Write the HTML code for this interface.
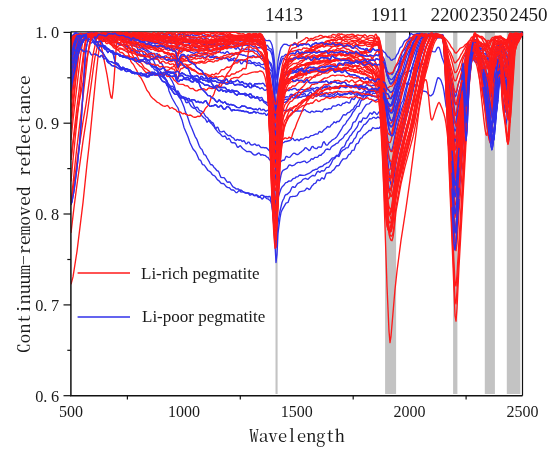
<!DOCTYPE html>
<html><head><meta charset="utf-8"><style>
html,body{margin:0;padding:0;background:#fff;}
svg{display:block;}
.t{font-family:"Liberation Serif","Noto Serif CJK SC",serif;fill:#1a1a1a;}
.m{font-family:"Noto Serif CJK SC","Liberation Serif",serif;font-feature-settings:"hwid";fill:#1a1a1a;}
</style></head><body>
<svg width="550" height="451" viewBox="0 0 550 451">
<rect width="550" height="451" fill="#fff"/>
<rect x="385.1" y="32" width="11.0" height="362.0" fill="#c3c3c3"/><rect x="453.1" y="32" width="4.3" height="362.0" fill="#c3c3c3"/><rect x="484.8" y="32" width="10.1" height="362.0" fill="#c3c3c3"/><rect x="506.8" y="32" width="13.6" height="362.0" fill="#c3c3c3"/><rect x="275.5" y="32" width="2.1" height="362.0" fill="#c3c3c3"/>
<g stroke="#111" stroke-width="1.2" fill="none">
<path d="M70.9 31.8 H522.5 V395.7"/>
<line x1="63.5" y1="32.4" x2="71" y2="32.4"/><line x1="63.5" y1="123.2" x2="71" y2="123.2"/><line x1="63.5" y1="214.0" x2="71" y2="214.0"/><line x1="63.5" y1="304.9" x2="71" y2="304.9"/><line x1="63.5" y1="395.7" x2="71" y2="395.7"/><line x1="67.3" y1="77.8" x2="71" y2="77.8"/><line x1="67.3" y1="168.6" x2="71" y2="168.6"/><line x1="67.3" y1="259.5" x2="71" y2="259.5"/><line x1="67.3" y1="350.3" x2="71" y2="350.3"/><line x1="127.4" y1="395.6" x2="127.4" y2="399.5"/><line x1="240.3" y1="395.6" x2="240.3" y2="399.5"/><line x1="353.2" y1="395.6" x2="353.2" y2="399.5"/><line x1="466.1" y1="395.6" x2="466.1" y2="399.5"/><line x1="71.0" y1="32" x2="71.0" y2="38.8"/><line x1="183.9" y1="32" x2="183.9" y2="38.8"/><line x1="296.8" y1="32" x2="296.8" y2="38.8"/><line x1="409.6" y1="32" x2="409.6" y2="38.8"/><line x1="522.5" y1="32" x2="522.5" y2="38.8"/>
</g>
<svg x="70.9" y="0" width="452" height="395.7" viewBox="70.9 0 452 395.7" overflow="hidden">
<g fill="none" stroke-width="1.35" stroke-linejoin="round">
<path d="M71.0 81.4 73.0 66.4 74.0 60.9 77.0 48.1 78.0 46.4 79.0 44.1 80.0 41.0 82.0 37.0 83.0 36.4 84.0 36.1 86.0 34.2 87.0 34.3 89.0 36.5 91.0 35.6 92.0 36.5 94.0 35.6 95.0 35.9 96.0 35.7 98.0 34.8 99.0 35.2 100.0 36.1 101.0 36.6 102.0 36.8 103.0 36.8 104.0 36.6 105.0 36.0 107.0 35.3 109.0 36.2 111.0 34.8 112.0 35.2 113.0 36.1 114.0 36.4 116.0 35.8 118.0 36.2 119.0 37.0 120.0 38.5 122.0 39.8 123.0 41.3 124.0 41.0 125.0 39.6 126.0 40.5 127.0 42.0 129.0 42.8 132.0 45.6 134.0 45.7 135.0 46.3 136.0 46.0 137.0 47.4 138.0 50.1 139.0 50.0 140.0 49.2 142.0 50.9 144.0 55.2 145.0 54.6 146.0 53.5 147.0 54.4 148.0 55.8 150.0 56.8 151.0 58.6 152.0 59.6 153.0 59.7 154.0 61.4 156.0 66.4 157.0 67.7 158.0 68.3 159.0 69.9 161.0 72.0 163.0 77.5 167.0 80.9 169.0 91.0 172.0 98.0 176.0 105.0 178.0 108.0 179.0 111.1 180.0 115.1 182.0 119.9 184.0 127.4 188.0 136.7 190.0 142.8 193.0 149.0 195.0 151.2 196.0 152.7 197.0 154.7 199.0 159.6 200.0 160.0 201.0 161.0 202.0 163.8 203.0 164.9 204.0 164.9 205.0 166.1 208.0 170.5 210.0 171.7 211.0 172.6 212.0 174.3 213.0 175.2 214.0 175.5 215.0 176.2 217.0 179.2 218.0 180.2 219.0 180.8 221.0 183.2 222.0 183.6 223.0 183.5 224.0 183.8 226.0 186.4 227.0 187.2 228.0 187.6 229.0 187.6 230.0 188.3 231.0 189.6 232.0 190.0 233.0 190.0 234.0 190.4 236.0 192.6 237.0 192.6 239.0 190.5 240.0 191.0 241.0 192.1 243.0 191.6 245.0 193.0 246.0 193.1 247.0 192.9 248.0 193.1 250.0 195.2 251.0 194.8 252.0 193.8 253.0 194.2 254.0 195.7 255.0 195.9 256.0 195.2 257.0 195.1 258.0 195.7 259.0 196.8 260.0 196.5 261.0 195.4 262.0 195.1 263.0 195.4 265.0 197.0 267.0 196.5 268.0 197.1 269.0 196.4 270.0 196.3 271.0 200.6 272.0 206.2 273.0 214.9 275.0 244.6 276.0 262.5 277.0 254.5 278.0 233.1 280.0 217.8 281.0 212.6 282.0 210.2 286.0 203.1 288.0 202.4 290.0 197.1 291.0 196.6 292.0 196.7 293.0 196.3 295.0 196.4 297.0 195.6 298.0 194.2 299.0 192.3 300.0 191.6 304.0 190.9 305.0 190.4 306.0 189.1 307.0 188.1 308.0 188.6 309.0 189.5 310.0 189.2 312.0 185.8 313.0 185.0 314.0 183.7 315.0 183.4 316.0 182.7 317.0 180.4 318.0 179.7 319.0 180.6 320.0 180.3 321.0 178.8 322.0 177.7 324.0 179.1 325.0 177.1 326.0 173.9 327.0 173.0 328.0 173.1 329.0 172.5 330.0 172.9 331.0 172.5 332.0 171.0 334.0 169.6 336.0 166.6 337.0 165.6 338.0 165.9 339.0 165.3 341.0 161.7 343.0 159.0 344.0 158.8 345.0 158.9 346.0 158.6 347.0 157.8 348.0 155.7 349.0 154.3 350.0 154.1 351.0 152.7 352.0 150.4 354.0 150.2 356.0 144.5 357.0 143.6 358.0 143.3 359.0 141.7 360.0 139.0 361.0 138.1 362.0 137.8 363.0 135.9 364.0 134.8 365.0 134.5 366.0 133.4 368.0 131.8 369.0 130.5 371.0 130.5 372.0 128.7 373.0 127.5 375.0 128.5 376.0 128.6 377.0 128.0 379.0 128.3 380.0 126.8 381.0 126.4 382.0 129.9 384.0 140.2 386.0 164.0 388.0 182.0 389.0 187.4 390.0 190.4 391.0 188.9 392.0 186.2 393.0 182.4 395.0 165.7 397.0 156.3 401.0 140.9 402.0 135.8 404.0 127.7 406.0 117.3 408.0 111.9 411.0 97.3 413.0 91.4 417.0 69.3 418.0 62.9 419.0 59.3 420.0 57.7 421.0 55.6 422.0 52.8 424.0 45.2 425.0 42.3 428.0 36.1 430.0 33.9 431.0 33.4 432.0 34.5 434.0 35.1 435.0 35.7 436.0 35.4 438.0 36.2 439.0 35.6 441.0 37.5 442.0 37.7 443.0 38.8 444.0 47.2 445.0 62.6 451.0 172.1 454.0 222.6 455.0 232.9 456.0 227.5 458.0 199.1 468.0 76.2 469.0 67.8 470.0 61.7 472.0 50.6 473.0 46.5 474.0 45.3 476.0 48.7 477.0 50.8 480.0 61.5 484.0 78.8 485.0 83.9 486.0 90.6 489.0 119.6 491.0 137.0 492.0 144.0 493.0 143.7 494.0 135.4 498.0 79.9 499.0 66.8 500.0 56.7 501.0 77.1 502.0 92.3 504.0 107.8 505.0 118.0 506.0 124.8 507.0 117.8 511.0 53.2 512.0 47.5 514.0 44.1 515.0 43.2 516.0 42.6 518.0 38.8 519.0 38.0 520.0 38.0 521.0 36.6 522.0 34.1" stroke="#3030ea"/>
<path d="M71.0 90.6 73.0 78.6 75.0 70.2 78.0 55.2 81.0 45.8 84.0 39.6 85.0 37.9 86.0 36.9 88.0 37.5 89.0 37.3 90.0 37.4 91.0 36.9 92.0 35.4 93.0 34.8 94.0 35.3 95.0 35.5 99.0 35.3 100.0 35.5 102.0 37.1 105.0 36.8 108.0 37.4 109.0 37.0 111.0 37.7 112.0 37.3 114.0 36.1 115.0 36.0 117.0 37.6 118.0 37.2 119.0 36.2 120.0 35.8 121.0 36.9 122.0 37.7 123.0 37.1 127.0 39.5 128.0 39.6 130.0 40.7 131.0 41.4 133.0 44.5 134.0 45.6 136.0 44.4 138.0 44.0 139.0 45.4 140.0 47.3 143.0 49.2 145.0 50.2 148.0 52.2 149.0 54.4 150.0 55.6 151.0 54.4 152.0 53.9 153.0 55.7 154.0 58.4 155.0 59.0 156.0 58.1 157.0 58.6 158.0 59.6 160.0 63.4 161.0 63.3 162.0 63.8 164.0 68.1 166.0 70.3 168.0 74.5 172.0 80.8 174.0 85.2 176.0 91.5 179.0 97.1 180.0 98.2 181.0 99.8 183.0 104.5 184.0 106.9 185.0 110.4 186.0 113.1 187.0 115.0 190.0 124.2 192.0 128.7 195.0 136.3 197.0 139.7 199.0 145.3 200.0 147.4 201.0 148.8 202.0 149.5 204.0 154.6 205.0 154.8 206.0 155.9 207.0 158.0 209.0 161.3 210.0 163.6 211.0 164.8 212.0 164.6 213.0 165.7 214.0 167.5 215.0 168.3 217.0 170.7 218.0 171.0 219.0 172.4 220.0 175.4 221.0 177.4 222.0 177.6 224.0 177.6 225.0 178.8 227.0 181.9 228.0 182.4 229.0 181.8 230.0 182.1 232.0 185.5 233.0 186.8 235.0 187.9 236.0 188.9 237.0 189.0 238.0 188.8 240.0 190.3 241.0 190.0 242.0 190.6 243.0 191.9 245.0 192.3 246.0 193.0 248.0 192.8 249.0 193.0 251.0 194.1 252.0 194.1 254.0 195.4 256.0 194.8 258.0 197.0 259.0 197.4 260.0 197.1 261.0 197.8 262.0 199.1 263.0 198.4 264.0 196.5 265.0 196.3 266.0 198.0 267.0 198.8 268.0 198.8 269.0 199.8 270.0 200.5 271.0 201.6 272.0 205.4 273.0 213.0 275.0 233.1 276.0 247.6 277.0 241.3 278.0 223.1 279.0 216.3 280.0 211.0 282.0 202.5 283.0 200.0 284.0 198.3 285.0 195.4 286.0 194.4 287.0 194.6 290.0 191.7 292.0 187.3 293.0 186.6 294.0 187.4 295.0 187.3 297.0 184.3 298.0 183.3 301.0 181.9 303.0 179.4 305.0 178.5 306.0 178.5 307.0 179.2 308.0 179.3 310.0 177.2 312.0 175.8 313.0 175.3 314.0 175.9 315.0 175.8 317.0 172.1 318.0 171.2 320.0 172.4 321.0 171.2 322.0 170.6 323.0 171.0 324.0 170.9 325.0 169.7 326.0 168.0 327.0 167.3 328.0 167.3 329.0 167.0 331.0 163.9 333.0 159.4 334.0 158.9 335.0 158.1 336.0 156.1 337.0 155.3 338.0 155.5 339.0 154.3 341.0 149.1 342.0 147.8 343.0 147.2 344.0 146.9 345.0 145.4 346.0 142.5 347.0 140.7 348.0 139.9 350.0 136.0 351.0 135.3 353.0 132.1 354.0 131.2 357.0 127.2 358.0 124.9 359.0 121.9 360.0 121.3 361.0 122.2 362.0 120.4 363.0 118.0 364.0 118.1 365.0 118.5 366.0 118.4 367.0 117.7 370.0 112.9 371.0 113.1 372.0 114.2 374.0 111.8 375.0 112.4 376.0 113.7 377.0 114.5 378.0 113.4 379.0 111.9 380.0 112.1 381.0 113.3 383.0 117.9 384.0 121.2 385.0 126.3 387.0 151.7 389.0 172.8 390.0 180.5 391.0 184.4 392.0 183.4 393.0 181.3 394.0 178.0 396.0 163.3 399.0 147.8 403.0 130.7 405.0 123.3 409.0 106.5 411.0 100.2 414.0 84.8 417.0 72.0 418.0 69.5 419.0 66.0 421.0 55.6 423.0 50.3 426.0 39.8 427.0 37.7 429.0 35.3 430.0 34.6 431.0 34.6 432.0 35.3 434.0 35.6 435.0 35.4 436.0 35.0 437.0 35.1 440.0 36.3 441.0 37.2 443.0 37.8 444.0 48.6 445.0 67.2 448.0 133.4 453.0 226.3 454.0 243.9 455.0 249.8 456.0 241.9 461.0 170.5 464.0 131.5 467.0 86.3 468.0 75.8 469.0 69.5 470.0 65.6 471.0 62.5 472.0 60.3 474.0 57.7 475.0 57.5 476.0 58.6 477.0 60.5 478.0 63.6 481.0 76.1 484.0 92.7 486.0 107.2 489.0 134.1 491.0 146.0 492.0 149.7 493.0 144.8 498.0 91.1 499.0 81.4 500.0 75.2 501.0 82.8 502.0 95.3 504.0 103.8 505.0 109.0 506.0 112.4 507.0 106.6 510.0 61.5 511.0 49.7 512.0 45.1 513.0 41.8 514.0 41.4 515.0 41.5 516.0 39.9 517.0 39.2 518.0 38.9 520.0 37.3 521.0 35.8 522.0 33.4" stroke="#3030ea"/>
<path d="M71.0 60.2 72.0 56.4 74.0 46.7 76.0 39.2 77.0 36.5 78.0 35.9 80.0 37.3 81.0 37.0 83.0 35.5 85.0 35.9 87.0 34.6 88.0 35.4 89.0 35.9 90.0 35.1 91.0 34.9 92.0 35.5 93.0 35.5 94.0 35.0 96.0 37.1 97.0 36.6 98.0 35.7 99.0 35.5 100.0 36.6 101.0 37.1 102.0 36.4 105.0 39.5 106.0 39.6 107.0 38.0 108.0 37.9 110.0 41.1 111.0 41.2 112.0 40.0 113.0 39.6 115.0 40.0 116.0 41.0 117.0 42.5 120.0 45.0 121.0 45.1 123.0 44.6 124.0 44.8 125.0 46.5 126.0 46.5 127.0 46.0 128.0 47.8 129.0 48.0 130.0 47.5 131.0 49.2 132.0 50.3 133.0 49.8 134.0 48.9 135.0 49.5 136.0 51.7 138.0 53.6 139.0 55.3 140.0 56.0 141.0 55.7 142.0 55.8 144.0 56.8 146.0 60.7 150.0 63.6 152.0 66.9 153.0 67.5 154.0 69.0 155.0 70.0 156.0 69.8 159.0 73.7 160.0 75.4 161.0 76.5 162.0 76.5 163.0 76.3 164.0 77.0 165.0 78.3 167.0 82.0 168.0 83.4 171.0 86.7 172.0 86.2 173.0 86.4 175.0 90.9 176.0 92.2 178.0 92.9 179.0 94.8 180.0 95.9 181.0 96.1 183.0 98.4 184.0 98.5 185.0 99.9 186.0 102.4 187.0 102.8 188.0 101.9 189.0 102.5 191.0 106.1 192.0 107.1 194.0 108.4 195.0 108.4 196.0 109.2 197.0 111.0 198.0 111.8 199.0 112.1 200.0 112.9 202.0 116.0 204.0 118.0 205.0 118.5 206.0 120.1 207.0 122.3 209.0 120.1 210.0 122.3 211.0 123.2 212.0 122.4 213.0 122.9 214.0 124.8 215.0 127.5 216.0 128.6 217.0 127.2 218.0 127.5 219.0 130.2 220.0 131.6 221.0 131.8 222.0 131.8 223.0 131.3 224.0 131.2 226.0 133.8 228.0 135.5 229.0 135.7 230.0 135.3 232.0 137.3 233.0 137.7 234.0 138.6 235.0 140.2 236.0 140.4 237.0 139.4 238.0 139.6 239.0 140.3 240.0 139.8 241.0 140.0 242.0 141.5 244.0 140.7 246.0 143.8 247.0 143.6 248.0 142.1 249.0 142.1 250.0 143.7 251.0 144.8 252.0 145.0 253.0 144.9 254.0 144.2 255.0 144.0 256.0 145.1 257.0 145.6 258.0 145.0 259.0 145.2 260.0 146.6 261.0 147.6 263.0 147.4 264.0 147.7 266.0 147.7 267.0 148.3 270.0 151.5 271.0 152.9 272.0 155.2 273.0 163.2 275.0 193.6 276.0 212.4 277.0 208.9 278.0 198.0 281.0 188.8 282.0 187.0 284.0 185.1 285.0 183.5 286.0 182.6 287.0 182.4 289.0 180.9 290.0 181.2 291.0 181.0 293.0 178.7 295.0 178.2 296.0 177.0 298.0 176.6 299.0 175.4 300.0 175.0 303.0 175.3 305.0 175.2 310.0 172.8 311.0 172.1 313.0 170.2 314.0 170.2 316.0 169.2 317.0 169.4 319.0 167.3 321.0 166.5 322.0 166.5 323.0 165.9 324.0 164.6 326.0 163.6 327.0 162.8 328.0 162.6 329.0 162.0 332.0 158.1 334.0 157.7 335.0 157.2 337.0 155.5 338.0 156.1 339.0 156.5 341.0 152.0 343.0 150.1 345.0 149.2 346.0 147.9 347.0 147.9 348.0 147.6 350.0 143.6 351.0 142.9 352.0 143.0 353.0 141.4 354.0 139.0 355.0 138.3 356.0 136.9 357.0 134.0 358.0 131.8 359.0 131.5 360.0 130.9 364.0 124.5 365.0 124.4 366.0 123.5 368.0 121.0 369.0 119.5 370.0 118.5 371.0 119.0 372.0 118.5 373.0 117.4 374.0 117.4 376.0 118.5 378.0 116.9 379.0 117.7 380.0 118.1 381.0 117.7 382.0 118.6 384.0 123.8 385.0 125.5 386.0 131.0 388.0 150.0 389.0 157.2 391.0 167.9 392.0 170.7 393.0 168.5 394.0 165.5 395.0 161.2 397.0 147.6 401.0 130.7 403.0 120.6 405.0 114.3 408.0 101.7 409.0 98.2 411.0 89.3 413.0 81.7 415.0 72.4 417.0 65.1 419.0 55.5 425.0 38.8 426.0 36.8 427.0 35.7 428.0 35.3 429.0 35.8 430.0 35.8 431.0 35.2 433.0 35.5 434.0 34.8 435.0 34.4 436.0 34.4 437.0 34.5 439.0 36.0 440.0 36.3 441.0 35.7 442.0 35.7 443.0 37.1 444.0 44.8 445.0 58.9 448.0 113.3 450.0 140.7 454.0 204.9 455.0 213.9 456.0 210.2 457.0 199.3 459.0 167.4 462.0 90.5 463.0 82.7 464.0 98.8 465.0 125.5 466.0 140.6 467.0 130.9 469.0 86.1 470.0 74.2 472.0 57.4 473.0 51.6 474.0 47.7 475.0 45.8 476.0 45.5 477.0 47.3 478.0 50.3 479.0 54.6 484.0 82.7 485.0 89.4 490.0 128.8 491.0 135.8 492.0 139.7 493.0 137.0 494.0 132.4 496.0 114.4 498.0 99.9 499.0 87.4 500.0 79.7 501.0 82.2 502.0 85.5 504.0 93.1 507.0 102.2 508.0 104.5 509.0 99.8 511.0 76.5 513.0 48.5 514.0 44.1 515.0 42.5 517.0 40.7 518.0 39.4 520.0 37.8 522.0 32.7" stroke="#3030ea"/>
<path d="M71.0 64.3 75.0 46.0 76.0 42.9 78.0 38.3 79.0 36.6 80.0 35.7 82.0 36.2 83.0 35.0 84.0 34.8 85.0 35.8 87.0 36.7 88.0 36.3 89.0 35.1 90.0 35.9 91.0 37.3 94.0 35.2 95.0 34.2 98.0 36.9 99.0 38.6 100.0 39.1 101.0 38.5 102.0 38.4 103.0 38.9 104.0 40.3 105.0 40.7 107.0 38.2 108.0 38.4 110.0 41.1 111.0 41.5 112.0 40.9 113.0 40.7 114.0 41.0 115.0 41.8 117.0 43.7 118.0 43.9 119.0 43.5 121.0 44.7 122.0 44.3 123.0 44.3 124.0 43.8 125.0 44.2 126.0 45.8 128.0 46.7 132.0 50.6 133.0 51.2 134.0 50.9 136.0 52.3 137.0 52.1 138.0 51.6 139.0 51.7 141.0 55.7 142.0 55.8 143.0 55.4 146.0 58.0 147.0 59.5 148.0 60.4 149.0 60.7 151.0 63.9 153.0 66.4 155.0 66.3 156.0 67.2 158.0 71.2 160.0 74.6 161.0 75.9 162.0 76.5 164.0 76.8 165.0 77.5 167.0 80.9 169.0 86.1 170.0 87.7 171.0 87.7 173.0 89.3 174.0 89.6 176.0 91.3 178.0 91.0 180.0 94.6 181.0 95.8 182.0 96.6 183.0 97.1 184.0 97.1 186.0 97.6 188.0 101.0 190.0 100.9 192.0 101.7 193.0 103.4 194.0 105.9 195.0 107.5 196.0 107.6 197.0 107.1 198.0 108.1 199.0 110.0 200.0 110.6 201.0 110.9 203.0 112.2 204.0 113.5 205.0 115.5 206.0 116.9 207.0 117.3 208.0 118.3 209.0 120.1 210.0 120.4 211.0 121.6 212.0 124.3 214.0 126.5 215.0 128.4 218.0 132.2 220.0 133.6 222.0 136.0 223.0 136.6 225.0 136.0 226.0 137.4 227.0 139.3 228.0 139.1 229.0 138.4 230.0 139.7 231.0 141.9 232.0 142.8 233.0 142.6 235.0 143.0 236.0 144.2 237.0 146.6 238.0 147.4 240.0 145.7 241.0 146.3 242.0 147.8 243.0 148.8 247.0 151.7 249.0 151.3 251.0 152.0 253.0 154.2 254.0 154.8 255.0 155.0 256.0 154.9 258.0 153.4 259.0 152.9 261.0 155.2 262.0 154.7 263.0 154.8 264.0 155.3 265.0 155.3 267.0 157.1 268.0 157.4 269.0 159.0 270.0 160.1 271.0 160.8 272.0 163.3 273.0 172.7 276.0 224.4 277.0 215.3 278.0 193.5 279.0 185.6 281.0 175.0 282.0 171.8 283.0 170.4 287.0 168.4 289.0 165.2 290.0 164.9 292.0 165.9 294.0 165.1 295.0 164.5 296.0 163.4 298.0 162.4 299.0 162.4 300.0 162.7 304.0 161.1 305.0 161.2 306.0 162.4 307.0 162.8 310.0 160.8 311.0 159.1 312.0 158.7 313.0 159.4 315.0 157.3 317.0 157.3 318.0 156.8 319.0 155.4 320.0 155.2 321.0 155.2 322.0 154.0 324.0 152.5 325.0 150.6 326.0 149.4 328.0 149.0 329.0 149.6 330.0 149.5 331.0 147.5 332.0 146.4 335.0 144.7 336.0 143.6 338.0 142.8 339.0 141.3 340.0 140.2 341.0 139.7 342.0 138.6 343.0 138.0 345.0 134.6 346.0 134.2 347.0 133.3 350.0 129.4 351.0 128.5 352.0 126.0 353.0 122.8 354.0 121.9 355.0 121.8 356.0 120.4 359.0 114.1 360.0 113.2 361.0 113.0 362.0 111.5 363.0 109.3 366.0 104.9 367.0 104.2 369.0 103.9 371.0 101.8 373.0 100.1 374.0 100.3 375.0 100.8 378.0 99.2 379.0 99.3 381.0 102.7 382.0 103.4 383.0 104.5 384.0 107.1 385.0 114.3 387.0 133.8 388.0 140.7 389.0 145.7 390.0 149.4 391.0 151.1 392.0 149.7 393.0 145.7 395.0 135.1 397.0 127.3 399.0 118.3 402.0 107.6 404.0 101.8 405.0 97.9 408.0 83.0 410.0 77.0 413.0 63.8 414.0 61.6 415.0 58.6 417.0 49.8 421.0 39.4 422.0 38.2 424.0 36.9 425.0 35.4 426.0 34.9 427.0 35.3 429.0 34.2 430.0 34.4 431.0 35.0 434.0 35.5 435.0 34.9 436.0 34.7 438.0 36.7 439.0 36.7 441.0 35.3 442.0 36.0 443.0 37.8 444.0 45.1 445.0 58.0 448.0 106.8 450.0 132.3 454.0 189.5 455.0 196.9 456.0 192.9 459.0 157.3 464.0 110.0 467.0 72.8 468.0 63.7 469.0 61.1 470.0 61.1 471.0 59.7 472.0 59.2 473.0 59.6 474.0 60.6 475.0 61.9 476.0 62.6 477.0 62.3 478.0 62.5 479.0 64.9 482.0 75.7 485.0 84.4 487.0 95.1 490.0 116.6 492.0 128.4 493.0 132.2 494.0 129.9 495.0 123.5 497.0 100.9 499.0 84.8 500.0 74.4 501.0 73.3 502.0 82.3 503.0 87.9 506.0 101.2 507.0 103.3 508.0 95.4 511.0 55.8 512.0 46.9 515.0 40.2 516.0 39.5 517.0 39.3 519.0 36.5 520.0 36.7 521.0 35.6 522.0 32.7" stroke="#3030ea"/>
<path d="M71.0 54.9 74.0 43.0 75.0 40.4 77.0 36.0 78.0 35.4 79.0 35.8 80.0 35.1 81.0 35.3 82.0 35.9 84.0 35.9 86.0 34.7 87.0 34.4 89.0 34.8 90.0 35.3 91.0 36.2 93.0 36.7 94.0 37.2 95.0 38.9 96.0 41.5 98.0 43.0 99.0 45.0 100.0 46.1 101.0 45.4 102.0 45.4 104.0 48.2 105.0 49.2 106.0 49.6 108.0 52.5 109.0 51.2 110.0 50.5 111.0 51.7 113.0 51.4 114.0 53.3 115.0 54.5 117.0 54.2 120.0 54.5 121.0 55.6 122.0 56.1 123.0 55.5 125.0 57.1 126.0 56.8 127.0 56.8 129.0 58.9 130.0 59.3 131.0 58.6 132.0 58.8 133.0 59.8 134.0 59.1 135.0 57.8 136.0 57.9 138.0 60.7 139.0 60.9 140.0 60.1 141.0 59.8 142.0 60.3 144.0 59.2 145.0 59.0 146.0 59.2 148.0 60.2 150.0 59.9 152.0 58.6 154.0 58.9 156.0 56.6 157.0 56.0 158.0 56.2 159.0 57.3 160.0 57.6 163.0 56.9 164.0 57.7 165.0 59.0 167.0 60.4 169.0 59.4 171.0 60.5 173.0 59.9 174.0 60.2 175.0 60.0 176.0 60.2 178.0 67.4 180.0 61.7 181.0 61.8 183.0 65.0 185.0 66.6 186.0 67.7 187.0 68.4 188.0 68.5 189.0 70.3 190.0 73.4 191.0 75.3 192.0 75.9 194.0 78.4 195.0 78.1 196.0 78.7 197.0 80.8 199.0 83.0 200.0 85.9 201.0 88.1 206.0 93.1 208.0 95.6 209.0 95.6 210.0 95.8 211.0 97.0 212.0 97.8 213.0 98.1 214.0 98.8 216.0 101.2 217.0 102.1 218.0 101.3 219.0 99.9 220.0 100.6 221.0 101.8 222.0 102.1 223.0 103.0 225.0 101.9 226.0 103.3 227.0 104.2 228.0 104.1 229.0 104.7 230.0 104.7 231.0 104.4 232.0 105.0 234.0 105.2 237.0 107.4 239.0 107.6 240.0 107.5 242.0 105.9 243.0 106.2 245.0 106.2 247.0 107.8 248.0 108.2 250.0 107.8 252.0 108.6 253.0 109.2 254.0 109.3 256.0 109.1 257.0 109.7 258.0 109.9 259.0 108.4 260.0 108.5 261.0 110.2 262.0 110.1 263.0 109.3 264.0 109.5 265.0 110.7 266.0 111.3 267.0 110.6 268.0 110.2 269.0 110.8 270.0 112.8 271.0 115.5 272.0 119.3 273.0 128.4 274.0 142.5 276.0 177.2 277.0 175.8 278.0 169.2 280.0 162.8 281.0 161.3 283.0 160.2 284.0 160.4 285.0 158.8 286.0 156.5 287.0 156.5 288.0 157.1 289.0 157.3 290.0 157.1 293.0 153.6 294.0 153.2 295.0 153.3 296.0 154.2 297.0 154.6 298.0 154.5 299.0 153.8 300.0 152.7 301.0 152.2 302.0 151.1 303.0 150.5 304.0 149.6 305.0 147.8 306.0 147.7 308.0 149.4 309.0 150.5 310.0 150.2 312.0 146.7 313.0 146.5 314.0 147.8 316.0 148.7 317.0 148.5 318.0 147.2 319.0 146.9 321.0 147.4 322.0 145.9 323.0 142.8 324.0 141.6 326.0 144.8 327.0 145.2 328.0 144.5 329.0 142.9 331.0 141.3 332.0 140.1 335.0 138.5 336.0 137.6 337.0 136.3 342.0 128.3 343.0 126.3 344.0 125.1 345.0 124.5 346.0 123.0 347.0 120.9 348.0 119.9 351.0 115.9 353.0 111.9 354.0 110.9 355.0 109.5 357.0 106.3 359.0 106.4 361.0 100.8 362.0 99.9 363.0 99.8 364.0 99.4 366.0 96.8 368.0 95.4 369.0 95.2 371.0 95.7 373.0 93.1 375.0 93.5 376.0 92.7 377.0 92.4 378.0 92.5 380.0 92.1 381.0 92.7 382.0 94.3 385.0 101.8 386.0 107.8 388.0 123.9 389.0 129.1 391.0 135.3 392.0 135.9 393.0 134.9 394.0 132.7 397.0 119.5 399.0 112.6 401.0 103.9 402.0 102.0 403.0 100.5 405.0 91.4 406.0 88.0 409.0 79.3 411.0 71.4 412.0 68.9 414.0 61.1 415.0 58.3 416.0 54.8 417.0 52.2 418.0 50.6 419.0 48.2 421.0 42.5 424.0 37.1 425.0 35.8 426.0 35.0 429.0 34.0 431.0 36.0 432.0 36.4 434.0 35.3 436.0 36.0 437.0 36.1 438.0 36.0 439.0 36.4 440.0 36.2 441.0 35.5 443.0 38.3 444.0 44.0 445.0 55.8 450.0 129.0 453.0 162.4 454.0 176.8 455.0 185.5 456.0 183.0 457.0 174.2 459.0 147.9 462.0 80.1 463.0 73.0 464.0 86.7 465.0 109.5 466.0 122.6 467.0 115.6 469.0 77.9 470.0 66.7 472.0 48.0 473.0 41.8 474.0 39.0 475.0 39.4 477.0 45.5 481.0 61.9 482.0 67.3 484.0 79.2 489.0 121.6 490.0 128.4 491.0 132.5 492.0 126.5 496.0 74.4 499.0 52.8 500.0 50.6 501.0 53.2 504.0 71.7 507.0 92.5 508.0 96.8 509.0 90.2 512.0 51.0 513.0 44.1 515.0 40.2 518.0 38.0 519.0 38.2 520.0 37.8 522.0 32.9" stroke="#3030ea"/>
<path d="M71.0 69.0 72.0 63.9 76.0 51.0 78.0 43.2 79.0 40.1 80.0 38.4 81.0 37.4 82.0 37.1 84.0 35.5 85.0 35.6 86.0 36.8 87.0 38.4 88.0 38.5 89.0 37.4 90.0 37.8 93.0 41.9 94.0 42.2 95.0 42.3 96.0 44.0 97.0 46.2 99.0 49.0 103.0 53.0 106.0 58.3 107.0 61.1 108.0 62.4 110.0 63.6 112.0 65.7 114.0 66.0 117.0 67.3 119.0 68.7 120.0 68.9 121.0 69.9 122.0 69.8 123.0 68.4 124.0 69.1 125.0 70.6 126.0 71.3 127.0 71.5 128.0 70.7 129.0 70.4 131.0 72.3 132.0 73.0 133.0 73.2 135.0 72.9 137.0 73.5 139.0 73.7 140.0 73.5 141.0 73.0 143.0 74.5 144.0 74.1 146.0 74.3 149.0 72.4 150.0 72.9 151.0 74.2 152.0 74.6 153.0 74.6 155.0 74.9 157.0 74.6 158.0 74.7 159.0 75.8 162.0 80.7 163.0 81.5 165.0 82.0 166.0 83.1 167.0 85.4 168.0 86.7 169.0 86.6 170.0 87.4 171.0 89.1 174.0 93.4 175.0 94.1 176.0 94.3 177.0 94.2 178.0 94.5 180.0 97.4 181.0 98.2 183.0 97.0 184.0 97.6 185.0 99.0 186.0 99.6 187.0 99.4 188.0 98.5 189.0 98.7 190.0 100.3 191.0 100.3 192.0 99.6 194.0 99.9 195.0 100.4 196.0 101.8 197.0 102.0 198.0 101.3 199.0 102.1 200.0 102.6 201.0 102.0 202.0 102.6 203.0 102.9 205.0 101.0 206.0 100.8 208.0 104.3 210.0 106.3 211.0 106.3 212.0 105.7 213.0 105.9 214.0 105.5 215.0 104.7 216.0 105.1 218.0 107.1 219.0 107.1 220.0 106.0 221.0 105.4 222.0 106.6 223.0 108.4 224.0 109.2 225.0 109.1 227.0 106.7 228.0 106.5 230.0 108.3 231.0 110.0 232.0 110.9 233.0 109.7 234.0 109.7 235.0 110.3 236.0 110.4 238.0 110.2 239.0 110.6 240.0 110.3 242.0 111.2 243.0 110.8 244.0 111.5 245.0 111.6 246.0 111.4 248.0 112.0 249.0 112.9 250.0 113.1 251.0 112.6 252.0 112.9 253.0 112.2 254.0 111.3 256.0 112.9 257.0 112.4 258.0 112.3 259.0 113.2 260.0 113.5 261.0 113.3 262.0 113.9 263.0 113.9 264.0 113.1 265.0 113.5 266.0 115.2 267.0 115.2 268.0 113.5 269.0 113.7 270.0 116.6 271.0 118.7 272.0 121.7 273.0 132.1 275.0 165.0 276.0 184.7 277.0 178.4 278.0 162.1 279.0 156.1 281.0 147.2 282.0 143.7 283.0 142.7 284.0 142.3 285.0 141.4 286.0 141.5 290.0 140.5 291.0 139.8 292.0 138.3 293.0 138.3 294.0 140.0 295.0 140.6 297.0 139.2 298.0 139.8 299.0 140.8 301.0 138.8 302.0 139.2 303.0 139.1 304.0 138.5 306.0 137.1 308.0 137.7 309.0 137.3 311.0 135.6 313.0 135.3 316.0 133.9 317.0 134.1 318.0 133.8 319.0 131.9 320.0 131.4 321.0 132.3 322.0 132.1 324.0 129.7 326.0 128.3 327.0 126.8 328.0 126.5 329.0 127.2 330.0 126.8 331.0 125.2 333.0 123.5 334.0 121.8 336.0 122.8 337.0 121.5 339.0 121.5 341.0 118.9 343.0 115.2 344.0 114.7 345.0 115.0 346.0 114.9 347.0 113.5 348.0 112.6 349.0 112.5 350.0 111.9 351.0 110.6 352.0 109.8 353.0 109.3 355.0 105.9 356.0 105.2 357.0 103.8 360.0 98.7 361.0 98.3 362.0 98.5 363.0 97.8 365.0 93.9 366.0 92.7 367.0 92.2 368.0 92.0 370.0 90.6 371.0 90.5 373.0 88.8 374.0 89.2 375.0 90.2 376.0 90.1 377.0 89.3 379.0 89.9 380.0 89.7 381.0 90.1 383.0 92.6 384.0 94.5 385.0 100.2 386.0 108.1 388.0 119.1 389.0 123.0 390.0 125.7 391.0 126.9 392.0 126.1 393.0 124.4 398.0 104.3 400.0 98.8 401.0 94.7 402.0 92.0 403.0 90.3 405.0 81.1 406.0 78.4 407.0 76.3 409.0 68.8 412.0 59.8 419.0 41.0 420.0 38.9 424.0 36.9 426.0 36.0 427.0 34.8 428.0 35.2 429.0 36.2 432.0 34.1 433.0 34.5 434.0 35.9 436.0 37.4 437.0 37.7 440.0 36.4 441.0 37.0 442.0 38.1 443.0 38.5 444.0 41.7 445.0 49.4 446.0 59.8 453.0 143.2 455.0 170.1 456.0 177.5 457.0 175.1 460.0 144.8 466.0 91.0 468.0 71.2 469.0 63.4 470.0 58.5 471.0 55.2 472.0 53.1 475.0 48.9 476.0 50.0 478.0 53.7 479.0 57.3 481.0 66.8 483.0 74.6 485.0 84.0 486.0 89.8 491.0 129.1 493.0 141.7 494.0 138.8 495.0 129.5 497.0 106.5 500.0 66.8 501.0 56.4 503.0 77.1 504.0 82.3 505.0 86.2 506.0 91.8 507.0 95.5 508.0 87.9 511.0 51.5 512.0 44.9 513.0 43.8 514.0 41.5 515.0 40.9 516.0 41.4 517.0 40.1 518.0 38.3 519.0 37.2 520.0 36.3 521.0 36.0 522.0 34.9" stroke="#3030ea"/>
<path d="M71.0 84.2 74.0 72.2 76.0 60.5 77.0 56.1 79.0 50.4 80.0 46.8 81.0 44.4 83.0 41.8 85.0 38.5 86.0 38.3 87.0 39.3 90.0 39.5 91.0 38.6 92.0 38.8 95.0 42.0 97.0 41.6 98.0 42.0 99.0 41.9 100.0 41.1 101.0 41.2 103.0 45.2 104.0 45.9 105.0 46.0 106.0 47.2 107.0 48.8 109.0 49.5 111.0 52.1 113.0 53.2 114.0 56.8 115.0 61.7 116.0 64.3 118.0 65.0 119.0 66.2 121.0 68.1 122.0 67.8 123.0 67.1 125.0 69.5 126.0 69.2 127.0 69.2 129.0 69.6 130.0 70.0 131.0 71.1 132.0 71.6 133.0 71.8 134.0 73.3 135.0 73.8 136.0 72.7 137.0 72.7 139.0 73.7 141.0 75.5 142.0 75.7 143.0 75.5 144.0 75.6 145.0 75.9 146.0 76.7 147.0 77.0 152.0 72.0 153.0 72.8 154.0 74.2 155.0 74.6 156.0 74.3 157.0 73.4 158.0 73.3 159.0 74.1 160.0 73.6 161.0 72.5 162.0 73.1 163.0 74.7 164.0 75.5 166.0 73.5 168.0 74.9 169.0 74.6 171.0 76.4 173.0 76.2 174.0 76.2 175.0 75.1 176.0 74.6 178.0 81.6 179.0 81.5 180.0 80.0 182.0 80.3 183.0 79.2 184.0 78.7 186.0 79.6 188.0 79.6 189.0 79.8 191.0 81.5 193.0 82.0 195.0 79.9 197.0 82.1 198.0 82.1 199.0 81.3 200.0 81.6 201.0 82.5 203.0 83.4 205.0 85.2 207.0 85.0 208.0 85.1 210.0 86.4 212.0 86.8 213.0 87.7 214.0 88.2 215.0 87.4 216.0 85.7 217.0 85.3 219.0 87.5 220.0 87.7 222.0 87.4 225.0 87.5 226.0 88.5 227.0 90.1 229.0 89.9 230.0 90.9 231.0 90.7 232.0 90.1 233.0 90.3 234.0 91.0 235.0 91.2 236.0 91.0 237.0 91.2 238.0 91.6 240.0 94.2 241.0 94.1 242.0 93.6 243.0 94.3 244.0 94.3 245.0 93.3 247.0 94.6 249.0 94.4 250.0 94.0 251.0 94.1 252.0 96.0 253.0 97.1 254.0 96.9 255.0 97.8 256.0 97.6 257.0 96.8 258.0 97.0 260.0 98.1 261.0 97.5 262.0 97.7 263.0 100.0 264.0 101.2 265.0 101.6 266.0 102.4 267.0 102.2 268.0 103.1 269.0 104.5 270.0 104.4 271.0 106.0 272.0 109.3 273.0 116.8 274.0 130.4 276.0 163.7 277.0 155.5 278.0 134.5 279.0 126.3 280.0 119.8 281.0 115.1 282.0 112.2 283.0 110.8 284.0 110.2 285.0 110.4 286.0 111.0 288.0 109.7 291.0 109.3 293.0 111.6 294.0 111.9 296.0 111.0 298.0 110.8 300.0 111.1 301.0 110.9 302.0 111.1 303.0 110.7 304.0 109.6 305.0 109.6 306.0 110.7 307.0 111.5 308.0 111.7 309.0 112.4 310.0 112.7 311.0 111.7 312.0 111.1 314.0 112.2 315.0 111.9 316.0 111.0 318.0 111.3 319.0 111.1 320.0 111.3 321.0 111.8 322.0 111.9 324.0 109.4 325.0 108.9 327.0 109.7 329.0 108.6 330.0 108.9 331.0 108.8 332.0 107.1 333.0 105.9 335.0 106.2 336.0 105.9 338.0 104.6 339.0 104.5 340.0 105.4 341.0 105.6 343.0 103.3 344.0 103.4 345.0 103.0 346.0 102.1 347.0 102.0 349.0 103.1 350.0 102.7 351.0 100.0 352.0 98.1 353.0 99.2 354.0 99.6 355.0 98.1 358.0 94.7 359.0 93.8 360.0 94.4 361.0 95.7 362.0 96.2 364.0 95.1 365.0 94.8 366.0 94.0 367.0 92.3 368.0 91.6 369.0 92.3 370.0 92.3 371.0 91.4 372.0 91.5 373.0 91.8 374.0 91.0 375.0 91.4 376.0 92.1 377.0 91.4 378.0 90.3 379.0 90.0 381.0 93.1 383.0 94.1 384.0 94.9 385.0 96.6 387.0 106.9 389.0 115.1 390.0 118.5 391.0 120.4 392.0 120.8 393.0 118.8 394.0 115.1 396.0 105.9 397.0 103.7 399.0 95.3 401.0 88.4 402.0 85.9 404.0 83.7 405.0 82.7 406.0 83.0 407.0 84.3 408.0 84.6 410.0 83.1 414.0 86.2 416.0 84.6 417.0 84.9 423.0 91.0 426.0 91.6 427.0 92.3 428.0 93.9 430.0 95.8 431.0 95.8 433.0 93.9 434.0 91.3 437.0 79.8 438.0 77.6 439.0 78.0 440.0 78.9 441.0 80.4 443.0 86.3 444.0 91.3 446.0 105.5 447.0 109.7 449.0 95.9 450.0 100.8 453.0 142.9 454.0 154.4 455.0 164.6 456.0 167.7 457.0 162.8 459.0 143.1 468.0 67.1 469.0 59.8 470.0 56.2 471.0 54.9 472.0 54.7 473.0 54.9 474.0 54.0 475.0 52.5 476.0 52.5 477.0 54.3 479.0 56.8 480.0 59.3 483.0 69.3 485.0 74.8 487.0 82.5 489.0 97.8 493.0 122.2 494.0 120.3 495.0 109.7 499.0 58.1 500.0 50.6 501.0 57.0 502.0 65.4 505.0 82.8 506.0 86.9 507.0 79.6 509.0 55.2 510.0 45.2 511.0 41.5 512.0 40.4 513.0 40.4 514.0 39.9 517.0 37.9 518.0 37.9 519.0 37.1 520.0 35.2 522.0 34.9" stroke="#3030ea"/>
<path d="M71.0 74.7 73.0 66.4 77.0 51.7 78.0 48.7 79.0 46.4 81.0 42.8 82.0 40.5 83.0 39.6 84.0 39.5 85.0 38.1 86.0 37.7 87.0 38.2 88.0 37.9 90.0 36.7 91.0 36.4 92.0 36.9 93.0 37.8 94.0 37.1 95.0 36.9 96.0 38.1 97.0 37.1 98.0 35.1 99.0 34.3 101.0 34.9 104.0 35.4 105.0 36.1 106.0 36.0 107.0 35.2 108.0 34.0 109.0 33.3 110.0 34.0 112.0 33.7 113.0 34.3 115.0 33.2 117.0 34.9 118.0 35.1 119.0 35.6 120.0 35.7 122.0 35.3 123.0 35.4 124.0 35.8 126.0 37.1 128.0 37.0 129.0 37.6 131.0 39.3 132.0 38.8 133.0 37.7 134.0 38.2 136.0 39.5 137.0 39.8 138.0 39.7 140.0 42.0 142.0 41.6 144.0 42.2 145.0 42.8 146.0 44.1 147.0 44.5 148.0 43.7 149.0 43.9 150.0 44.7 151.0 44.7 153.0 46.1 154.0 45.6 155.0 45.4 157.0 46.9 158.0 46.9 160.0 45.6 162.0 46.4 163.0 46.2 164.0 46.6 166.0 48.9 167.0 48.9 168.0 47.9 169.0 48.3 170.0 49.7 172.0 50.0 173.0 51.0 174.0 51.1 175.0 50.8 176.0 52.6 178.0 61.4 179.0 60.1 180.0 56.9 181.0 55.0 183.0 54.5 184.0 54.6 186.0 57.2 187.0 57.4 188.0 59.1 189.0 61.4 193.0 63.7 194.0 64.0 195.0 64.8 196.0 66.5 197.0 67.8 202.0 70.9 204.0 74.6 205.0 75.1 206.0 76.2 207.0 78.7 208.0 80.5 210.0 80.2 212.0 83.8 214.0 86.5 216.0 87.9 218.0 90.3 219.0 90.8 220.0 90.5 221.0 89.3 222.0 89.8 223.0 91.3 224.0 90.7 225.0 90.6 226.0 92.0 227.0 91.8 228.0 91.0 229.0 91.4 231.0 92.5 233.0 91.3 235.0 93.9 237.0 95.2 239.0 93.2 240.0 93.6 242.0 93.6 243.0 94.0 244.0 94.0 245.0 95.0 246.0 95.7 247.0 94.9 248.0 95.0 250.0 97.2 251.0 97.8 252.0 97.7 253.0 96.5 254.0 96.5 255.0 97.8 257.0 97.6 258.0 98.0 260.0 100.8 262.0 99.6 263.0 100.7 264.0 102.5 266.0 103.6 267.0 104.7 268.0 105.5 270.0 107.5 271.0 107.9 272.0 110.7 273.0 120.0 275.0 150.8 276.0 169.2 277.0 158.5 278.0 133.3 279.0 123.6 280.0 115.2 281.0 108.8 282.0 104.4 283.0 102.4 285.0 102.4 287.0 101.1 288.0 99.7 289.0 99.2 290.0 99.4 292.0 95.6 293.0 95.3 294.0 95.3 295.0 96.1 296.0 96.6 298.0 93.0 299.0 92.4 300.0 92.4 302.0 92.8 303.0 92.5 304.0 91.7 306.0 91.5 307.0 90.9 309.0 91.0 312.0 89.6 313.0 89.7 314.0 91.3 315.0 92.0 317.0 89.3 318.0 89.0 319.0 88.9 321.0 87.2 325.0 87.6 326.0 87.3 328.0 85.9 329.0 85.9 330.0 86.5 331.0 87.3 332.0 87.7 334.0 87.1 335.0 86.5 336.0 86.3 338.0 86.9 339.0 87.5 340.0 87.1 341.0 86.4 344.0 87.1 345.0 86.4 346.0 86.3 347.0 87.1 349.0 85.8 350.0 86.9 351.0 87.5 352.0 86.6 353.0 86.4 354.0 87.1 355.0 87.3 356.0 87.1 357.0 87.1 358.0 87.9 359.0 89.6 360.0 89.5 361.0 87.8 362.0 86.9 364.0 88.3 365.0 88.2 366.0 88.5 368.0 89.8 369.0 91.1 370.0 91.5 371.0 90.4 372.0 90.0 374.0 90.6 375.0 91.4 376.0 91.8 379.0 89.6 380.0 89.4 381.0 91.2 382.0 92.6 383.0 92.6 384.0 93.3 385.0 96.9 387.0 105.9 388.0 109.1 390.0 111.9 391.0 112.9 392.0 112.9 393.0 111.6 395.0 102.9 397.0 96.7 398.0 92.0 399.0 88.6 400.0 86.9 401.0 84.2 404.0 72.7 407.0 62.6 408.0 59.8 410.0 51.9 412.0 47.3 413.0 43.9 414.0 41.5 415.0 40.7 419.0 35.4 420.0 35.4 421.0 35.6 423.0 34.8 424.0 34.6 425.0 34.6 426.0 35.1 428.0 35.0 429.0 35.7 430.0 36.8 431.0 36.6 432.0 35.5 434.0 35.3 436.0 33.3 437.0 33.7 439.0 37.1 440.0 37.0 441.0 36.2 442.0 36.9 443.0 39.0 444.0 43.7 445.0 50.8 448.0 86.0 452.0 129.0 454.0 150.3 455.0 158.2 456.0 157.6 457.0 151.6 459.0 131.0 462.0 71.5 463.0 64.0 464.0 75.0 465.0 94.8 466.0 106.1 467.0 99.9 469.0 67.8 470.0 61.1 471.0 58.8 472.0 55.3 473.0 52.7 474.0 51.8 475.0 50.9 476.0 50.8 478.0 54.0 479.0 56.9 480.0 61.4 482.0 67.4 485.0 81.9 486.0 88.0 490.0 117.8 491.0 123.6 492.0 124.4 493.0 118.7 497.0 78.7 499.0 65.6 500.0 61.3 501.0 60.9 502.0 63.9 506.0 79.0 507.0 81.4 508.0 84.6 509.0 82.2 511.0 61.9 512.0 48.3 513.0 41.7 515.0 39.3 516.0 38.5 517.0 38.3 519.0 36.0 520.0 35.5 522.0 32.4" stroke="#3030ea"/>
<path d="M71.0 53.3 72.0 54.3 73.0 53.6 74.0 51.0 75.0 49.7 76.0 50.7 77.0 51.0 78.0 50.6 79.0 50.5 80.0 49.4 81.0 49.1 83.0 51.1 84.0 51.7 85.0 51.3 86.0 51.2 87.0 51.5 88.0 51.0 89.0 51.1 90.0 52.4 91.0 54.4 92.0 55.1 94.0 54.2 95.0 54.1 96.0 54.5 98.0 55.6 99.0 56.7 100.0 56.9 101.0 55.6 102.0 55.4 104.0 59.0 106.0 58.1 108.0 60.5 109.0 61.4 111.0 61.6 114.0 63.1 115.0 63.2 116.0 63.0 117.0 63.2 118.0 63.9 120.0 67.2 121.0 67.9 122.0 68.2 124.0 68.1 125.0 68.7 126.0 68.7 127.0 69.2 128.0 70.8 129.0 71.1 130.0 70.5 131.0 71.1 132.0 72.6 133.0 72.8 134.0 72.4 135.0 72.5 136.0 73.0 137.0 73.8 138.0 74.2 140.0 73.3 141.0 73.3 142.0 73.7 143.0 74.4 144.0 74.8 145.0 74.4 146.0 74.9 147.0 76.2 148.0 76.9 149.0 76.6 150.0 75.4 151.0 75.0 152.0 75.2 153.0 73.4 154.0 72.1 155.0 72.8 156.0 74.1 157.0 74.2 158.0 73.4 159.0 73.5 160.0 73.4 162.0 74.1 164.0 72.3 166.0 73.1 168.0 71.2 169.0 71.8 170.0 72.8 171.0 73.3 173.0 72.2 175.0 72.6 177.0 71.3 178.0 71.4 180.0 74.3 182.0 72.8 185.0 74.6 186.0 75.4 187.0 75.7 188.0 75.5 190.0 76.7 192.0 75.9 193.0 76.3 194.0 76.3 196.0 75.9 197.0 75.5 198.0 76.2 199.0 78.1 200.0 78.1 201.0 76.3 202.0 76.4 203.0 77.7 204.0 78.5 205.0 78.7 206.0 77.9 207.0 77.7 208.0 78.7 209.0 78.6 210.0 77.7 211.0 77.7 212.0 78.4 213.0 78.6 215.0 78.4 216.0 78.0 217.0 78.6 218.0 79.9 219.0 80.3 220.0 80.4 221.0 81.0 223.0 80.5 224.0 81.4 225.0 80.7 226.0 78.9 227.0 79.3 228.0 81.5 229.0 82.3 230.0 81.1 231.0 80.8 232.0 81.7 235.0 81.6 237.0 80.2 238.0 80.3 240.0 82.8 242.0 81.7 243.0 82.3 244.0 83.3 245.0 83.7 246.0 83.5 248.0 84.9 249.0 83.8 250.0 83.2 251.0 83.9 252.0 85.6 253.0 86.6 255.0 83.7 257.0 83.8 259.0 83.5 261.0 83.9 263.0 83.2 264.0 84.1 265.0 86.0 266.0 86.0 267.0 85.1 268.0 84.8 269.0 86.1 270.0 89.0 272.0 92.1 273.0 100.6 275.0 130.6 276.0 148.5 277.0 140.8 278.0 122.5 280.0 109.5 281.0 104.4 282.0 101.5 283.0 100.5 285.0 99.3 286.0 99.1 287.0 99.5 288.0 98.9 289.0 98.7 290.0 98.8 291.0 96.8 292.0 96.0 293.0 97.8 294.0 98.2 295.0 97.2 296.0 97.4 297.0 98.0 298.0 97.9 299.0 97.4 300.0 97.2 301.0 97.3 303.0 96.2 304.0 96.3 305.0 95.9 307.0 96.2 308.0 95.1 309.0 95.3 310.0 96.3 312.0 93.7 313.0 94.3 314.0 94.5 316.0 96.6 318.0 95.1 319.0 95.3 320.0 96.2 321.0 96.3 322.0 95.7 324.0 96.2 325.0 96.0 327.0 96.3 329.0 96.0 330.0 96.4 332.0 95.6 333.0 96.6 334.0 96.6 335.0 95.5 336.0 95.3 337.0 94.3 338.0 93.7 340.0 95.8 342.0 94.2 344.0 94.2 345.0 94.7 346.0 94.5 349.0 93.2 351.0 92.6 353.0 91.1 355.0 93.1 358.0 92.7 360.0 93.0 362.0 92.7 363.0 92.2 364.0 90.9 365.0 90.4 366.0 91.6 367.0 92.3 368.0 91.6 369.0 91.4 370.0 91.2 371.0 91.6 372.0 91.3 373.0 90.0 374.0 90.4 375.0 91.4 380.0 92.0 381.0 92.8 382.0 94.4 383.0 95.2 384.0 95.4 385.0 96.8 387.0 102.1 388.0 103.2 391.0 105.3 392.0 105.3 393.0 103.1 394.0 99.6 397.0 91.4 398.0 89.4 401.0 78.7 402.0 75.8 403.0 73.7 405.0 67.7 406.0 65.7 408.0 58.9 409.0 56.3 411.0 51.3 412.0 49.4 414.0 44.9 416.0 41.9 419.0 35.2 420.0 35.2 421.0 36.8 422.0 37.1 424.0 35.2 425.0 35.7 426.0 37.3 427.0 38.0 429.0 36.1 431.0 34.8 432.0 34.8 434.0 35.3 435.0 36.3 436.0 36.7 437.0 36.0 438.0 35.5 440.0 37.2 441.0 36.4 442.0 36.4 443.0 38.0 444.0 42.1 445.0 48.2 446.0 56.6 448.0 81.5 455.0 156.4 456.0 160.3 457.0 155.2 460.0 127.9 462.0 114.0 469.0 59.3 470.0 54.0 473.0 41.5 474.0 39.6 475.0 39.7 476.0 40.0 477.0 40.8 478.0 42.3 479.0 44.5 482.0 56.6 484.0 63.4 485.0 68.0 490.0 109.5 491.0 114.7 492.0 112.7 493.0 104.8 495.0 85.4 496.0 77.7 497.0 73.1 498.0 70.1 499.0 67.9 500.0 67.0 502.0 69.8 503.0 70.9 506.0 77.3 507.0 77.2 511.0 41.8 512.0 40.3 513.0 39.5 514.0 38.4 516.0 39.1 517.0 38.4 518.0 38.1 519.0 38.7 520.0 37.7 521.0 35.0 522.0 33.8" stroke="#3030ea"/>
<path d="M71.0 45.7 72.0 43.9 74.0 38.5 75.0 37.4 76.0 37.7 77.0 37.2 78.0 36.3 80.0 38.0 81.0 38.0 83.0 37.3 84.0 37.6 88.0 40.3 90.0 42.6 91.0 43.2 93.0 41.8 95.0 44.3 96.0 44.6 98.0 45.7 99.0 45.9 101.0 46.6 102.0 46.6 103.0 46.0 104.0 46.5 105.0 47.9 107.0 48.1 110.0 50.3 111.0 50.7 112.0 50.8 113.0 51.1 114.0 52.5 115.0 53.5 116.0 53.1 117.0 53.2 118.0 54.1 120.0 56.4 121.0 56.1 122.0 56.4 123.0 57.3 124.0 56.7 125.0 56.9 126.0 57.8 128.0 57.8 129.0 58.1 130.0 58.7 132.0 58.6 135.0 61.3 136.0 61.6 138.0 61.2 139.0 62.1 140.0 62.4 141.0 61.2 142.0 60.6 145.0 62.0 147.0 63.7 148.0 63.4 149.0 63.4 152.0 66.7 154.0 66.4 156.0 67.9 158.0 68.5 159.0 69.2 160.0 69.4 161.0 69.2 163.0 67.7 164.0 68.1 165.0 70.5 166.0 72.0 167.0 71.4 169.0 72.7 170.0 72.1 171.0 72.0 173.0 73.3 174.0 73.5 175.0 75.5 176.0 79.2 177.0 80.7 179.0 75.7 181.0 75.8 182.0 75.1 184.0 77.7 185.0 77.8 186.0 78.1 187.0 77.5 188.0 77.5 189.0 79.1 190.0 78.9 191.0 77.3 192.0 77.6 193.0 79.6 194.0 80.5 196.0 79.1 197.0 79.2 199.0 80.3 200.0 79.6 201.0 78.4 202.0 79.0 203.0 80.3 204.0 80.2 205.0 80.3 206.0 80.8 207.0 80.8 208.0 81.8 209.0 82.1 210.0 80.3 211.0 79.4 212.0 80.6 213.0 81.3 215.0 81.0 216.0 81.3 217.0 82.1 219.0 82.7 220.0 82.3 221.0 82.1 222.0 83.0 223.0 83.0 224.0 82.4 225.0 83.0 226.0 84.1 227.0 84.1 229.0 83.4 230.0 83.2 231.0 83.4 232.0 82.7 233.0 82.9 234.0 84.5 235.0 85.2 237.0 84.5 239.0 84.5 240.0 84.9 241.0 84.9 242.0 84.5 243.0 85.2 244.0 86.3 245.0 87.0 246.0 87.2 248.0 85.3 250.0 87.5 251.0 87.7 253.0 85.5 255.0 85.9 257.0 87.0 258.0 87.0 259.0 87.8 260.0 88.9 262.0 87.7 263.0 88.6 264.0 89.9 265.0 90.3 266.0 90.0 267.0 89.2 268.0 89.1 269.0 90.6 271.0 95.7 272.0 97.6 273.0 104.8 275.0 134.7 276.0 152.9 277.0 144.3 278.0 122.5 279.0 113.6 280.0 105.6 281.0 100.4 282.0 97.1 283.0 95.9 284.0 97.0 285.0 97.5 287.0 96.7 288.0 97.1 289.0 96.9 290.0 95.3 291.0 94.2 292.0 94.3 293.0 94.8 295.0 94.7 296.0 95.1 298.0 97.3 299.0 96.3 300.0 94.7 301.0 94.5 302.0 94.7 303.0 94.6 304.0 93.5 305.0 93.7 306.0 95.8 307.0 96.0 308.0 94.5 309.0 93.7 310.0 92.3 311.0 92.0 312.0 93.8 313.0 94.5 314.0 93.8 315.0 93.6 316.0 94.2 317.0 94.2 318.0 93.8 319.0 94.3 320.0 94.4 321.0 93.0 322.0 92.4 324.0 95.1 325.0 94.4 326.0 93.0 327.0 92.7 328.0 94.1 329.0 94.8 330.0 94.7 332.0 93.3 333.0 94.3 334.0 94.6 336.0 92.2 337.0 92.2 338.0 93.5 339.0 94.1 340.0 94.0 342.0 95.3 343.0 95.0 344.0 93.9 345.0 93.3 346.0 93.6 347.0 94.2 349.0 92.5 350.0 93.8 351.0 94.4 352.0 93.7 353.0 93.4 354.0 93.9 355.0 95.1 356.0 94.9 357.0 93.6 358.0 93.5 359.0 94.8 360.0 95.4 362.0 95.8 365.0 95.6 367.0 94.7 368.0 94.5 369.0 93.7 370.0 93.5 371.0 95.5 372.0 96.4 373.0 95.8 375.0 96.8 376.0 96.6 377.0 95.7 378.0 96.1 379.0 97.0 380.0 96.0 381.0 94.4 382.0 94.8 384.0 97.0 385.0 99.2 387.0 100.0 389.0 105.2 390.0 106.4 391.0 105.7 394.0 96.4 396.0 90.9 398.0 84.4 401.0 77.5 402.0 76.3 403.0 75.8 405.0 72.8 406.0 72.0 408.0 70.8 409.0 70.8 410.0 71.5 411.0 70.2 412.0 67.5 413.0 67.0 414.0 68.8 415.0 69.4 416.0 68.0 417.0 67.1 418.0 67.5 419.0 67.1 420.0 64.9 421.0 63.9 422.0 64.3 423.0 64.1 424.0 64.4 425.0 63.7 427.0 56.9 428.0 55.2 429.0 54.5 431.0 51.2 432.0 51.2 433.0 51.6 435.0 51.8 436.0 50.3 437.0 48.3 438.0 47.1 439.0 47.3 440.0 49.8 442.0 57.5 444.0 62.7 445.0 66.1 448.0 81.1 450.0 97.3 455.0 147.4 456.0 149.0 457.0 144.6 458.0 137.3 459.0 128.0 460.0 112.8 462.0 71.6 463.0 64.0 464.0 74.4 465.0 91.1 466.0 100.8 467.0 95.6 469.0 65.9 470.0 56.9 473.0 42.8 474.0 40.8 475.0 40.8 476.0 40.5 477.0 41.0 478.0 43.5 481.0 52.6 483.0 60.4 484.0 65.6 485.0 72.8 488.0 100.0 489.0 107.6 490.0 112.5 491.0 113.1 492.0 107.3 495.0 77.8 496.0 73.6 498.0 67.1 499.0 65.5 500.0 65.0 501.0 65.3 503.0 68.8 504.0 71.1 506.0 77.6 507.0 77.9 508.0 69.0 510.0 46.2 511.0 40.5 512.0 39.8 514.0 37.6 516.0 38.4 518.0 37.0 519.0 37.0 520.0 36.0 521.0 34.5 522.0 33.9" stroke="#3030ea"/>
<path d="M71.0 40.3 72.0 38.6 73.0 37.4 76.0 35.3 77.0 35.0 78.0 35.5 79.0 35.7 81.0 35.5 82.0 34.7 83.0 35.1 84.0 37.0 85.0 38.0 86.0 37.3 87.0 36.0 88.0 35.5 89.0 35.4 90.0 35.7 91.0 37.1 92.0 37.3 93.0 36.1 94.0 36.9 95.0 38.6 96.0 38.1 97.0 36.6 98.0 36.0 99.0 36.3 100.0 37.0 102.0 37.6 103.0 36.9 104.0 35.6 105.0 35.6 106.0 35.8 107.0 36.9 108.0 38.9 109.0 38.1 110.0 36.0 111.0 36.4 112.0 38.7 113.0 39.6 116.0 36.0 117.0 35.6 118.0 35.6 120.0 36.7 121.0 36.9 122.0 37.9 123.0 37.8 124.0 37.0 125.0 37.2 126.0 36.9 127.0 35.3 128.0 34.9 129.0 36.1 131.0 40.8 133.0 39.3 134.0 40.9 135.0 41.7 136.0 41.7 138.0 44.1 140.0 44.8 141.0 45.4 143.0 48.4 144.0 48.4 145.0 47.8 146.0 48.9 147.0 50.4 148.0 50.5 150.0 52.3 151.0 52.3 152.0 53.3 153.0 53.7 154.0 53.3 155.0 53.9 156.0 54.1 157.0 53.5 159.0 56.1 160.0 55.9 162.0 57.1 164.0 56.8 165.0 55.9 166.0 55.8 168.0 58.1 169.0 58.2 171.0 56.2 172.0 56.1 173.0 56.9 174.0 57.2 175.0 55.9 176.0 55.7 178.0 60.4 179.0 60.7 181.0 57.3 182.0 56.6 184.0 55.6 186.0 57.2 188.0 54.9 189.0 55.4 190.0 56.4 191.0 57.1 193.0 55.3 194.0 55.5 195.0 55.4 197.0 56.4 198.0 55.6 199.0 56.0 200.0 57.0 202.0 55.6 204.0 57.4 205.0 57.7 206.0 57.1 207.0 56.0 208.0 55.7 209.0 56.4 210.0 57.6 211.0 57.7 212.0 57.0 213.0 57.4 214.0 57.6 215.0 57.0 216.0 57.7 217.0 58.8 219.0 58.4 221.0 59.7 222.0 59.2 223.0 58.2 225.0 58.3 226.0 57.6 227.0 58.1 230.0 60.5 231.0 60.7 232.0 60.3 234.0 58.0 235.0 58.2 236.0 60.2 237.0 61.4 238.0 60.4 239.0 60.1 240.0 60.6 242.0 59.6 243.0 60.1 245.0 60.6 246.0 61.4 248.0 61.0 250.0 60.4 252.0 62.9 254.0 62.3 255.0 62.5 257.0 63.5 259.0 62.6 260.0 63.6 261.0 64.3 263.0 64.6 265.0 63.0 266.0 64.2 267.0 66.0 269.0 67.9 270.0 69.4 272.0 71.3 273.0 78.7 276.0 119.2 277.0 114.3 278.0 99.8 280.0 88.0 281.0 84.1 284.0 80.2 285.0 80.3 286.0 79.4 287.0 78.1 289.0 79.0 291.0 78.8 292.0 79.0 293.0 80.6 294.0 81.4 295.0 81.3 296.0 80.7 297.0 79.6 299.0 80.8 300.0 80.3 302.0 80.4 304.0 82.5 305.0 81.8 306.0 80.2 307.0 79.4 308.0 80.5 309.0 82.4 310.0 82.9 314.0 82.4 317.0 82.5 318.0 82.3 321.0 82.2 323.0 81.5 324.0 81.9 325.0 81.7 326.0 80.9 327.0 81.2 329.0 83.2 330.0 82.8 331.0 81.7 332.0 82.1 333.0 82.2 335.0 81.8 336.0 82.0 337.0 83.1 338.0 83.3 339.0 82.9 340.0 83.5 341.0 83.7 342.0 82.9 343.0 82.4 345.0 82.4 346.0 83.5 347.0 85.3 348.0 85.5 349.0 85.4 350.0 85.8 351.0 85.8 352.0 85.6 354.0 86.9 355.0 86.1 356.0 85.7 358.0 87.5 359.0 87.7 360.0 86.8 361.0 85.3 362.0 85.9 363.0 86.9 364.0 86.6 366.0 87.5 367.0 87.7 368.0 89.4 369.0 89.8 370.0 89.4 371.0 89.3 372.0 88.5 374.0 89.3 375.0 88.3 376.0 88.9 377.0 90.2 379.0 87.3 380.0 88.2 381.0 89.9 382.0 90.0 383.0 88.9 384.0 88.8 385.0 90.7 386.0 93.3 388.0 94.0 390.0 98.6 391.0 98.7 392.0 96.8 394.0 95.1 396.0 88.2 398.0 83.4 399.0 80.8 400.0 77.3 402.0 72.4 406.0 58.0 407.0 55.3 409.0 50.7 411.0 47.1 413.0 41.9 415.0 39.6 417.0 35.1 418.0 34.2 419.0 34.5 420.0 34.3 421.0 35.1 422.0 36.9 423.0 36.4 424.0 34.7 425.0 34.5 426.0 35.4 427.0 35.9 429.0 34.6 430.0 34.7 433.0 35.9 434.0 35.7 435.0 35.7 436.0 36.2 438.0 34.6 440.0 36.4 442.0 34.7 443.0 34.9 444.0 39.8 445.0 48.2 448.0 79.5 451.0 106.8 453.0 123.2 454.0 134.4 455.0 141.7 456.0 139.5 457.0 133.3 459.0 118.5 461.0 107.5 463.0 91.0 465.0 79.4 467.0 62.6 468.0 56.5 469.0 53.0 470.0 52.6 471.0 52.9 475.0 56.4 477.0 57.5 478.0 58.7 479.0 60.5 483.0 68.6 485.0 74.5 486.0 78.1 488.0 91.8 490.0 103.3 491.0 105.7 492.0 99.0 495.0 61.6 496.0 56.8 497.0 53.1 498.0 50.5 500.0 48.7 501.0 48.4 503.0 61.7 504.0 66.7 505.0 70.2 506.0 74.8 507.0 77.6 508.0 71.4 510.0 49.0 511.0 40.5 512.0 39.4 513.0 39.1 514.0 39.9 515.0 40.0 516.0 38.7 518.0 37.5 519.0 36.0 521.0 34.6 522.0 33.4" stroke="#3030ea"/>
<path d="M71.0 38.6 73.0 34.9 75.0 33.7 76.0 33.3 77.0 34.7 78.0 35.2 79.0 34.3 81.0 34.9 82.0 34.7 83.0 35.0 84.0 34.8 85.0 34.1 86.0 33.5 87.0 33.8 88.0 33.5 89.0 32.8 91.0 36.0 92.0 35.4 93.0 34.4 95.0 34.4 97.0 35.0 99.0 35.0 100.0 35.6 101.0 35.6 103.0 34.6 104.0 35.3 105.0 36.3 106.0 35.8 107.0 34.0 108.0 33.1 109.0 34.2 110.0 36.4 111.0 37.2 112.0 36.6 113.0 36.7 115.0 39.6 116.0 38.9 117.0 37.5 120.0 36.5 122.0 38.2 123.0 37.2 124.0 36.8 126.0 39.2 128.0 39.7 129.0 39.2 130.0 38.4 132.0 38.8 134.0 40.8 136.0 39.9 139.0 40.2 140.0 40.5 141.0 41.3 143.0 42.5 144.0 42.8 145.0 41.2 146.0 40.6 149.0 42.4 150.0 42.5 151.0 43.3 152.0 43.5 153.0 42.1 154.0 41.9 155.0 43.2 156.0 43.7 158.0 43.5 159.0 42.8 160.0 42.3 162.0 43.1 163.0 42.9 164.0 42.3 165.0 42.2 167.0 43.7 169.0 42.5 171.0 43.6 172.0 43.7 173.0 43.1 174.0 42.9 176.0 45.1 177.0 45.2 178.0 44.4 179.0 44.1 180.0 44.5 181.0 43.7 182.0 44.3 183.0 45.4 184.0 45.8 185.0 46.9 186.0 46.5 187.0 44.8 188.0 44.2 189.0 44.7 191.0 48.0 192.0 47.6 193.0 46.6 194.0 46.6 195.0 47.7 196.0 48.1 197.0 46.5 198.0 45.9 200.0 48.4 201.0 48.8 203.0 48.7 204.0 49.5 205.0 49.8 206.0 48.7 207.0 48.1 208.0 48.2 209.0 48.6 211.0 50.7 213.0 52.3 214.0 52.5 215.0 52.2 216.0 52.4 217.0 52.3 219.0 51.3 220.0 51.7 221.0 52.9 222.0 52.8 223.0 52.3 224.0 53.3 225.0 53.5 226.0 52.3 227.0 51.5 228.0 51.9 229.0 53.3 230.0 54.2 231.0 53.6 232.0 54.3 233.0 55.4 234.0 55.1 235.0 53.5 236.0 52.8 237.0 53.8 238.0 54.1 239.0 54.1 240.0 54.5 241.0 54.3 243.0 55.3 244.0 55.0 246.0 56.2 247.0 56.0 249.0 57.1 250.0 56.5 252.0 56.2 253.0 55.6 254.0 55.9 255.0 56.9 259.0 56.9 260.0 57.3 261.0 58.4 262.0 58.7 263.0 58.6 265.0 60.0 267.0 59.0 269.0 61.7 270.0 62.4 271.0 63.5 272.0 66.0 273.0 73.7 276.0 113.4 277.0 107.3 278.0 92.8 279.0 87.0 280.0 83.0 282.0 77.3 283.0 75.6 285.0 74.5 287.0 75.1 289.0 72.7 291.0 73.5 292.0 72.8 293.0 72.9 295.0 72.1 296.0 72.4 297.0 72.0 300.0 69.7 301.0 70.0 303.0 71.2 304.0 72.3 305.0 71.8 306.0 70.4 307.0 70.7 308.0 72.4 309.0 72.7 310.0 70.9 311.0 70.2 312.0 70.6 314.0 69.8 315.0 69.9 316.0 69.5 317.0 69.3 318.0 70.7 319.0 71.1 320.0 70.9 321.0 71.9 322.0 72.0 323.0 71.8 324.0 72.1 326.0 71.0 327.0 70.8 329.0 69.8 330.0 69.0 332.0 68.3 333.0 68.8 334.0 71.2 335.0 72.3 336.0 71.6 339.0 70.8 340.0 70.9 341.0 71.9 342.0 72.6 343.0 72.2 344.0 70.8 345.0 70.1 347.0 72.7 350.0 74.6 351.0 74.9 353.0 74.8 355.0 75.0 357.0 76.3 358.0 76.2 359.0 76.9 360.0 77.8 361.0 78.1 362.0 77.7 363.0 77.9 364.0 79.4 365.0 79.5 366.0 77.9 367.0 77.6 368.0 78.2 370.0 80.5 372.0 79.6 373.0 80.2 375.0 81.8 376.0 81.4 377.0 79.5 378.0 78.9 380.0 79.5 382.0 79.3 383.0 81.3 384.0 82.7 385.0 83.0 387.0 88.6 389.0 90.5 390.0 92.0 391.0 92.3 393.0 91.0 394.0 88.9 395.0 86.1 397.0 83.1 399.0 75.4 401.0 69.1 402.0 64.2 403.0 60.8 404.0 58.5 406.0 52.2 408.0 47.9 410.0 41.3 412.0 38.8 413.0 37.2 414.0 36.1 417.0 33.9 419.0 35.3 420.0 35.0 422.0 33.4 424.0 35.9 425.0 36.4 426.0 36.4 428.0 33.9 429.0 34.8 430.0 36.6 431.0 36.9 432.0 35.0 433.0 34.5 435.0 38.4 436.0 38.7 438.0 35.8 439.0 36.6 440.0 37.0 441.0 36.3 443.0 38.8 444.0 42.0 445.0 49.3 447.0 70.0 450.0 95.7 454.0 128.1 455.0 131.3 456.0 128.9 458.0 114.2 459.0 109.3 461.0 96.3 464.0 79.2 466.0 63.4 467.0 57.2 468.0 52.0 469.0 49.9 471.0 52.5 472.0 54.5 473.0 55.8 474.0 55.9 475.0 56.6 477.0 58.8 478.0 59.6 479.0 61.3 480.0 63.6 486.0 72.1 487.0 75.7 490.0 92.1 491.0 96.1 492.0 96.8 493.0 90.3 496.0 62.6 498.0 52.2 499.0 48.8 500.0 46.3 501.0 45.9 503.0 50.8 504.0 52.5 507.0 61.1 509.0 69.1 510.0 62.4 512.0 43.3 513.0 39.5 514.0 38.0 515.0 37.8 516.0 38.1 517.0 38.7 518.0 38.1 520.0 35.9 521.0 34.2 522.0 33.4" stroke="#3030ea"/>
<path d="M71.0 48.7 72.0 46.4 73.0 44.8 74.0 43.7 76.0 39.2 77.0 37.6 80.0 33.9 81.0 33.4 82.0 34.6 83.0 34.9 84.0 34.4 85.0 34.9 86.0 34.7 88.0 33.1 89.0 33.5 91.0 38.1 92.0 38.2 93.0 36.6 94.0 36.0 95.0 35.7 96.0 35.7 97.0 36.4 98.0 36.2 99.0 35.3 100.0 35.0 101.0 35.8 102.0 37.2 105.0 37.6 106.0 37.0 108.0 36.8 109.0 36.8 110.0 37.2 111.0 36.9 112.0 37.0 113.0 37.4 115.0 37.2 117.0 36.0 119.0 38.1 121.0 37.4 123.0 39.4 126.0 38.8 128.0 36.6 129.0 37.0 130.0 38.1 131.0 38.3 133.0 38.4 134.0 37.7 135.0 37.9 136.0 39.1 137.0 38.9 138.0 38.3 139.0 38.8 140.0 38.6 141.0 37.4 142.0 36.8 143.0 36.9 145.0 38.3 146.0 37.8 147.0 37.8 148.0 38.5 149.0 38.6 151.0 40.7 153.0 39.2 155.0 38.7 156.0 39.6 157.0 39.9 158.0 39.9 159.0 40.4 160.0 39.3 161.0 39.4 162.0 41.0 163.0 40.5 164.0 39.3 165.0 39.5 166.0 40.9 167.0 41.5 169.0 39.8 170.0 39.7 171.0 40.8 172.0 40.6 173.0 40.7 174.0 42.1 175.0 42.1 176.0 43.6 177.0 47.0 178.0 48.7 180.0 43.1 181.0 41.7 182.0 42.0 183.0 42.7 184.0 42.2 186.0 42.8 187.0 41.9 188.0 42.1 189.0 43.2 190.0 43.6 191.0 42.7 192.0 42.1 194.0 42.2 195.0 43.2 196.0 43.9 198.0 43.3 199.0 42.5 200.0 42.4 202.0 45.3 203.0 44.9 204.0 44.1 205.0 44.6 206.0 46.2 207.0 46.8 208.0 45.1 209.0 44.3 210.0 44.8 212.0 43.8 213.0 43.6 215.0 44.9 216.0 44.5 218.0 45.6 219.0 45.5 221.0 46.9 222.0 46.5 224.0 44.7 225.0 44.6 226.0 45.2 228.0 47.5 229.0 47.8 230.0 47.8 231.0 48.1 232.0 47.6 233.0 46.7 234.0 47.1 235.0 48.6 236.0 49.2 237.0 48.0 238.0 47.3 240.0 50.0 241.0 49.6 242.0 48.7 243.0 48.8 245.0 49.7 246.0 49.6 248.0 48.9 249.0 49.3 250.0 50.4 251.0 50.2 252.0 49.9 254.0 50.0 255.0 51.1 257.0 51.1 258.0 52.9 260.0 55.4 261.0 56.1 262.0 56.4 264.0 59.3 265.0 60.3 266.0 60.6 267.0 59.9 268.0 60.1 269.0 61.6 271.0 66.2 272.0 68.9 273.0 75.3 276.0 108.9 277.0 102.7 278.0 88.6 279.0 83.2 280.0 80.0 281.0 78.2 282.0 74.8 283.0 72.3 284.0 72.4 285.0 73.0 288.0 71.7 289.0 70.8 291.0 71.3 293.0 70.6 295.0 71.3 296.0 70.7 297.0 69.6 298.0 68.9 299.0 69.1 300.0 69.6 302.0 68.1 303.0 69.3 304.0 71.1 305.0 71.2 307.0 68.7 308.0 68.0 310.0 67.2 312.0 67.7 313.0 67.3 314.0 67.2 315.0 68.0 316.0 68.3 317.0 68.1 319.0 68.2 322.0 66.8 323.0 66.7 325.0 67.4 327.0 66.2 328.0 66.5 330.0 65.9 334.0 66.5 336.0 67.2 337.0 66.4 338.0 64.2 339.0 63.1 340.0 63.5 341.0 63.5 342.0 64.6 343.0 65.3 345.0 62.3 347.0 62.8 348.0 62.5 350.0 63.7 351.0 63.9 352.0 63.2 354.0 63.1 356.0 60.6 357.0 60.8 360.0 62.4 362.0 61.3 363.0 61.3 364.0 60.5 365.0 59.2 366.0 60.2 367.0 61.7 368.0 61.6 370.0 59.9 372.0 60.3 373.0 59.8 374.0 60.5 375.0 60.4 376.0 58.8 377.0 58.7 378.0 59.5 380.0 59.5 381.0 60.9 382.0 61.4 383.0 61.3 384.0 62.6 385.0 65.0 387.0 75.0 389.0 80.9 390.0 83.2 391.0 84.0 393.0 82.1 394.0 80.3 396.0 74.3 397.0 71.9 398.0 70.5 401.0 62.2 402.0 60.8 403.0 59.9 404.0 57.1 405.0 53.3 407.0 49.4 408.0 46.4 409.0 44.3 410.0 43.1 412.0 39.2 413.0 37.9 415.0 36.5 416.0 35.1 418.0 34.6 419.0 33.7 420.0 33.1 422.0 35.5 423.0 35.0 424.0 33.8 425.0 33.8 426.0 34.7 427.0 35.0 428.0 34.5 430.0 34.7 431.0 34.5 433.0 34.5 435.0 35.9 437.0 35.8 439.0 36.3 440.0 36.2 441.0 35.7 442.0 35.6 443.0 35.8 444.0 38.2 445.0 43.7 449.0 72.7 453.0 98.7 455.0 113.2 456.0 115.4 457.0 110.9 458.0 104.4 459.0 99.4 461.0 91.8 464.0 77.1 467.0 58.5 468.0 53.4 469.0 49.9 470.0 48.3 471.0 49.3 473.0 56.0 474.0 58.2 479.0 63.6 481.0 65.2 482.0 66.8 484.0 67.4 486.0 72.2 487.0 73.7 488.0 76.4 489.0 80.4 492.0 94.6 493.0 96.5 494.0 92.6 495.0 85.3 497.0 67.1 498.0 61.3 499.0 57.1 500.0 54.2 501.0 54.8 502.0 59.0 504.0 64.4 505.0 67.1 506.0 68.3 507.0 63.4 510.0 39.6 511.0 38.1 512.0 38.7 513.0 38.8 515.0 36.0 517.0 34.8 518.0 34.6 519.0 35.9 520.0 36.2 522.0 33.9" stroke="#3030ea"/>
<path d="M71.0 35.6 72.0 36.1 73.0 36.1 75.0 32.6 76.0 32.6 77.0 33.2 78.0 33.4 79.0 34.0 81.0 35.6 83.0 34.4 85.0 34.5 86.0 34.0 87.0 33.9 88.0 34.5 89.0 33.9 90.0 33.0 91.0 32.8 92.0 33.0 94.0 34.4 95.0 34.8 97.0 34.1 98.0 34.0 99.0 34.9 100.0 35.6 103.0 34.1 104.0 34.4 105.0 35.2 107.0 34.3 109.0 34.1 110.0 33.8 111.0 33.8 112.0 34.3 113.0 34.4 114.0 33.5 115.0 33.5 116.0 34.7 117.0 35.6 118.0 35.3 120.0 35.3 121.0 34.6 123.0 34.9 124.0 34.3 125.0 34.2 126.0 33.7 127.0 33.9 128.0 35.5 129.0 36.0 130.0 36.2 131.0 36.2 132.0 35.3 133.0 35.3 134.0 36.1 135.0 36.3 137.0 35.3 138.0 35.5 139.0 36.3 140.0 36.7 141.0 36.3 143.0 36.9 145.0 37.1 147.0 36.0 148.0 36.0 149.0 36.5 150.0 37.8 151.0 37.3 152.0 35.5 153.0 35.5 154.0 36.0 155.0 35.9 156.0 36.1 157.0 36.8 158.0 36.8 159.0 35.4 160.0 34.7 161.0 35.6 163.0 36.3 164.0 37.2 166.0 36.7 167.0 36.9 169.0 36.8 170.0 37.1 171.0 37.0 172.0 36.2 173.0 36.4 174.0 37.6 176.0 37.7 178.0 39.3 179.0 39.8 180.0 39.7 182.0 37.3 183.0 37.3 184.0 37.5 185.0 36.2 186.0 35.5 187.0 35.9 188.0 35.7 189.0 36.7 190.0 38.6 193.0 39.9 195.0 37.1 197.0 39.0 199.0 39.5 200.0 38.8 201.0 37.6 203.0 39.3 205.0 38.7 207.0 38.5 208.0 38.7 209.0 39.7 210.0 40.3 212.0 40.4 213.0 40.2 215.0 39.0 216.0 39.2 217.0 40.3 218.0 40.1 219.0 38.4 220.0 38.3 221.0 39.0 222.0 38.6 223.0 38.4 226.0 40.7 227.0 41.0 228.0 40.9 230.0 41.6 232.0 41.3 233.0 40.6 236.0 40.8 237.0 40.4 238.0 39.7 240.0 41.5 241.0 40.9 242.0 40.8 244.0 41.0 246.0 41.7 247.0 41.8 248.0 41.6 250.0 41.9 251.0 41.2 253.0 42.4 254.0 41.3 255.0 40.6 256.0 41.4 258.0 43.6 259.0 44.3 261.0 43.3 263.0 44.4 264.0 44.7 265.0 45.6 266.0 45.7 267.0 45.2 268.0 46.3 269.0 48.0 270.0 48.6 271.0 48.9 272.0 50.5 273.0 56.2 276.0 88.8 277.0 83.0 278.0 70.7 281.0 58.0 282.0 56.4 284.0 56.1 285.0 55.0 286.0 54.2 287.0 55.0 288.0 55.2 289.0 54.3 290.0 53.9 293.0 53.2 295.0 53.8 297.0 50.6 298.0 51.1 299.0 52.8 300.0 53.8 302.0 52.1 303.0 52.7 304.0 53.0 305.0 52.4 306.0 52.4 307.0 52.7 308.0 52.3 309.0 52.3 311.0 52.9 312.0 52.9 314.0 52.0 315.0 52.3 316.0 52.9 317.0 52.8 318.0 52.3 320.0 51.9 323.0 51.7 324.0 51.9 325.0 51.1 326.0 50.9 328.0 53.4 329.0 53.2 330.0 52.2 332.0 51.7 333.0 51.9 334.0 52.8 336.0 52.4 338.0 52.6 341.0 51.5 342.0 51.6 343.0 52.5 345.0 51.7 347.0 53.7 348.0 53.8 349.0 52.6 350.0 52.1 351.0 53.0 353.0 53.0 354.0 53.5 355.0 52.6 356.0 51.3 358.0 53.3 359.0 53.2 360.0 54.7 361.0 55.4 362.0 54.7 363.0 55.5 364.0 55.8 365.0 55.6 366.0 56.1 368.0 56.1 369.0 55.8 370.0 55.1 371.0 55.2 372.0 55.9 375.0 55.6 376.0 54.8 377.0 55.1 378.0 55.7 380.0 53.8 381.0 54.1 384.0 58.6 385.0 61.9 386.0 66.9 387.0 70.7 388.0 72.6 389.0 73.2 390.0 73.3 391.0 73.7 392.0 74.5 393.0 73.2 394.0 70.5 396.0 66.6 397.0 64.9 398.0 64.1 399.0 62.6 400.0 60.4 402.0 53.0 403.0 51.2 404.0 50.3 407.0 45.6 408.0 42.6 409.0 41.1 410.0 41.0 412.0 38.5 413.0 38.4 414.0 36.9 416.0 35.0 417.0 33.6 418.0 33.5 419.0 34.3 423.0 35.2 425.0 34.4 427.0 36.1 428.0 36.0 430.0 34.6 431.0 35.2 432.0 36.3 434.0 35.1 435.0 35.7 437.0 35.2 439.0 35.4 441.0 36.9 443.0 36.4 444.0 39.5 446.0 50.4 448.0 63.3 450.0 73.0 454.0 98.4 455.0 103.7 456.0 104.8 457.0 101.5 459.0 90.9 461.0 84.2 463.0 73.5 465.0 65.4 467.0 55.4 468.0 51.8 470.0 47.5 471.0 44.8 472.0 44.5 473.0 46.1 477.0 46.2 479.0 48.3 480.0 48.4 481.0 47.9 482.0 49.6 483.0 52.8 484.0 54.0 485.0 53.4 486.0 54.6 488.0 60.7 490.0 69.9 492.0 77.1 493.0 76.3 496.0 53.1 497.0 50.0 499.0 45.1 500.0 44.1 502.0 45.6 503.0 46.0 504.0 47.3 506.0 51.3 508.0 59.5 509.0 58.0 511.0 41.1 512.0 36.6 513.0 36.5 514.0 35.9 515.0 34.7 516.0 34.4 519.0 36.0 521.0 34.3 522.0 34.1" stroke="#3030ea"/>
<path d="M71.0 51.3 73.0 45.3 75.0 40.2 76.0 38.2 78.0 38.0 80.0 35.5 81.0 35.2 83.0 34.1 84.0 34.0 85.0 34.1 86.0 34.6 87.0 34.8 88.0 34.3 89.0 34.6 90.0 35.5 92.0 35.1 95.0 35.9 96.0 35.6 99.0 36.3 100.0 35.7 101.0 35.5 102.0 36.0 103.0 35.8 104.0 35.9 105.0 36.7 107.0 36.6 108.0 37.6 109.0 37.1 110.0 35.6 111.0 35.9 112.0 37.1 113.0 37.7 114.0 37.1 115.0 35.9 116.0 35.5 118.0 37.3 119.0 37.0 120.0 37.0 121.0 38.6 122.0 39.5 123.0 39.2 126.0 37.7 127.0 37.5 129.0 37.8 131.0 38.6 132.0 38.5 133.0 38.8 134.0 39.5 135.0 38.7 136.0 37.4 137.0 37.9 138.0 39.2 139.0 39.7 141.0 37.3 143.0 38.5 144.0 38.8 145.0 38.5 146.0 39.0 147.0 40.2 149.0 40.1 150.0 41.1 151.0 41.6 154.0 39.0 156.0 40.3 157.0 40.2 158.0 40.5 160.0 40.5 161.0 41.0 162.0 41.0 164.0 39.4 165.0 39.4 167.0 41.8 168.0 41.5 170.0 39.9 171.0 39.7 173.0 40.5 174.0 41.5 175.0 41.9 177.0 39.6 178.0 40.7 179.0 42.4 180.0 42.9 181.0 42.8 182.0 43.0 183.0 42.8 184.0 41.7 185.0 41.6 186.0 41.9 187.0 41.9 188.0 42.5 189.0 42.5 190.0 41.4 191.0 41.2 193.0 43.0 195.0 43.3 196.0 44.6 197.0 44.5 198.0 43.2 200.0 43.4 201.0 42.4 202.0 42.1 203.0 43.3 204.0 43.8 205.0 43.6 206.0 43.8 207.0 43.8 208.0 43.1 209.0 43.5 210.0 44.7 212.0 44.9 213.0 44.6 214.0 43.6 215.0 43.1 217.0 42.5 219.0 45.0 220.0 44.4 222.0 44.8 223.0 43.0 224.0 42.5 225.0 43.7 226.0 45.6 227.0 45.9 228.0 45.2 229.0 45.5 230.0 44.8 231.0 43.5 232.0 43.1 234.0 45.2 236.0 45.2 238.0 44.2 239.0 45.2 240.0 45.7 241.0 46.0 242.0 46.0 243.0 45.1 245.0 45.4 246.0 44.8 247.0 45.1 248.0 45.8 250.0 44.7 251.0 45.0 252.0 45.8 254.0 46.9 256.0 46.5 257.0 47.4 258.0 47.8 259.0 47.5 263.0 47.8 264.0 48.3 265.0 49.1 266.0 49.4 267.0 49.2 268.0 49.5 270.0 50.6 271.0 52.2 272.0 55.1 273.0 60.5 275.0 80.7 276.0 93.7 277.0 89.2 278.0 76.7 279.0 70.0 280.0 65.1 281.0 62.9 282.0 59.7 283.0 58.0 285.0 59.4 287.0 60.0 288.0 59.8 289.0 59.0 290.0 58.9 291.0 59.7 292.0 59.6 294.0 58.3 295.0 57.4 296.0 57.5 297.0 58.3 298.0 58.7 299.0 58.7 300.0 58.2 302.0 58.4 303.0 57.4 304.0 57.3 306.0 59.6 307.0 58.6 308.0 57.0 309.0 57.7 310.0 59.3 311.0 60.2 312.0 60.2 313.0 58.9 314.0 57.0 315.0 57.5 316.0 58.9 317.0 58.7 319.0 59.6 321.0 57.7 322.0 57.5 323.0 57.6 324.0 58.1 325.0 57.6 326.0 57.8 327.0 58.2 328.0 57.9 329.0 59.2 330.0 59.7 332.0 55.9 333.0 56.1 334.0 57.3 335.0 58.0 337.0 58.3 338.0 58.7 339.0 58.9 341.0 60.5 342.0 60.1 343.0 60.3 345.0 60.0 346.0 60.7 347.0 60.6 348.0 60.2 349.0 60.5 350.0 61.8 351.0 62.5 352.0 62.2 354.0 62.9 356.0 62.0 358.0 63.3 360.0 61.9 361.0 62.2 363.0 64.9 364.0 65.5 365.0 65.4 366.0 64.5 369.0 62.9 370.0 63.0 371.0 63.4 372.0 64.8 373.0 65.4 374.0 64.3 375.0 63.9 377.0 65.1 379.0 64.4 380.0 64.8 382.0 63.5 384.0 67.3 385.0 67.7 386.0 69.5 389.0 77.6 391.0 79.7 392.0 79.5 395.0 75.8 397.0 71.8 398.0 69.4 400.0 62.5 402.0 57.4 404.0 54.4 406.0 49.6 407.0 48.4 409.0 44.1 410.0 42.8 411.0 41.1 412.0 40.6 413.0 39.6 414.0 37.0 415.0 35.1 416.0 35.1 417.0 35.7 418.0 35.4 419.0 35.8 420.0 35.7 421.0 34.7 423.0 34.5 424.0 33.8 426.0 35.7 427.0 35.4 428.0 35.8 429.0 35.7 431.0 34.2 432.0 34.3 433.0 36.0 434.0 36.3 435.0 36.0 437.0 38.0 438.0 38.1 439.0 37.7 440.0 37.9 441.0 37.3 442.0 36.3 443.0 37.1 444.0 41.5 445.0 49.1 447.0 66.9 449.0 80.5 452.0 106.0 454.0 119.8 455.0 123.3 456.0 121.3 458.0 108.0 462.0 87.6 465.0 68.3 467.0 53.9 468.0 49.4 469.0 47.9 471.0 48.5 472.0 49.5 473.0 49.9 474.0 49.6 475.0 50.4 477.0 54.8 478.0 55.7 479.0 55.5 480.0 56.2 481.0 57.4 482.0 59.9 483.0 63.3 485.0 66.0 489.0 82.9 490.0 85.6 491.0 85.9 492.0 80.3 494.0 60.6 495.0 53.4 497.0 48.3 499.0 41.6 500.0 41.6 502.0 49.5 504.0 56.2 506.0 66.3 507.0 67.6 508.0 60.1 510.0 41.7 511.0 39.9 512.0 39.2 513.0 37.8 514.0 37.1 515.0 36.8 516.0 37.1 517.0 36.7 518.0 35.4 519.0 34.7 520.0 34.5 522.0 33.3" stroke="#3030ea"/>
<path d="M71.0 41.4 74.0 36.1 75.0 35.3 76.0 35.9 77.0 35.6 78.0 34.8 79.0 35.1 80.0 34.9 81.0 33.8 82.0 33.6 84.0 34.2 86.0 34.0 87.0 33.8 88.0 32.9 89.0 32.5 90.0 34.0 91.0 35.2 92.0 34.5 93.0 33.0 94.0 32.4 96.0 34.1 97.0 34.1 98.0 33.8 100.0 34.2 101.0 33.8 102.0 33.6 104.0 34.3 105.0 34.0 106.0 32.9 107.0 32.4 108.0 33.0 110.0 35.0 111.0 34.7 113.0 32.6 114.0 33.5 115.0 34.9 116.0 34.7 118.0 33.5 119.0 33.2 120.0 34.0 121.0 34.3 122.0 33.6 123.0 33.5 126.0 35.1 127.0 34.6 128.0 33.2 129.0 32.5 130.0 32.9 131.0 34.4 132.0 35.2 133.0 34.2 134.0 33.8 136.0 35.1 137.0 35.2 138.0 33.9 139.0 33.1 141.0 34.4 143.0 36.0 144.0 36.1 145.0 36.4 146.0 35.9 147.0 34.8 148.0 35.5 149.0 36.8 150.0 37.1 151.0 36.7 153.0 35.3 155.0 35.9 156.0 35.0 157.0 34.4 159.0 35.2 160.0 35.0 161.0 33.7 162.0 32.9 163.0 34.4 164.0 34.6 165.0 33.8 166.0 34.5 167.0 34.8 168.0 34.5 169.0 34.7 170.0 35.3 173.0 34.5 174.0 33.7 175.0 34.1 176.0 34.9 177.0 35.0 178.0 35.0 180.0 34.2 181.0 34.6 182.0 34.5 183.0 33.6 184.0 33.1 185.0 33.7 186.0 34.8 188.0 34.4 189.0 36.0 190.0 36.0 191.0 34.3 192.0 34.6 193.0 35.5 195.0 34.8 196.0 35.3 197.0 35.4 198.0 35.1 199.0 35.1 200.0 34.3 201.0 33.8 203.0 35.5 204.0 35.4 205.0 35.7 206.0 36.5 207.0 36.1 208.0 36.3 209.0 37.0 210.0 36.1 211.0 35.9 212.0 36.6 213.0 35.8 214.0 35.2 216.0 36.3 217.0 36.5 218.0 36.1 219.0 36.0 220.0 36.1 221.0 36.5 222.0 36.6 223.0 35.9 224.0 35.9 225.0 36.4 227.0 36.3 228.0 36.8 229.0 37.5 230.0 36.8 231.0 35.5 232.0 35.5 233.0 36.0 234.0 36.9 235.0 37.1 236.0 36.2 237.0 36.0 243.0 36.8 245.0 37.8 247.0 35.7 249.0 35.9 250.0 35.8 251.0 35.4 252.0 35.8 254.0 37.6 255.0 38.0 257.0 36.8 259.0 36.7 260.0 37.2 261.0 38.3 262.0 38.8 263.0 38.1 264.0 38.1 265.0 39.7 266.0 40.5 268.0 40.7 269.0 40.3 270.0 40.9 271.0 42.5 272.0 44.9 273.0 49.6 274.0 57.1 276.0 79.4 277.0 74.0 278.0 61.0 280.0 51.1 281.0 48.0 283.0 45.1 284.0 44.2 287.0 44.5 288.0 45.3 289.0 45.7 293.0 44.8 295.0 44.0 296.0 44.2 297.0 45.7 298.0 46.6 300.0 44.5 302.0 45.1 303.0 44.8 304.0 44.1 305.0 44.0 306.0 44.6 307.0 44.5 308.0 44.0 309.0 44.5 310.0 45.9 311.0 46.4 312.0 45.0 313.0 44.1 314.0 44.0 315.0 43.1 316.0 42.6 317.0 43.4 318.0 43.6 320.0 43.2 322.0 42.4 323.0 42.7 324.0 44.0 325.0 44.5 326.0 43.6 327.0 43.7 328.0 44.3 329.0 44.1 330.0 44.6 331.0 44.7 332.0 43.4 333.0 42.8 334.0 43.5 335.0 44.8 336.0 45.0 337.0 44.6 338.0 44.6 339.0 44.0 340.0 44.0 341.0 44.7 342.0 44.9 343.0 46.2 344.0 46.8 347.0 44.8 348.0 45.2 349.0 46.0 350.0 45.7 351.0 46.5 352.0 47.9 353.0 48.4 354.0 47.7 355.0 46.5 356.0 45.8 357.0 45.7 359.0 47.7 361.0 48.7 363.0 48.9 365.0 49.8 366.0 48.8 367.0 48.5 368.0 50.4 369.0 51.4 370.0 51.8 371.0 51.8 372.0 49.9 373.0 48.6 375.0 50.4 376.0 50.5 378.0 49.8 382.0 50.1 384.0 52.1 385.0 52.7 386.0 54.1 387.0 56.0 388.0 57.0 389.0 57.1 391.0 60.2 392.0 60.3 393.0 59.3 395.0 58.6 397.0 54.5 398.0 53.5 400.0 48.1 401.0 47.1 402.0 46.6 404.0 42.0 405.0 40.8 407.0 39.7 408.0 39.0 409.0 37.7 410.0 35.1 411.0 33.4 413.0 34.7 416.0 34.2 418.0 36.4 419.0 36.5 420.0 36.9 421.0 36.5 422.0 34.9 423.0 34.5 424.0 35.6 425.0 35.6 426.0 35.2 428.0 36.3 429.0 36.5 430.0 36.3 431.0 36.4 432.0 35.4 433.0 33.9 434.0 35.2 435.0 37.2 436.0 36.3 437.0 34.7 438.0 35.1 439.0 35.8 440.0 35.9 442.0 38.7 443.0 37.8 444.0 38.5 445.0 42.9 447.0 56.4 450.0 73.4 451.0 78.6 453.0 86.1 454.0 92.3 455.0 96.9 456.0 95.6 458.0 85.4 459.0 82.1 460.0 79.8 463.0 68.8 466.0 54.1 468.0 47.8 469.0 45.3 470.0 44.6 471.0 44.7 472.0 44.4 473.0 42.7 474.0 41.8 477.0 43.6 479.0 45.9 480.0 45.6 481.0 44.6 482.0 45.8 483.0 48.6 484.0 50.3 485.0 50.4 486.0 51.5 490.0 63.3 491.0 67.4 492.0 68.7 493.0 63.5 495.0 49.2 496.0 46.4 497.0 45.0 498.0 45.1 499.0 45.5 500.0 44.9 501.0 43.6 502.0 44.2 504.0 48.4 506.0 54.8 508.0 58.1 509.0 55.7 511.0 41.8 512.0 38.5 513.0 38.4 514.0 37.8 516.0 34.3 517.0 34.5 518.0 35.4 519.0 35.5 520.0 33.8 521.0 32.7 522.0 33.0" stroke="#3030ea"/>
<path d="M71.0 204.4 72.0 201.7 74.0 191.0 77.0 168.0 79.0 149.3 80.0 138.5 81.0 124.4 85.0 60.1 86.0 49.3 87.0 43.9 88.0 39.8 89.0 37.2 91.0 35.6 92.0 34.3 93.0 34.5 94.0 34.9 95.0 34.4 96.0 33.4 97.0 33.2 98.0 34.4 99.0 35.1 100.0 34.4 101.0 33.1 102.0 32.6 104.0 35.7 106.0 35.2 108.0 34.1 109.0 34.3 110.0 34.9 112.0 34.2 114.0 34.6 116.0 37.2 118.0 36.3 119.0 36.6 121.0 35.8 123.0 36.7 124.0 37.6 125.0 39.0 126.0 39.3 127.0 38.6 128.0 38.7 129.0 39.3 130.0 39.1 131.0 38.4 132.0 38.1 134.0 38.1 135.0 38.2 136.0 38.7 138.0 38.6 140.0 39.9 142.0 39.2 143.0 39.5 144.0 40.1 145.0 40.1 146.0 39.8 149.0 42.0 150.0 42.2 151.0 41.9 153.0 42.3 154.0 43.4 155.0 44.0 156.0 42.7 157.0 42.3 159.0 44.1 160.0 44.2 161.0 44.7 162.0 45.8 164.0 45.6 166.0 47.2 167.0 47.3 169.0 46.1 170.0 46.1 171.0 47.5 172.0 49.3 173.0 49.0 174.0 48.3 175.0 48.8 176.0 48.9 177.0 49.6 179.0 50.3 180.0 51.2 181.0 51.5 183.0 50.0 184.0 50.5 185.0 50.4 186.0 50.0 187.0 50.8 188.0 51.3 189.0 51.1 190.0 51.7 191.0 52.5 192.0 52.7 194.0 53.6 196.0 52.2 197.0 51.9 199.0 53.3 200.0 53.8 201.0 53.1 202.0 53.0 203.0 54.0 205.0 53.1 206.0 53.5 207.0 53.6 209.0 56.2 210.0 56.5 211.0 57.2 213.0 55.5 214.0 56.3 215.0 56.8 216.0 56.3 217.0 56.8 218.0 57.4 219.0 57.8 220.0 59.0 221.0 59.4 222.0 58.0 223.0 57.5 224.0 58.5 225.0 58.7 226.0 58.2 227.0 58.3 229.0 61.1 231.0 58.7 232.0 59.0 233.0 59.6 234.0 60.7 235.0 61.2 237.0 60.1 239.0 59.9 241.0 63.8 242.0 63.6 243.0 62.0 244.0 61.1 245.0 61.1 246.0 61.7 247.0 62.9 248.0 63.3 249.0 62.9 251.0 63.6 252.0 63.3 253.0 63.3 254.0 63.8 256.0 65.9 257.0 65.3 258.0 65.0 260.0 65.5 261.0 66.9 263.0 67.3 264.0 68.9 265.0 69.0 266.0 68.7 267.0 69.9 268.0 71.6 270.0 71.9 271.0 74.6 272.0 78.1 273.0 87.1 276.0 138.7 277.0 130.9 278.0 111.5 281.0 93.0 282.0 89.7 284.0 89.7 286.0 90.0 287.0 89.6 288.0 90.5 289.0 90.7 290.0 89.3 292.0 89.8 293.0 88.8 294.0 88.5 295.0 88.4 296.0 89.0 297.0 90.3 299.0 89.5 300.0 89.9 301.0 89.3 302.0 89.3 303.0 89.7 305.0 90.1 306.0 89.7 307.0 89.6 310.0 88.9 312.0 88.1 313.0 88.1 314.0 88.6 315.0 88.6 316.0 87.7 317.0 87.4 318.0 87.6 320.0 89.1 321.0 89.5 322.0 88.9 323.0 87.9 326.0 85.7 327.0 87.0 328.0 89.0 330.0 87.4 331.0 87.6 333.0 87.4 334.0 87.7 336.0 87.0 337.0 87.2 339.0 88.7 340.0 87.8 341.0 86.1 342.0 85.7 343.0 85.9 344.0 86.4 345.0 87.5 346.0 87.8 348.0 85.0 349.0 85.0 350.0 85.8 351.0 86.9 352.0 87.1 353.0 86.6 354.0 86.6 356.0 85.0 358.0 87.0 360.0 85.2 362.0 86.9 363.0 86.4 365.0 86.4 367.0 84.5 368.0 85.3 369.0 85.7 370.0 85.2 371.0 85.6 372.0 85.8 373.0 85.1 374.0 85.6 375.0 85.6 376.0 84.4 377.0 84.3 381.0 84.8 382.0 85.7 384.0 89.6 385.0 92.9 386.0 98.0 388.0 105.4 389.0 107.9 391.0 111.0 392.0 110.2 394.0 104.1 396.0 98.8 398.0 89.6 400.0 84.9 403.0 72.8 404.0 71.0 405.0 68.5 406.0 64.2 407.0 61.0 408.0 58.7 410.0 50.8 411.0 47.6 412.0 46.9 413.0 45.0 414.0 41.4 415.0 39.2 416.0 37.7 418.0 36.8 420.0 33.6 422.0 35.3 423.0 34.9 424.0 35.6 425.0 35.6 426.0 34.4 428.0 35.1 429.0 34.4 430.0 34.8 431.0 35.7 432.0 35.4 433.0 34.2 434.0 33.7 436.0 36.3 437.0 36.2 439.0 37.4 440.0 36.4 441.0 36.1 443.0 37.2 444.0 42.5 445.0 51.6 446.0 63.4 448.0 92.0 451.0 126.8 454.0 166.6 455.0 177.3 456.0 177.8 457.0 170.7 459.0 147.9 463.0 117.2 464.0 108.0 467.0 75.3 469.0 60.9 470.0 55.2 471.0 51.8 472.0 49.9 473.0 49.2 474.0 49.4 476.0 48.7 477.0 49.8 478.0 52.3 483.0 69.7 484.0 75.1 485.0 82.2 490.0 124.9 491.0 131.3 492.0 129.7 493.0 121.1 496.0 86.1 498.0 71.9 499.0 67.7 500.0 66.4 501.0 68.8 502.0 79.1 504.0 86.5 506.0 95.4 507.0 92.7 510.0 52.5 511.0 44.9 513.0 39.8 514.0 39.2 515.0 39.8 516.0 39.4 518.0 37.5 519.0 37.1 520.0 37.3 521.0 36.6 522.0 35.0" stroke="#3030ea"/>
<path d="M71.0 80.5 74.0 44.7 75.0 37.2 76.0 35.9 77.0 35.1 79.0 34.4 80.0 33.6 81.0 33.5 82.0 34.3 84.0 33.8 85.0 34.4 86.0 34.5 88.0 34.1 89.0 34.2 90.0 35.0 91.0 35.1 93.0 34.3 95.0 33.1 97.0 32.8 99.0 33.3 100.0 33.2 102.0 33.6 104.0 32.7 105.0 32.7 106.0 32.8 107.0 33.3 110.0 33.8 111.0 33.3 112.0 33.1 113.0 32.5 121.0 32.4 122.0 32.7 123.0 33.6 124.0 33.3 125.0 32.4 127.0 32.4 130.0 34.0 131.0 34.1 132.0 33.0 133.0 32.4 137.0 32.8 139.0 32.5 140.0 33.1 141.0 33.3 142.0 32.9 144.0 33.1 145.0 32.8 146.0 32.8 148.0 33.2 149.0 33.1 151.0 33.9 152.0 33.7 153.0 32.9 154.0 32.6 156.0 33.7 157.0 33.5 158.0 32.9 159.0 33.0 160.0 33.5 162.0 32.8 163.0 33.4 165.0 33.6 166.0 33.3 167.0 32.6 168.0 32.4 170.0 33.3 172.0 32.8 174.0 32.9 175.0 33.3 176.0 35.5 177.0 36.5 178.0 34.0 179.0 33.3 180.0 33.4 181.0 33.0 182.0 33.0 184.0 33.4 185.0 33.1 186.0 32.4 187.0 32.4 188.0 32.9 189.0 32.5 191.0 32.4 193.0 33.4 196.0 34.1 198.0 33.0 201.0 33.4 202.0 32.9 205.0 32.7 206.0 32.4 209.0 32.4 211.0 33.1 213.0 33.2 216.0 32.4 218.0 32.7 219.0 32.6 221.0 33.9 223.0 33.1 224.0 33.6 225.0 34.7 226.0 35.5 227.0 35.2 229.0 33.7 230.0 33.9 231.0 34.6 232.0 34.6 233.0 34.9 234.0 35.5 235.0 35.1 237.0 36.3 238.0 35.6 239.0 35.2 240.0 35.3 241.0 35.6 243.0 36.7 245.0 37.2 246.0 37.8 248.0 37.1 249.0 37.4 251.0 36.6 252.0 37.2 253.0 37.4 254.0 37.1 256.0 37.1 257.0 36.4 258.0 36.3 260.0 36.9 263.0 41.0 264.0 43.5 265.0 47.2 267.0 57.9 268.0 66.5 270.0 87.9 273.0 111.0 275.0 121.1 276.0 121.6 278.0 111.2 280.0 97.7 283.0 85.9 284.0 83.8 286.0 82.5 288.0 79.5 290.0 78.9 291.0 78.3 292.0 78.5 293.0 78.5 295.0 76.3 298.0 74.1 299.0 73.6 300.0 72.8 301.0 71.5 303.0 69.9 304.0 68.7 305.0 68.0 306.0 67.9 308.0 66.6 310.0 63.9 311.0 63.2 312.0 62.8 313.0 61.6 314.0 60.0 318.0 57.2 321.0 53.6 322.0 53.4 323.0 53.5 325.0 51.7 326.0 51.3 327.0 51.3 328.0 50.8 329.0 49.5 331.0 48.1 332.0 46.8 334.0 46.3 335.0 45.9 336.0 46.6 337.0 47.0 339.0 45.3 341.0 45.0 342.0 45.0 344.0 45.6 346.0 45.3 347.0 45.7 348.0 45.7 350.0 44.8 351.0 44.0 352.0 44.5 353.0 45.6 354.0 45.6 355.0 44.7 356.0 44.3 358.0 45.7 359.0 45.5 361.0 45.7 362.0 45.5 363.0 45.6 364.0 45.4 365.0 44.6 366.0 45.0 367.0 46.1 368.0 46.3 369.0 46.1 370.0 46.3 371.0 45.9 372.0 45.1 374.0 45.5 376.0 45.5 378.0 44.4 379.0 45.7 381.0 50.7 382.0 54.3 385.0 68.6 386.0 71.5 387.0 72.8 388.0 73.4 389.0 74.0 390.0 73.9 391.0 73.0 392.0 72.8 393.0 72.2 394.0 70.1 395.0 67.3 396.0 65.2 397.0 63.7 398.0 61.5 399.0 58.5 401.0 53.7 402.0 51.7 404.0 48.4 406.0 43.5 407.0 41.8 409.0 39.8 410.0 38.4 411.0 37.6 412.0 37.3 414.0 35.2 415.0 34.9 416.0 34.9 418.0 35.7 419.0 35.8 420.0 35.4 422.0 35.2 423.0 34.5 425.0 34.7 426.0 34.3 427.0 34.5 429.0 36.1 431.0 35.9 432.0 36.0 433.0 35.2 434.0 35.2 435.0 35.6 436.0 35.3 437.0 36.0 438.0 37.1 440.0 37.6 441.0 37.1 442.0 36.2 443.0 36.6 445.0 39.5 446.0 41.9 448.0 48.3 449.0 50.4 450.0 51.7 451.0 53.6 453.0 58.4 454.0 61.6 455.0 63.0 456.0 62.2 459.0 58.7 461.0 54.5 462.0 53.1 463.0 51.1 465.0 47.9 466.0 45.7 468.0 42.5 470.0 39.8 471.0 38.0 472.0 37.0 473.0 37.3 474.0 37.2 475.0 36.3 476.0 36.6 477.0 37.7 481.0 44.6 482.0 47.0 483.0 50.8 487.0 68.8 488.0 67.6 490.0 53.7 491.0 48.4 492.0 46.4 495.0 42.4 496.0 42.0 497.0 42.1 498.0 41.8 500.0 41.7 502.0 40.9 503.0 41.4 506.0 44.7 507.0 46.5 508.0 47.8 510.0 48.7 511.0 46.4 512.0 42.8 513.0 37.5 514.0 34.5 515.0 33.9 516.0 35.0 517.0 35.7 519.0 34.2 520.0 34.0 521.0 33.5 522.0 32.6" stroke="#ff1a1a"/>
<path d="M71.0 42.4 72.0 37.9 73.0 36.6 74.0 35.9 75.0 36.1 77.0 34.8 78.0 34.8 81.0 35.9 82.0 36.1 83.0 36.6 85.0 36.8 86.0 37.2 88.0 35.8 90.0 37.5 92.0 36.8 93.0 37.2 94.0 38.1 95.0 38.7 97.0 38.0 98.0 37.8 99.0 38.1 101.0 41.0 102.0 41.7 104.0 41.4 106.0 41.2 109.0 42.3 110.0 43.2 111.0 43.5 112.0 42.6 113.0 42.5 114.0 43.6 116.0 46.6 117.0 46.9 118.0 46.4 119.0 45.5 120.0 45.2 121.0 45.0 122.0 45.1 124.0 47.0 126.0 48.2 127.0 48.5 128.0 48.1 129.0 48.2 130.0 49.0 131.0 49.3 132.0 48.8 133.0 48.6 136.0 50.4 137.0 50.7 140.0 51.4 141.0 51.0 142.0 51.1 143.0 51.6 144.0 51.7 145.0 52.2 147.0 54.5 148.0 54.5 149.0 53.7 151.0 53.5 154.0 53.7 156.0 56.9 157.0 56.5 158.0 54.7 159.0 54.3 161.0 56.7 163.0 56.9 164.0 57.7 165.0 57.9 166.0 57.3 168.0 57.3 169.0 57.5 170.0 58.6 171.0 59.1 175.0 58.2 176.0 58.9 177.0 60.7 178.0 63.5 179.0 64.6 181.0 58.1 182.0 56.9 184.0 56.4 185.0 56.7 187.0 56.3 188.0 57.3 189.0 57.1 190.0 55.7 191.0 54.9 192.0 54.7 193.0 55.2 194.0 55.3 195.0 54.3 196.0 54.2 197.0 54.6 199.0 52.8 201.0 54.1 202.0 53.8 204.0 52.6 205.0 52.4 206.0 52.9 207.0 52.5 208.0 51.5 209.0 50.8 210.0 51.0 211.0 51.9 212.0 51.6 213.0 50.6 214.0 50.5 217.0 49.1 218.0 48.1 220.0 48.0 221.0 47.4 222.0 47.0 223.0 47.1 225.0 46.5 226.0 45.7 227.0 43.7 228.0 42.2 229.0 42.4 230.0 42.9 232.0 41.0 234.0 40.3 236.0 40.3 238.0 39.3 240.0 37.7 242.0 37.6 244.0 35.7 245.0 36.0 247.0 35.2 248.0 36.2 249.0 36.6 251.0 36.2 252.0 35.6 254.0 35.2 258.0 35.4 259.0 35.7 260.0 36.4 261.0 36.9 262.0 37.8 264.0 41.6 265.0 44.4 266.0 49.7 267.0 56.7 268.0 72.6 270.0 114.1 272.0 150.4 274.0 174.2 275.0 182.7 276.0 183.0 278.0 162.4 280.0 134.3 281.0 124.4 282.0 116.7 283.0 111.1 284.0 107.2 285.0 104.6 286.0 103.3 287.0 102.6 288.0 101.4 291.0 96.4 293.0 95.6 294.0 94.6 296.0 93.0 298.0 92.1 301.0 88.2 303.0 86.6 304.0 85.5 306.0 82.8 307.0 81.9 308.0 81.6 309.0 80.9 313.0 77.3 315.0 77.2 317.0 74.4 318.0 73.4 319.0 72.7 322.0 71.4 324.0 71.1 325.0 70.3 326.0 69.9 327.0 69.8 329.0 68.3 332.0 66.7 334.0 65.4 337.0 65.7 338.0 66.2 339.0 65.5 340.0 64.2 341.0 64.1 342.0 64.3 343.0 64.2 346.0 65.6 347.0 65.8 348.0 65.2 349.0 65.2 351.0 66.1 352.0 66.9 353.0 67.4 355.0 65.4 356.0 66.1 357.0 67.5 358.0 68.3 360.0 68.3 361.0 68.7 363.0 69.8 364.0 69.9 365.0 70.6 366.0 71.6 367.0 72.0 368.0 72.0 369.0 72.4 370.0 73.1 371.0 73.1 372.0 73.8 373.0 76.5 374.0 78.5 375.0 79.3 376.0 80.7 378.0 84.4 380.0 85.8 381.0 88.0 382.0 91.6 383.0 96.0 384.0 106.3 387.0 144.3 388.0 152.1 389.0 157.7 390.0 160.5 391.0 161.3 392.0 161.8 393.0 159.6 394.0 155.6 396.0 144.1 400.0 125.3 402.0 118.3 404.0 109.8 405.0 106.4 407.0 97.3 413.0 74.6 415.0 64.5 417.0 58.0 419.0 50.3 422.0 41.4 423.0 39.2 424.0 38.1 426.0 35.1 427.0 35.1 428.0 35.4 429.0 36.1 430.0 35.8 431.0 34.4 432.0 34.6 433.0 35.1 435.0 34.6 436.0 35.2 437.0 36.1 438.0 36.3 439.0 36.0 440.0 36.1 441.0 36.6 443.0 36.7 444.0 39.2 447.0 52.4 452.0 77.1 454.0 87.9 455.0 91.9 456.0 92.5 457.0 89.2 458.0 84.5 460.0 77.9 462.0 70.1 465.0 60.3 468.0 48.0 469.0 45.8 470.0 46.3 471.0 48.2 472.0 50.7 473.0 54.2 474.0 56.5 475.0 55.9 476.0 55.7 477.0 55.9 478.0 55.1 479.0 54.6 480.0 55.0 481.0 54.5 483.0 51.4 484.0 50.9 486.0 47.9 487.0 47.1 488.0 45.3 489.0 44.0 491.0 40.3 492.0 39.9 493.0 40.0 495.0 38.1 496.0 37.8 497.0 37.8 498.0 38.4 500.0 37.7 501.0 38.5 503.0 38.6 506.0 39.6 507.0 39.5 509.0 40.6 510.0 38.6 511.0 35.6 512.0 34.3 513.0 34.8 514.0 34.3 515.0 33.0 516.0 32.9 518.0 33.4 521.0 34.5 522.0 34.4" stroke="#ff1a1a"/>
<path d="M71.0 160.0 72.0 149.8 77.0 106.3 79.0 91.0 81.0 72.6 84.0 49.0 85.0 42.5 86.0 38.1 87.0 37.1 88.0 36.8 89.0 35.6 90.0 35.0 92.0 35.5 93.0 35.4 95.0 33.1 96.0 33.7 97.0 35.0 98.0 35.7 99.0 35.8 100.0 35.5 102.0 33.1 103.0 33.4 104.0 34.0 106.0 34.8 108.0 34.5 110.0 36.0 111.0 35.1 112.0 34.6 113.0 34.9 114.0 34.5 115.0 34.8 116.0 35.5 117.0 35.1 118.0 35.2 119.0 35.6 120.0 35.4 124.0 36.0 127.0 36.2 128.0 35.9 129.0 35.0 131.0 34.6 132.0 34.1 133.0 34.5 134.0 35.4 135.0 35.7 137.0 34.7 138.0 34.8 139.0 35.3 140.0 36.2 141.0 36.5 142.0 36.2 143.0 36.4 144.0 36.2 145.0 35.5 147.0 35.7 149.0 36.7 150.0 36.1 151.0 35.1 152.0 35.6 153.0 36.4 154.0 36.1 155.0 36.2 156.0 37.2 157.0 37.6 159.0 36.0 161.0 37.4 163.0 36.7 167.0 38.6 169.0 38.7 171.0 38.2 173.0 39.1 175.0 38.9 176.0 39.7 177.0 39.8 178.0 39.1 179.0 38.9 180.0 39.4 181.0 39.7 182.0 39.6 183.0 39.3 184.0 38.6 185.0 38.4 186.0 39.1 187.0 40.4 188.0 41.0 190.0 41.4 192.0 40.7 193.0 41.2 194.0 41.0 195.0 40.2 196.0 40.4 199.0 41.7 201.0 41.5 204.0 41.7 206.0 40.5 207.0 41.1 208.0 42.0 209.0 41.4 210.0 40.0 211.0 40.2 212.0 41.3 213.0 41.3 215.0 42.3 217.0 40.0 218.0 40.8 219.0 40.8 220.0 40.3 221.0 40.7 224.0 40.8 226.0 40.7 227.0 40.1 228.0 39.1 229.0 39.0 230.0 39.7 232.0 40.0 233.0 40.6 236.0 38.8 237.0 38.5 239.0 39.7 241.0 39.6 242.0 39.0 243.0 39.0 246.0 41.4 247.0 41.2 248.0 40.7 249.0 40.7 250.0 39.8 251.0 39.3 252.0 40.1 253.0 40.4 254.0 40.1 256.0 40.1 257.0 40.0 258.0 39.5 259.0 39.4 260.0 40.4 261.0 41.9 263.0 43.3 264.0 45.0 265.0 48.1 266.0 52.7 267.0 60.3 268.0 79.4 270.0 128.9 272.0 171.4 274.0 199.0 275.0 208.2 276.0 207.7 278.0 183.1 280.0 150.5 281.0 137.9 282.0 126.9 283.0 119.5 284.0 115.0 285.0 111.9 288.0 104.8 290.0 101.9 291.0 101.2 292.0 101.2 294.0 98.7 295.0 98.4 296.0 97.5 297.0 95.8 298.0 95.1 299.0 95.1 300.0 94.5 302.0 91.8 303.0 91.4 305.0 89.8 307.0 88.7 308.0 88.1 309.0 88.1 310.0 87.4 311.0 85.6 312.0 84.3 314.0 84.4 315.0 83.9 317.0 83.6 318.0 82.9 319.0 81.8 321.0 80.6 324.0 78.4 325.0 78.0 326.0 78.1 327.0 77.9 329.0 77.0 331.0 75.6 333.0 75.2 335.0 75.9 337.0 75.1 340.0 75.2 341.0 75.5 342.0 75.5 343.0 75.2 344.0 75.5 345.0 76.3 346.0 76.7 347.0 76.6 349.0 75.5 350.0 76.7 351.0 77.0 352.0 76.5 353.0 77.6 354.0 78.0 355.0 77.7 357.0 78.0 358.0 77.5 359.0 77.7 361.0 80.1 363.0 81.7 365.0 82.5 367.0 83.6 369.0 85.5 371.0 86.5 373.0 88.1 374.0 89.3 376.0 92.5 378.0 96.9 379.0 99.7 380.0 105.7 381.0 115.3 385.0 171.7 386.0 180.3 387.0 186.3 388.0 188.6 389.0 190.3 390.0 190.2 391.0 187.2 392.0 182.0 394.0 167.2 399.0 143.2 405.0 117.9 407.0 110.6 410.0 98.0 412.0 86.7 415.0 72.3 420.0 53.0 423.0 42.2 425.0 39.4 426.0 37.1 427.0 35.7 429.0 35.8 430.0 34.8 431.0 33.0 432.0 32.6 434.0 35.5 435.0 35.5 436.0 35.2 437.0 35.6 438.0 35.5 439.0 35.1 440.0 35.2 442.0 36.7 443.0 37.7 444.0 42.5 445.0 50.5 448.0 80.9 454.0 134.6 455.0 138.4 456.0 135.0 459.0 113.0 461.0 101.7 468.0 55.2 469.0 51.7 471.0 47.2 474.0 44.0 475.0 44.5 476.0 45.4 477.0 45.5 478.0 45.2 479.0 45.3 480.0 46.0 481.0 45.6 482.0 44.3 483.0 44.3 484.0 45.2 486.0 45.2 487.0 45.9 488.0 46.1 489.0 46.0 490.0 45.2 492.0 39.4 493.0 39.4 495.0 37.3 496.0 37.3 498.0 36.3 500.0 37.2 503.0 38.1 504.0 38.7 506.0 40.4 507.0 41.0 508.0 39.7 510.0 33.1 511.0 33.3 513.0 34.5 514.0 34.6 515.0 33.8 516.0 34.2 517.0 35.1 519.0 33.6 522.0 34.3" stroke="#ff1a1a"/>
<path d="M71.0 100.2 74.0 69.4 77.0 41.5 78.0 37.9 79.0 37.6 80.0 36.9 82.0 37.2 83.0 36.3 86.0 34.8 88.0 35.6 89.0 35.5 91.0 36.4 92.0 36.3 93.0 35.6 94.0 35.2 95.0 35.7 97.0 37.8 98.0 37.7 100.0 36.3 101.0 36.6 102.0 37.6 105.0 39.5 107.0 39.9 108.0 39.9 110.0 40.4 111.0 40.9 112.0 41.7 114.0 42.4 115.0 43.0 117.0 41.9 118.0 42.0 119.0 42.7 120.0 43.0 121.0 43.6 122.0 44.5 123.0 44.7 124.0 44.9 126.0 44.2 127.0 45.1 128.0 45.7 129.0 45.0 130.0 44.8 132.0 46.1 133.0 46.0 134.0 45.4 136.0 47.1 137.0 46.9 138.0 47.1 139.0 47.9 140.0 48.2 141.0 47.5 142.0 46.5 143.0 46.8 144.0 47.8 147.0 49.1 149.0 48.3 151.0 49.6 153.0 48.9 155.0 50.6 156.0 50.6 157.0 50.8 158.0 51.5 159.0 51.5 162.0 50.5 163.0 51.0 164.0 51.9 166.0 52.7 167.0 52.6 168.0 52.2 169.0 52.9 170.0 54.0 171.0 53.9 172.0 53.4 174.0 54.2 175.0 55.8 176.0 59.1 177.0 58.4 179.0 53.0 181.0 53.1 183.0 50.9 185.0 50.2 186.0 50.4 187.0 51.2 188.0 51.0 190.0 50.1 191.0 49.3 192.0 48.9 193.0 48.9 198.0 50.0 200.0 48.8 201.0 48.5 203.0 48.9 205.0 47.7 208.0 47.5 210.0 47.6 211.0 47.3 212.0 46.5 213.0 46.2 215.0 46.0 216.0 46.4 217.0 46.5 219.0 44.0 220.0 43.6 222.0 44.1 226.0 41.2 227.0 41.0 228.0 40.5 229.0 39.3 230.0 38.6 232.0 39.2 234.0 37.9 236.0 38.4 238.0 36.4 239.0 36.2 240.0 36.7 241.0 36.5 242.0 35.9 244.0 36.1 246.0 35.4 248.0 35.0 250.0 35.1 251.0 34.6 252.0 34.9 253.0 35.5 254.0 35.2 256.0 35.2 257.0 34.6 258.0 34.3 259.0 34.5 261.0 34.6 264.0 39.6 265.0 43.0 266.0 48.1 267.0 54.6 270.0 81.9 272.0 96.4 274.0 109.0 275.0 113.1 276.0 113.2 278.0 105.6 280.0 95.5 283.0 85.0 284.0 84.4 285.0 84.6 286.0 84.3 287.0 83.5 288.0 83.3 289.0 83.4 290.0 82.8 291.0 81.6 292.0 81.5 293.0 81.9 294.0 81.7 296.0 80.0 297.0 79.6 299.0 78.1 301.0 77.9 302.0 77.5 303.0 76.4 304.0 74.8 305.0 74.4 306.0 75.2 307.0 74.1 308.0 72.0 309.0 71.6 310.0 71.6 312.0 70.0 314.0 69.0 315.0 68.1 316.0 68.0 317.0 68.3 320.0 65.9 321.0 65.3 323.0 64.9 326.0 62.8 327.0 63.0 328.0 62.9 329.0 62.6 330.0 62.1 331.0 61.2 332.0 60.7 334.0 59.7 335.0 60.0 337.0 59.6 338.0 59.8 339.0 60.4 340.0 60.2 341.0 59.6 342.0 59.5 343.0 58.7 344.0 58.5 345.0 59.3 346.0 59.5 347.0 59.1 348.0 58.5 349.0 58.3 352.0 60.0 353.0 61.0 355.0 61.1 357.0 61.6 358.0 62.5 359.0 63.1 360.0 63.0 361.0 63.5 362.0 64.5 363.0 64.9 364.0 64.9 365.0 65.2 366.0 65.9 369.0 69.8 371.0 69.9 372.0 70.6 373.0 70.9 374.0 71.5 376.0 74.2 377.0 76.0 379.0 80.7 380.0 84.5 381.0 89.7 382.0 96.5 383.0 113.8 386.0 175.9 387.0 191.5 388.0 201.1 389.0 206.6 390.0 208.6 391.0 209.2 392.0 207.0 393.0 203.0 395.0 187.0 397.0 174.8 400.0 159.7 402.0 151.6 404.0 141.4 406.0 134.1 410.0 116.5 413.0 104.3 417.0 83.9 421.0 66.5 422.0 63.0 424.0 53.9 425.0 50.5 429.0 39.2 430.0 37.5 431.0 36.3 432.0 35.9 433.0 36.3 435.0 34.6 436.0 35.4 437.0 35.7 438.0 34.8 439.0 35.0 440.0 36.1 442.0 36.4 443.0 37.7 444.0 45.3 445.0 58.7 448.0 113.3 454.0 214.6 455.0 227.5 456.0 227.2 457.0 217.0 459.0 188.8 465.0 116.9 468.0 75.3 469.0 67.9 470.0 64.7 471.0 61.9 473.0 59.1 474.0 58.1 475.0 58.2 477.0 59.4 478.0 59.2 479.0 60.6 480.0 63.1 482.0 67.3 484.0 72.7 487.0 86.0 489.0 92.9 490.0 95.6 491.0 92.9 494.0 68.9 495.0 64.5 497.0 60.0 499.0 56.6 500.0 56.5 501.0 58.2 502.0 60.3 505.0 68.0 508.0 82.2 509.0 85.7 510.0 77.9 512.0 52.0 513.0 41.2 514.0 38.9 515.0 38.5 516.0 38.5 518.0 37.3 519.0 37.3 520.0 36.8 522.0 33.5" stroke="#ff1a1a"/>
<path d="M71.0 85.9 75.0 39.9 76.0 36.2 77.0 35.2 79.0 35.8 81.0 34.6 82.0 34.7 83.0 34.5 84.0 33.9 86.0 34.3 87.0 33.7 88.0 33.6 89.0 33.8 91.0 33.5 92.0 34.3 93.0 34.7 94.0 34.0 95.0 33.6 96.0 33.8 97.0 33.5 98.0 33.7 99.0 34.3 100.0 33.7 101.0 33.5 102.0 34.2 103.0 34.5 105.0 34.1 106.0 34.2 107.0 33.7 108.0 33.8 109.0 34.6 111.0 34.2 112.0 34.3 113.0 34.1 115.0 35.1 117.0 34.5 118.0 34.9 119.0 34.4 120.0 32.9 121.0 32.5 122.0 33.1 124.0 35.2 126.0 34.1 128.0 34.5 130.0 32.9 132.0 34.2 133.0 34.1 134.0 33.4 135.0 33.5 137.0 34.4 138.0 34.3 140.0 32.9 142.0 33.9 144.0 34.5 145.0 34.4 146.0 33.9 148.0 34.1 150.0 33.4 151.0 33.5 153.0 35.4 154.0 35.8 156.0 35.7 158.0 34.7 159.0 34.8 162.0 36.3 163.0 36.0 164.0 35.2 165.0 35.0 166.0 35.1 169.0 36.6 170.0 36.8 171.0 36.1 172.0 35.8 175.0 36.0 178.0 36.9 179.0 36.8 180.0 36.3 181.0 36.3 183.0 38.1 184.0 38.2 186.0 37.3 187.0 36.5 188.0 36.3 189.0 36.8 190.0 36.4 191.0 36.5 192.0 37.6 193.0 37.6 194.0 37.3 195.0 37.8 196.0 37.9 197.0 37.4 199.0 37.7 200.0 37.2 202.0 36.8 203.0 36.2 204.0 36.7 205.0 37.5 207.0 36.8 208.0 36.7 210.0 35.7 212.0 36.7 214.0 37.3 215.0 36.8 216.0 36.8 217.0 37.6 218.0 38.0 219.0 37.8 221.0 36.5 223.0 36.9 225.0 35.9 226.0 36.4 227.0 36.3 228.0 35.7 229.0 36.1 230.0 36.1 231.0 35.8 232.0 36.2 233.0 36.2 234.0 35.9 236.0 36.4 238.0 36.3 240.0 38.2 243.0 37.6 246.0 38.0 247.0 38.7 248.0 38.9 249.0 38.6 252.0 38.7 253.0 38.4 255.0 37.3 256.0 37.2 258.0 38.6 261.0 39.6 262.0 39.6 263.0 40.6 264.0 43.0 265.0 46.8 266.0 52.4 267.0 59.5 268.0 76.1 270.0 120.1 272.0 158.2 273.0 171.3 275.0 190.5 276.0 190.7 277.0 175.7 278.0 156.6 280.0 111.8 282.0 83.2 283.0 72.6 284.0 66.0 289.0 53.0 292.0 48.7 293.0 48.1 296.0 47.3 298.0 44.8 299.0 44.9 300.0 44.8 301.0 43.8 302.0 43.7 305.0 43.7 306.0 43.3 308.0 40.5 309.0 40.6 310.0 40.5 311.0 39.8 312.0 39.8 313.0 40.5 314.0 40.6 315.0 39.7 316.0 39.1 317.0 39.5 318.0 39.5 320.0 38.5 324.0 37.3 325.0 36.7 326.0 36.7 328.0 37.6 329.0 37.6 330.0 37.9 331.0 37.8 332.0 36.8 333.0 36.9 334.0 37.8 335.0 37.8 336.0 36.7 337.0 36.2 339.0 35.5 340.0 36.2 341.0 38.1 342.0 38.5 343.0 37.4 345.0 36.3 346.0 36.0 349.0 37.4 351.0 36.7 352.0 36.1 353.0 35.8 354.0 36.4 356.0 36.0 357.0 37.1 358.0 37.9 360.0 38.4 361.0 38.2 362.0 37.1 363.0 36.4 365.0 37.9 366.0 38.1 367.0 38.0 369.0 38.4 371.0 37.7 372.0 37.7 374.0 39.2 375.0 39.1 376.0 38.3 377.0 38.4 378.0 39.0 379.0 40.6 380.0 45.5 382.0 60.4 383.0 77.5 385.0 137.1 387.0 188.5 388.0 203.4 389.0 212.7 391.0 219.0 392.0 218.9 393.0 215.6 394.0 208.7 395.0 199.2 396.0 191.8 400.0 170.2 404.0 152.1 409.0 133.8 413.0 116.0 416.0 100.8 418.0 93.3 422.0 73.1 428.0 49.1 431.0 41.7 432.0 38.8 433.0 36.7 434.0 35.9 436.0 34.9 438.0 34.6 440.0 36.6 442.0 37.8 443.0 38.8 444.0 44.1 445.0 55.1 448.0 103.4 451.0 145.9 454.0 192.0 455.0 204.7 456.0 204.8 457.0 195.8 468.0 75.0 469.0 65.9 472.0 48.4 473.0 43.5 474.0 41.4 476.0 41.1 478.0 42.7 479.0 42.1 480.0 42.5 481.0 43.6 483.0 45.2 485.0 49.1 487.0 54.1 488.0 55.9 489.0 56.6 490.0 54.5 492.0 47.5 493.0 46.2 495.0 44.1 497.0 44.1 498.0 43.7 500.0 44.0 502.0 43.0 503.0 43.1 505.0 42.5 506.0 42.6 507.0 40.8 509.0 34.6 510.0 33.8 511.0 34.1 512.0 35.1 513.0 34.7 514.0 34.0 516.0 33.7 517.0 34.0 518.0 34.6 519.0 34.6 521.0 35.4 522.0 34.3" stroke="#ff1a1a"/>
<path d="M71.0 140.2 73.0 120.1 80.0 60.1 81.0 52.3 83.0 39.7 84.0 37.1 85.0 37.0 86.0 36.7 88.0 36.8 89.0 36.6 91.0 35.8 93.0 34.2 95.0 34.8 97.0 33.6 100.0 34.4 101.0 34.3 102.0 33.6 103.0 33.5 104.0 33.8 105.0 33.9 107.0 33.2 109.0 34.6 111.0 33.1 112.0 33.2 113.0 34.1 114.0 34.1 115.0 33.3 117.0 33.9 118.0 33.9 121.0 34.6 122.0 34.5 123.0 34.2 124.0 33.3 125.0 32.8 126.0 33.3 128.0 33.5 129.0 34.3 130.0 34.6 132.0 34.3 133.0 33.9 135.0 34.1 136.0 33.7 138.0 33.9 140.0 33.8 141.0 33.1 142.0 32.9 143.0 33.3 145.0 32.7 147.0 33.7 148.0 33.5 149.0 33.8 150.0 34.5 151.0 34.9 153.0 34.5 154.0 34.9 155.0 35.6 156.0 35.1 157.0 33.5 158.0 33.0 161.0 35.5 162.0 35.0 163.0 35.3 164.0 36.1 165.0 36.0 169.0 33.1 170.0 33.4 172.0 34.8 173.0 35.1 174.0 34.8 175.0 34.9 176.0 36.1 178.0 39.3 180.0 35.3 181.0 34.8 182.0 35.9 183.0 35.6 184.0 35.0 185.0 34.8 187.0 34.0 189.0 34.2 190.0 33.8 191.0 33.8 192.0 33.5 193.0 32.9 195.0 34.1 196.0 33.9 197.0 34.1 198.0 34.7 199.0 34.7 200.0 34.5 201.0 34.6 203.0 32.8 204.0 33.2 205.0 34.2 206.0 34.7 207.0 34.3 208.0 34.3 209.0 35.3 210.0 35.0 211.0 33.9 213.0 33.6 214.0 33.8 215.0 34.5 217.0 33.7 218.0 34.1 220.0 34.3 221.0 34.6 222.0 34.6 223.0 34.4 225.0 34.5 226.0 33.9 227.0 33.7 228.0 34.6 229.0 34.5 230.0 33.4 231.0 34.3 232.0 36.0 233.0 36.5 235.0 35.9 236.0 36.2 237.0 35.9 238.0 35.4 239.0 36.0 240.0 36.3 243.0 35.5 244.0 36.0 245.0 36.8 247.0 38.1 248.0 38.1 249.0 37.4 250.0 37.1 251.0 37.8 252.0 38.9 254.0 40.4 260.0 43.9 262.0 47.0 263.0 47.7 264.0 48.0 265.0 50.6 266.0 56.4 267.0 64.3 272.0 146.0 273.0 158.7 274.0 168.4 275.0 174.2 276.0 173.3 278.0 149.5 280.0 117.2 281.0 106.1 283.0 90.4 284.0 84.0 285.0 80.9 286.0 79.0 287.0 77.4 289.0 75.2 291.0 72.2 293.0 70.9 294.0 69.7 295.0 68.9 297.0 64.9 298.0 64.4 299.0 64.3 302.0 62.2 303.0 61.2 305.0 58.5 307.0 55.3 308.0 54.9 309.0 54.9 310.0 54.2 312.0 51.5 314.0 49.7 315.0 49.1 317.0 48.7 320.0 46.0 321.0 45.9 322.0 46.2 323.0 45.6 325.0 43.2 328.0 41.1 329.0 41.5 330.0 41.2 331.0 39.8 332.0 39.3 333.0 39.6 336.0 39.0 338.0 37.5 339.0 37.7 340.0 38.1 341.0 38.0 343.0 37.0 345.0 38.2 348.0 37.5 349.0 37.6 352.0 38.3 354.0 37.7 356.0 38.3 358.0 39.3 359.0 39.5 360.0 39.5 362.0 40.7 364.0 40.5 367.0 39.2 368.0 39.7 369.0 40.4 371.0 40.7 373.0 40.6 374.0 40.8 376.0 40.9 377.0 41.8 378.0 42.0 379.0 43.4 380.0 48.2 381.0 54.7 382.0 66.5 384.0 97.0 386.0 122.7 387.0 129.8 388.0 133.4 390.0 134.9 391.0 134.3 392.0 132.2 394.0 122.5 397.0 110.9 399.0 104.1 404.0 82.9 406.0 77.0 411.0 57.9 415.0 46.1 417.0 40.9 419.0 37.5 420.0 35.3 421.0 34.3 423.0 35.4 425.0 34.8 427.0 35.9 429.0 36.0 431.0 35.6 433.0 36.6 434.0 35.9 435.0 35.5 436.0 35.6 437.0 35.3 438.0 35.6 439.0 36.5 440.0 36.5 441.0 35.3 442.0 35.0 443.0 35.9 444.0 40.5 445.0 48.8 453.0 132.9 455.0 156.3 456.0 161.8 457.0 157.6 460.0 131.1 469.0 60.6 472.0 44.1 473.0 40.6 476.0 40.1 478.0 41.0 479.0 42.0 481.0 42.1 482.0 43.3 483.0 43.8 484.0 43.9 485.0 44.9 486.0 46.2 488.0 51.1 489.0 52.6 490.0 53.3 491.0 51.2 493.0 44.6 495.0 43.0 496.0 41.8 497.0 41.3 499.0 41.8 500.0 41.8 501.0 42.2 502.0 43.2 503.0 44.7 505.0 49.2 507.0 55.5 508.0 56.1 509.0 50.9 511.0 37.7 512.0 36.3 513.0 36.3 515.0 35.9 516.0 36.4 517.0 35.9 518.0 35.0 519.0 34.8 521.0 36.1 522.0 35.0" stroke="#ff1a1a"/>
<path d="M71.0 53.8 72.0 41.5 73.0 36.5 74.0 36.1 76.0 36.1 77.0 35.6 78.0 35.5 80.0 36.4 81.0 36.6 83.0 35.1 84.0 34.9 87.0 35.5 89.0 36.3 92.0 35.9 94.0 36.4 95.0 36.1 96.0 36.3 98.0 37.3 99.0 37.1 100.0 37.3 101.0 38.3 102.0 38.1 103.0 37.2 104.0 37.9 105.0 39.3 106.0 40.1 108.0 39.8 110.0 40.3 112.0 40.0 113.0 40.4 114.0 41.5 115.0 41.8 116.0 41.2 117.0 41.4 118.0 42.3 119.0 42.9 120.0 42.7 122.0 41.7 123.0 41.6 125.0 42.7 126.0 42.1 127.0 42.4 128.0 43.2 130.0 43.3 132.0 44.2 133.0 43.8 134.0 43.9 136.0 45.0 137.0 45.8 138.0 45.9 139.0 45.0 140.0 45.1 141.0 45.6 142.0 45.1 143.0 45.0 144.0 45.9 146.0 46.9 147.0 46.8 148.0 45.7 149.0 46.2 150.0 47.3 152.0 46.9 153.0 47.3 155.0 47.3 156.0 48.1 157.0 48.1 158.0 47.4 161.0 48.4 162.0 49.7 163.0 49.8 164.0 48.9 165.0 48.9 168.0 50.2 169.0 50.3 170.0 50.1 171.0 49.6 172.0 49.4 173.0 49.5 174.0 50.1 175.0 51.2 176.0 53.7 177.0 57.3 178.0 55.5 179.0 51.5 180.0 49.9 181.0 49.8 182.0 50.1 183.0 49.9 184.0 48.9 186.0 48.3 187.0 47.7 189.0 47.6 190.0 47.3 192.0 47.7 193.0 46.8 194.0 46.2 196.0 45.9 198.0 47.3 199.0 47.3 200.0 47.1 201.0 46.6 202.0 45.5 203.0 45.4 204.0 46.5 205.0 46.7 206.0 45.8 207.0 45.2 209.0 45.5 210.0 45.2 213.0 45.1 214.0 45.5 215.0 45.4 217.0 44.5 218.0 44.4 219.0 44.9 220.0 44.8 221.0 44.1 222.0 43.9 223.0 44.4 224.0 44.4 226.0 44.8 228.0 44.8 229.0 44.6 230.0 43.7 231.0 43.4 232.0 44.0 234.0 43.9 235.0 44.2 237.0 43.6 239.0 43.8 241.0 43.5 242.0 43.8 243.0 44.8 244.0 44.8 245.0 44.2 247.0 44.5 249.0 43.4 250.0 43.7 252.0 45.0 254.0 44.3 255.0 45.2 258.0 49.7 260.0 52.2 261.0 53.8 263.0 55.4 264.0 57.1 265.0 60.3 266.0 65.0 267.0 71.2 268.0 84.1 270.0 115.3 272.0 141.6 275.0 165.9 276.0 166.7 277.0 159.5 280.0 132.4 283.0 118.2 284.0 115.5 286.0 111.9 288.0 110.9 290.0 108.1 291.0 107.9 292.0 108.3 294.0 106.5 296.0 106.5 297.0 106.1 299.0 103.3 300.0 103.1 301.0 103.1 303.0 101.4 307.0 99.9 308.0 99.1 310.0 97.9 311.0 97.6 312.0 98.1 313.0 98.3 315.0 95.9 317.0 95.9 318.0 95.3 320.0 94.5 322.0 94.5 325.0 92.9 326.0 93.1 327.0 93.8 328.0 93.8 329.0 92.8 330.0 92.3 331.0 92.5 332.0 93.0 333.0 93.0 334.0 92.0 335.0 91.8 336.0 92.2 338.0 91.0 339.0 91.5 340.0 91.7 341.0 91.7 342.0 92.2 344.0 91.8 346.0 91.9 349.0 91.5 350.0 91.2 351.0 91.2 352.0 91.7 353.0 92.7 354.0 93.0 355.0 92.2 356.0 91.9 357.0 92.0 358.0 92.1 359.0 92.9 360.0 93.2 361.0 93.7 362.0 94.5 363.0 93.7 364.0 93.5 365.0 94.5 366.0 94.4 367.0 94.0 370.0 94.3 373.0 95.6 374.0 95.9 375.0 95.9 376.0 96.7 377.0 97.9 378.0 97.7 379.0 102.6 380.0 113.8 381.0 129.2 385.0 209.0 386.0 219.4 387.0 226.2 388.0 229.0 389.0 230.5 390.0 228.5 391.0 224.5 392.0 217.4 393.0 207.9 396.0 187.7 401.0 165.0 406.0 144.1 410.0 130.5 411.0 126.5 419.0 86.9 422.0 73.4 427.0 53.0 428.0 49.8 431.0 42.1 434.0 36.1 435.0 35.8 436.0 36.1 437.0 35.5 438.0 35.2 440.0 36.9 442.0 37.3 443.0 37.8 444.0 39.3 445.0 42.7 450.0 63.5 452.0 70.7 454.0 79.4 455.0 81.0 456.0 80.4 457.0 78.1 458.0 74.8 460.0 70.3 461.0 67.4 463.0 59.2 465.0 54.9 467.0 47.1 468.0 44.6 469.0 43.8 471.0 44.5 473.0 44.6 476.0 46.8 481.0 54.6 484.0 62.4 485.0 66.5 487.0 78.0 488.0 82.7 489.0 83.3 490.0 77.9 492.0 60.8 493.0 57.4 494.0 55.6 496.0 51.0 498.0 48.5 499.0 48.1 501.0 49.1 502.0 50.2 503.0 52.4 506.0 61.2 509.0 75.5 510.0 72.2 513.0 41.8 514.0 40.0 515.0 38.9 516.0 38.1 518.0 36.9 519.0 36.7 520.0 36.3 522.0 33.9" stroke="#ff1a1a"/>
<path d="M71.0 61.0 73.0 37.0 74.0 36.3 75.0 36.9 76.0 36.9 78.0 36.0 79.0 36.5 80.0 36.5 81.0 35.4 82.0 35.4 84.0 37.9 85.0 37.7 86.0 36.5 87.0 36.5 88.0 36.8 89.0 36.1 90.0 36.1 91.0 36.8 94.0 36.9 95.0 36.7 97.0 37.0 98.0 36.6 100.0 38.0 101.0 38.1 102.0 38.1 103.0 37.8 104.0 37.9 105.0 38.3 106.0 37.5 107.0 37.0 109.0 39.1 112.0 38.5 113.0 39.0 114.0 39.7 115.0 39.8 116.0 38.7 117.0 38.1 119.0 40.0 121.0 39.6 123.0 42.4 125.0 42.2 127.0 43.1 128.0 42.3 129.0 41.1 130.0 41.5 131.0 42.8 132.0 43.7 134.0 43.4 135.0 43.7 136.0 43.7 137.0 43.0 138.0 43.2 140.0 45.5 143.0 46.3 145.0 45.7 146.0 46.4 147.0 47.4 149.0 47.2 150.0 47.8 151.0 47.7 152.0 47.3 153.0 47.5 155.0 48.6 156.0 48.6 157.0 49.2 158.0 50.1 160.0 51.0 161.0 51.1 162.0 50.8 163.0 51.4 164.0 52.9 165.0 53.5 166.0 53.2 167.0 53.7 168.0 54.8 169.0 55.1 170.0 54.7 171.0 55.3 172.0 56.8 173.0 57.8 175.0 58.8 177.0 60.7 178.0 61.2 180.0 61.1 181.0 61.8 183.0 63.9 185.0 64.1 186.0 64.5 187.0 65.3 188.0 66.7 189.0 67.4 190.0 67.7 192.0 68.9 194.0 70.9 196.0 71.5 199.0 73.7 200.0 74.0 202.0 73.8 203.0 74.3 204.0 74.4 205.0 74.8 206.0 75.8 208.0 75.8 209.0 76.8 210.0 77.0 211.0 76.4 212.0 76.5 213.0 77.3 214.0 77.4 215.0 76.4 216.0 76.3 217.0 77.1 218.0 77.2 219.0 76.6 221.0 76.3 222.0 75.8 224.0 76.9 225.0 77.2 226.0 76.8 227.0 76.0 228.0 75.8 229.0 76.3 230.0 75.8 231.0 74.6 232.0 73.8 234.0 74.0 235.0 73.7 236.0 72.6 237.0 71.9 238.0 72.1 240.0 70.8 241.0 70.7 243.0 68.5 244.0 68.5 245.0 68.9 246.0 68.3 247.0 63.2 249.0 46.6 250.0 39.8 251.0 34.9 252.0 34.3 253.0 34.9 255.0 35.3 256.0 34.5 257.0 34.4 258.0 35.7 259.0 36.2 260.0 35.8 261.0 35.8 262.0 36.2 263.0 37.7 264.0 40.1 265.0 43.5 267.0 54.6 270.0 76.9 273.0 95.5 274.0 100.4 275.0 104.0 276.0 104.5 277.0 100.1 280.0 79.1 281.0 74.7 284.0 64.9 285.0 63.4 286.0 62.6 288.0 61.8 289.0 60.8 290.0 60.6 291.0 60.9 293.0 59.3 296.0 58.0 298.0 56.4 299.0 56.0 300.0 55.8 302.0 54.1 304.0 52.8 306.0 53.1 310.0 50.7 312.0 49.3 314.0 49.7 316.0 47.5 318.0 46.7 319.0 45.9 321.0 46.4 323.0 44.0 324.0 43.1 325.0 43.2 326.0 43.7 327.0 43.8 328.0 43.6 330.0 42.6 331.0 42.8 333.0 43.7 334.0 43.6 335.0 42.6 336.0 42.1 338.0 42.7 340.0 42.9 341.0 42.2 342.0 40.9 343.0 40.1 344.0 40.5 345.0 41.4 346.0 41.7 347.0 41.5 348.0 42.3 349.0 42.4 350.0 41.8 351.0 41.9 353.0 41.3 355.0 42.3 357.0 41.3 358.0 41.8 359.0 42.6 360.0 42.9 361.0 42.5 362.0 41.7 364.0 42.0 365.0 41.8 367.0 42.3 368.0 42.2 370.0 43.0 371.0 42.3 372.0 42.3 373.0 42.6 374.0 41.5 375.0 41.3 376.0 42.4 377.0 42.8 378.0 42.6 379.0 46.6 380.0 55.8 381.0 68.2 385.0 152.4 386.0 166.2 387.0 175.0 388.0 178.6 389.0 180.5 390.0 180.7 391.0 178.1 392.0 173.2 394.0 159.0 397.0 144.8 400.0 134.1 402.0 125.5 404.0 119.2 407.0 107.2 410.0 96.8 417.0 66.9 420.0 56.0 424.0 43.8 425.0 41.2 426.0 40.2 427.0 38.8 428.0 35.6 429.0 34.3 430.0 35.3 431.0 35.3 432.0 35.0 434.0 34.8 435.0 34.9 436.0 35.7 437.0 36.7 438.0 36.7 439.0 35.9 440.0 35.8 441.0 36.0 442.0 36.6 443.0 38.6 444.0 44.0 445.0 52.3 446.0 63.2 448.0 90.7 453.0 152.6 455.0 179.5 456.0 183.4 457.0 177.0 459.0 156.2 465.0 102.8 468.0 71.6 469.0 63.3 470.0 57.8 471.0 54.2 473.0 49.4 474.0 47.8 475.0 46.9 476.0 46.5 478.0 46.5 480.0 46.0 483.0 46.8 484.0 46.2 488.0 40.3 490.0 41.7 491.0 40.8 492.0 40.4 493.0 41.0 494.0 40.9 495.0 40.0 496.0 40.4 497.0 41.2 499.0 40.0 500.0 39.8 501.0 40.1 502.0 41.8 506.0 49.8 507.0 46.8 509.0 36.1 510.0 35.1 511.0 34.9 512.0 35.0 515.0 35.8 516.0 35.4 517.0 34.3 518.0 34.2 519.0 35.2 520.0 35.0 521.0 33.9 522.0 34.0" stroke="#ff1a1a"/>
<path d="M71.0 118.9 75.0 84.3 77.0 69.4 79.0 50.1 80.0 42.1 81.0 37.7 82.0 36.6 83.0 36.3 85.0 34.1 86.0 34.7 87.0 36.3 88.0 36.8 90.0 36.2 91.0 35.5 92.0 34.4 93.0 33.9 94.0 33.9 96.0 35.3 99.0 35.4 100.0 35.8 101.0 36.7 102.0 37.1 104.0 36.2 106.0 37.5 107.0 37.5 109.0 39.1 111.0 39.1 112.0 38.6 113.0 38.9 114.0 39.9 116.0 40.1 117.0 40.5 118.0 40.2 119.0 39.7 120.0 40.4 121.0 41.6 122.0 41.8 124.0 40.6 126.0 41.3 127.0 41.3 129.0 42.7 131.0 42.1 132.0 41.3 133.0 40.8 136.0 42.2 137.0 43.5 138.0 44.1 141.0 44.2 143.0 43.8 144.0 44.2 145.0 45.3 146.0 44.7 147.0 43.1 148.0 43.3 150.0 44.7 151.0 45.7 152.0 45.8 153.0 45.6 155.0 46.3 156.0 46.3 157.0 45.5 158.0 45.3 159.0 45.8 160.0 45.9 161.0 46.2 162.0 47.1 163.0 47.5 164.0 47.0 165.0 46.8 166.0 47.2 168.0 46.1 170.0 47.9 171.0 48.0 172.0 47.3 173.0 47.5 174.0 48.5 176.0 51.6 177.0 54.2 178.0 52.7 180.0 48.5 181.0 47.1 182.0 46.8 183.0 47.2 184.0 47.2 186.0 46.1 187.0 44.8 188.0 44.5 189.0 45.6 190.0 45.9 191.0 45.1 192.0 44.9 193.0 45.1 195.0 44.6 197.0 44.5 199.0 45.7 201.0 44.3 202.0 44.5 204.0 45.7 205.0 45.7 207.0 44.3 208.0 43.2 209.0 42.9 210.0 43.0 211.0 42.6 213.0 42.5 214.0 41.9 216.0 41.9 218.0 41.1 219.0 41.1 220.0 41.3 223.0 40.0 225.0 40.4 226.0 40.2 229.0 38.4 230.0 38.4 231.0 38.2 233.0 37.3 236.0 37.3 237.0 36.6 238.0 35.5 239.0 35.1 241.0 36.3 242.0 35.9 243.0 35.9 244.0 36.6 245.0 35.9 246.0 34.8 247.0 35.3 248.0 36.2 250.0 36.7 252.0 36.0 254.0 35.9 256.0 35.3 257.0 35.5 260.0 36.8 262.0 36.2 263.0 37.7 264.0 40.5 266.0 48.8 267.0 54.6 269.0 80.5 272.0 115.2 274.0 132.4 275.0 137.8 276.0 138.0 277.0 133.1 278.0 126.9 280.0 109.6 281.0 104.2 284.0 94.0 285.0 91.9 287.0 90.5 289.0 88.0 290.0 88.0 291.0 87.8 292.0 86.5 293.0 85.8 295.0 86.0 296.0 85.1 297.0 83.8 299.0 82.3 300.0 81.8 301.0 81.8 302.0 82.2 303.0 81.7 306.0 77.8 307.0 77.7 308.0 78.3 310.0 76.9 311.0 76.9 312.0 77.4 313.0 77.1 315.0 75.2 316.0 75.3 317.0 75.7 319.0 75.0 320.0 75.0 321.0 74.5 323.0 72.5 324.0 72.4 327.0 73.2 328.0 72.8 329.0 71.8 331.0 70.7 332.0 69.8 335.0 69.8 337.0 70.6 338.0 70.1 339.0 70.1 340.0 70.5 341.0 70.0 343.0 70.4 345.0 69.5 346.0 69.7 347.0 70.5 348.0 70.6 349.0 70.4 351.0 71.3 352.0 71.0 353.0 70.9 354.0 72.0 355.0 72.4 356.0 72.0 358.0 72.9 359.0 72.6 360.0 73.2 361.0 74.0 362.0 73.9 363.0 73.3 365.0 73.4 367.0 74.9 368.0 74.9 369.0 75.3 370.0 76.2 371.0 77.5 372.0 78.3 375.0 79.4 376.0 80.8 379.0 86.3 380.0 87.2 381.0 88.6 382.0 91.8 383.0 96.7 387.0 138.2 388.0 144.6 389.0 148.0 390.0 149.9 391.0 151.5 392.0 151.7 393.0 149.6 394.0 145.7 396.0 135.2 399.0 122.0 401.0 116.5 403.0 108.5 405.0 103.0 408.0 92.3 410.0 84.1 411.0 80.8 416.0 61.4 419.0 51.8 421.0 48.1 423.0 41.7 424.0 40.1 426.0 35.8 427.0 34.9 430.0 35.5 432.0 35.2 436.0 35.2 437.0 35.4 438.0 36.0 440.0 37.6 441.0 37.6 442.0 37.0 443.0 37.4 444.0 41.1 445.0 46.9 451.0 90.2 453.0 101.7 454.0 110.1 455.0 115.9 456.0 114.4 459.0 97.2 463.0 78.6 468.0 53.2 472.0 39.1 473.0 36.6 474.0 35.2 475.0 34.6 476.0 35.2 477.0 36.1 478.0 36.5 479.0 36.3 480.0 36.7 481.0 37.6 483.0 38.3 485.0 39.4 489.0 46.3 490.0 49.3 491.0 50.9 492.0 48.8 493.0 45.0 494.0 42.3 495.0 40.9 497.0 40.5 498.0 39.6 499.0 39.6 500.0 40.3 501.0 40.3 503.0 39.6 504.0 39.9 505.0 41.2 506.0 43.5 507.0 45.1 508.0 43.5 510.0 35.4 511.0 34.5 513.0 35.3 514.0 35.1 516.0 35.5 517.0 35.3 519.0 33.5 521.0 34.4 522.0 34.5" stroke="#ff1a1a"/>
<path d="M71.0 66.4 73.0 42.6 74.0 37.3 75.0 36.2 76.0 35.7 78.0 35.7 80.0 35.0 82.0 35.4 83.0 35.4 85.0 35.8 87.0 34.5 89.0 34.4 90.0 34.1 92.0 34.9 94.0 34.5 95.0 35.1 96.0 35.2 97.0 34.6 98.0 34.7 99.0 35.3 101.0 35.0 103.0 35.4 105.0 34.6 106.0 34.9 107.0 35.7 110.0 36.9 112.0 35.3 114.0 35.5 115.0 34.7 116.0 35.0 117.0 36.0 118.0 36.1 120.0 35.8 121.0 35.1 122.0 35.0 123.0 35.7 125.0 36.1 127.0 37.5 128.0 37.4 129.0 36.8 130.0 36.6 132.0 36.7 133.0 36.9 135.0 38.5 136.0 38.3 137.0 37.2 138.0 37.4 139.0 38.2 140.0 38.1 142.0 36.6 143.0 36.7 146.0 38.3 148.0 38.3 150.0 38.9 152.0 38.5 154.0 39.2 155.0 39.0 156.0 39.0 157.0 39.5 158.0 39.7 161.0 39.9 162.0 39.6 163.0 40.6 164.0 42.1 165.0 42.1 166.0 41.4 167.0 41.6 169.0 42.9 170.0 42.9 171.0 42.3 172.0 42.1 174.0 43.5 176.0 43.6 178.0 44.1 180.0 43.6 184.0 45.6 186.0 45.9 187.0 45.8 188.0 45.2 189.0 45.5 190.0 46.1 192.0 45.6 193.0 46.2 194.0 46.6 195.0 46.6 197.0 47.2 198.0 48.0 199.0 49.2 200.0 49.1 201.0 48.1 202.0 47.9 203.0 48.8 204.0 49.4 206.0 48.6 207.0 48.7 209.0 47.4 210.0 47.6 212.0 47.3 213.0 47.6 214.0 48.5 215.0 48.7 216.0 47.7 217.0 47.4 218.0 47.9 221.0 48.8 222.0 49.0 223.0 48.7 225.0 47.3 227.0 46.4 228.0 46.5 229.0 47.1 230.0 46.5 231.0 46.2 234.0 47.6 236.0 46.9 237.0 46.7 238.0 45.9 239.0 45.4 240.0 45.7 242.0 44.7 243.0 44.5 244.0 44.0 245.0 43.3 246.0 42.1 247.0 41.5 248.0 41.4 249.0 40.4 250.0 39.7 251.0 40.5 252.0 40.7 253.0 39.6 254.0 39.4 255.0 39.7 258.0 39.7 260.0 39.9 261.0 40.6 264.0 45.1 265.0 48.4 266.0 53.7 267.0 60.6 268.0 80.4 270.0 137.1 272.0 186.4 274.0 217.5 275.0 227.5 276.0 227.6 278.0 200.4 280.0 163.7 281.0 151.9 282.0 142.8 284.0 127.8 285.0 124.4 289.0 116.9 292.0 114.2 294.0 111.7 296.0 108.7 298.0 107.6 301.0 104.6 304.0 101.3 307.0 97.1 308.0 96.4 309.0 96.6 310.0 96.4 312.0 94.2 313.0 93.6 315.0 92.7 317.0 90.2 318.0 90.3 319.0 89.8 320.0 88.6 322.0 87.1 324.0 84.8 325.0 84.3 327.0 84.6 328.0 84.5 329.0 83.8 330.0 83.6 331.0 83.8 334.0 81.0 335.0 80.3 336.0 80.6 337.0 80.7 338.0 80.5 339.0 80.7 341.0 81.9 344.0 81.6 345.0 80.7 346.0 80.2 347.0 80.5 348.0 81.5 349.0 82.2 351.0 80.4 352.0 80.0 353.0 80.6 354.0 82.2 355.0 82.7 358.0 81.1 359.0 80.3 360.0 80.1 362.0 81.5 363.0 81.8 365.0 82.8 367.0 81.8 368.0 82.3 369.0 83.1 371.0 82.6 373.0 82.9 375.0 85.0 377.0 84.3 378.0 85.1 379.0 87.8 380.0 90.9 381.0 96.3 383.0 116.6 385.0 132.3 386.0 137.5 387.0 140.5 389.0 142.6 390.0 142.7 391.0 140.5 392.0 136.4 396.0 117.8 399.0 107.8 402.0 94.8 405.0 84.1 408.0 71.9 411.0 61.8 413.0 53.9 414.0 50.8 418.0 40.4 419.0 39.3 421.0 35.5 422.0 35.2 423.0 35.6 425.0 34.8 427.0 35.1 429.0 34.4 431.0 35.7 433.0 36.5 435.0 35.5 436.0 35.5 437.0 35.9 438.0 36.8 439.0 37.1 440.0 36.7 443.0 36.9 444.0 39.0 445.0 43.3 452.0 85.5 454.0 95.6 455.0 101.9 456.0 104.5 457.0 101.7 459.0 91.9 460.0 88.1 463.0 74.4 465.0 66.6 468.0 50.4 469.0 47.2 470.0 47.1 471.0 48.0 473.0 48.8 474.0 49.7 478.0 55.4 479.0 57.5 482.0 64.8 483.0 67.7 484.0 71.8 487.0 90.6 488.0 95.0 489.0 97.3 490.0 96.7 491.0 91.0 494.0 63.8 495.0 59.9 496.0 57.0 498.0 52.2 499.0 50.8 500.0 51.4 501.0 52.4 502.0 53.9 503.0 56.4 504.0 59.6 506.0 67.5 509.0 85.9 510.0 87.8 511.0 78.4 513.0 51.2 514.0 41.9 515.0 40.2 517.0 38.9 518.0 38.8 519.0 38.1 520.0 36.7 521.0 35.7 522.0 34.0" stroke="#ff1a1a"/>
<path d="M71.0 181.5 73.0 159.8 78.0 110.6 80.0 94.3 84.0 54.7 85.0 47.2 86.0 41.5 87.0 38.3 88.0 37.4 89.0 36.7 90.0 36.9 91.0 37.6 92.0 37.3 93.0 35.7 94.0 35.2 95.0 35.9 96.0 36.0 98.0 35.1 99.0 34.9 100.0 35.1 102.0 37.9 103.0 37.8 105.0 39.5 106.0 39.0 107.0 39.2 108.0 40.5 110.0 41.6 114.0 45.4 116.0 46.1 118.0 47.9 119.0 48.2 120.0 48.0 123.0 49.1 127.0 48.8 129.0 51.2 130.0 51.2 132.0 52.2 134.0 51.6 135.0 52.5 136.0 53.8 137.0 54.5 139.0 54.2 140.0 54.4 142.0 54.8 143.0 55.6 144.0 55.9 145.0 55.5 147.0 56.3 149.0 56.0 151.0 56.2 153.0 57.2 155.0 56.9 158.0 57.5 159.0 57.4 160.0 57.8 161.0 59.0 162.0 59.1 164.0 58.8 165.0 58.9 166.0 59.4 167.0 59.6 169.0 61.4 170.0 61.3 171.0 61.7 172.0 61.4 173.0 60.6 174.0 60.7 175.0 61.5 176.0 63.9 177.0 68.0 178.0 67.7 179.0 63.6 180.0 61.5 182.0 59.8 184.0 60.0 186.0 58.5 190.0 57.8 191.0 57.3 192.0 57.3 193.0 57.7 194.0 57.8 195.0 57.5 197.0 55.6 200.0 56.2 202.0 55.0 203.0 55.0 205.0 54.4 206.0 54.8 207.0 54.2 208.0 53.0 209.0 53.0 210.0 53.7 211.0 53.9 212.0 53.2 213.0 53.0 215.0 52.8 216.0 52.1 218.0 48.9 219.0 48.6 221.0 49.0 222.0 48.4 225.0 45.7 226.0 45.4 228.0 43.7 230.0 44.3 231.0 43.2 232.0 41.5 233.0 41.2 234.0 41.3 237.0 38.9 239.0 38.8 240.0 38.2 241.0 37.2 242.0 36.6 246.0 37.0 249.0 36.6 250.0 35.9 251.0 36.0 252.0 36.9 253.0 37.2 256.0 36.2 258.0 36.8 260.0 35.9 261.0 36.2 264.0 40.6 265.0 43.9 266.0 49.4 267.0 57.3 268.0 80.6 270.0 146.2 272.0 201.0 274.0 236.9 275.0 248.3 276.0 246.7 278.0 199.7 280.0 135.5 281.0 113.0 283.0 81.0 284.0 70.9 286.0 60.8 289.0 49.9 290.0 46.9 291.0 45.1 293.0 44.5 294.0 43.1 295.0 42.7 296.0 43.9 297.0 44.6 299.0 42.1 300.0 41.8 303.0 40.0 305.0 38.7 306.0 37.6 307.0 37.6 309.0 39.2 310.0 38.9 311.0 38.4 313.0 38.6 315.0 37.3 316.0 36.9 318.0 36.6 320.0 35.4 321.0 35.4 323.0 36.4 324.0 36.6 325.0 36.3 326.0 36.4 327.0 37.0 328.0 36.8 329.0 36.1 331.0 35.9 332.0 35.0 333.0 34.4 336.0 35.2 337.0 34.9 338.0 33.9 339.0 33.8 340.0 34.4 342.0 34.0 343.0 34.8 344.0 34.8 346.0 35.5 347.0 34.7 349.0 35.0 352.0 34.2 353.0 34.3 355.0 35.9 356.0 35.9 357.0 35.0 358.0 34.8 359.0 35.4 360.0 35.5 361.0 35.3 363.0 35.7 365.0 34.7 366.0 35.5 367.0 36.6 368.0 36.7 369.0 35.8 370.0 35.4 371.0 35.6 372.0 35.4 373.0 35.8 375.0 38.1 376.0 37.8 377.0 37.1 378.0 37.2 379.0 38.3 380.0 41.6 381.0 45.7 382.0 51.2 385.0 92.6 386.0 105.2 387.0 114.7 388.0 120.8 389.0 122.8 390.0 123.1 391.0 123.1 392.0 122.1 393.0 119.4 397.0 103.7 403.0 82.9 405.0 76.4 407.0 70.8 412.0 52.7 414.0 47.8 416.0 41.8 417.0 40.1 419.0 37.8 420.0 35.8 421.0 35.1 422.0 35.3 425.0 34.3 427.0 35.5 428.0 35.7 429.0 36.3 430.0 36.0 431.0 34.8 432.0 34.6 434.0 36.0 435.0 35.7 436.0 35.0 438.0 35.7 441.0 35.5 442.0 35.8 443.0 36.7 444.0 42.7 446.0 68.6 455.0 210.1 456.0 217.4 457.0 213.3 460.0 174.9 469.0 73.3 472.0 46.2 473.0 39.6 474.0 36.1 475.0 35.4 476.0 35.0 478.0 35.5 480.0 36.7 481.0 36.3 482.0 36.4 483.0 37.3 485.0 39.9 486.0 40.4 487.0 42.2 488.0 45.7 489.0 48.1 490.0 48.9 491.0 48.4 494.0 40.3 495.0 39.9 496.0 38.8 497.0 38.0 499.0 38.1 501.0 37.6 502.0 38.0 503.0 38.9 504.0 40.0 505.0 41.7 506.0 44.2 507.0 47.5 508.0 49.8 511.0 36.0 512.0 35.3 514.0 35.1 515.0 34.5 516.0 34.6 517.0 34.5 518.0 33.6 520.0 34.9 522.0 33.9" stroke="#ff1a1a"/>
<path d="M71.0 73.9 74.0 38.4 75.0 36.0 76.0 34.7 77.0 34.7 79.0 35.5 80.0 35.3 81.0 34.8 82.0 35.2 83.0 35.2 84.0 34.7 85.0 34.5 87.0 34.6 88.0 34.9 89.0 35.7 90.0 35.9 91.0 35.5 98.0 33.9 99.0 34.0 100.0 34.7 103.0 34.2 104.0 33.8 105.0 33.9 106.0 35.1 107.0 35.9 109.0 34.3 111.0 35.4 112.0 35.2 113.0 34.5 114.0 34.7 115.0 35.5 116.0 35.4 118.0 35.8 119.0 35.2 120.0 35.3 121.0 35.6 123.0 35.7 125.0 35.1 126.0 34.5 127.0 34.8 128.0 35.6 129.0 36.0 130.0 36.0 131.0 35.4 132.0 35.7 133.0 36.4 134.0 36.0 135.0 35.2 136.0 35.3 137.0 36.0 138.0 36.3 140.0 35.5 141.0 35.6 142.0 36.0 144.0 37.1 145.0 37.1 146.0 36.6 147.0 36.5 148.0 35.8 149.0 35.5 150.0 36.3 153.0 37.3 154.0 37.2 157.0 36.2 158.0 36.1 162.0 37.6 163.0 37.7 164.0 37.6 165.0 36.7 166.0 36.4 167.0 37.5 168.0 38.0 170.0 37.1 172.0 37.7 173.0 37.5 174.0 36.7 175.0 36.7 176.0 38.6 177.0 41.2 178.0 43.0 179.0 39.8 180.0 37.6 182.0 38.5 184.0 37.0 185.0 36.5 186.0 36.6 187.0 36.3 188.0 36.3 189.0 36.7 191.0 37.8 193.0 36.5 194.0 37.0 196.0 37.1 197.0 37.9 199.0 36.6 200.0 37.0 201.0 36.7 202.0 36.1 204.0 37.1 205.0 37.0 206.0 36.8 208.0 35.4 210.0 35.6 212.0 37.2 213.0 37.0 214.0 36.1 215.0 35.6 216.0 35.6 217.0 35.7 220.0 37.2 223.0 36.4 225.0 36.7 227.0 35.7 228.0 35.5 229.0 35.5 231.0 36.8 232.0 36.9 233.0 36.5 234.0 35.8 235.0 35.7 237.0 37.7 238.0 37.4 241.0 36.0 242.0 36.1 244.0 38.0 245.0 38.0 247.0 36.0 248.0 36.2 249.0 36.5 250.0 37.3 251.0 37.5 252.0 37.4 253.0 37.6 255.0 36.9 258.0 36.5 259.0 36.9 262.0 38.8 263.0 40.0 264.0 42.3 265.0 45.7 266.0 50.3 267.0 57.9 268.0 80.7 270.0 141.9 272.0 193.0 273.0 211.7 274.0 226.2 275.0 236.3 276.0 236.6 278.0 207.1 280.0 167.8 281.0 153.5 283.0 134.7 284.0 128.7 288.0 116.8 289.0 115.8 290.0 115.2 291.0 113.6 292.0 112.7 294.0 111.8 296.0 110.4 297.0 110.1 299.0 108.0 301.0 107.0 302.0 106.1 303.0 105.6 306.0 104.8 307.0 103.9 308.0 103.6 309.0 104.0 311.0 102.9 312.0 103.3 313.0 102.7 315.0 100.4 316.0 99.7 317.0 100.1 318.0 101.2 319.0 101.5 320.0 100.9 321.0 100.0 322.0 99.5 323.0 99.6 324.0 99.2 326.0 97.5 327.0 97.4 330.0 98.5 331.0 98.2 332.0 97.4 334.0 97.8 335.0 97.6 337.0 96.6 338.0 96.5 339.0 97.2 340.0 97.2 341.0 96.7 343.0 97.2 344.0 97.0 347.0 97.4 348.0 97.9 349.0 98.1 350.0 97.4 351.0 97.1 353.0 97.1 354.0 96.8 355.0 96.2 356.0 96.0 358.0 97.8 360.0 97.6 361.0 98.1 362.0 99.1 363.0 99.5 364.0 98.9 366.0 98.3 367.0 97.7 368.0 98.1 369.0 99.1 370.0 99.3 371.0 99.1 376.0 102.2 379.0 101.2 381.0 99.8 382.0 99.4 383.0 98.7 387.0 88.7 390.0 86.3 392.0 86.1 393.0 84.7 396.0 79.0 397.0 76.5 400.0 68.6 402.0 62.2 406.0 52.5 408.0 47.1 410.0 43.6 411.0 41.3 412.0 40.0 413.0 39.9 414.0 38.9 415.0 36.7 416.0 35.1 418.0 34.8 421.0 35.2 423.0 36.6 424.0 35.9 425.0 34.8 426.0 34.2 427.0 34.4 428.0 34.9 429.0 34.9 431.0 36.4 432.0 35.9 433.0 34.7 434.0 34.9 435.0 36.0 436.0 36.4 437.0 35.9 438.0 35.7 440.0 36.1 441.0 36.7 443.0 38.7 444.0 43.0 445.0 50.9 455.0 166.7 456.0 172.1 457.0 167.6 459.0 147.0 464.0 106.5 468.0 66.1 469.0 59.3 470.0 57.0 471.0 57.9 472.0 58.1 473.0 57.9 474.0 59.2 476.0 63.1 477.0 66.4 481.0 86.3 485.0 108.0 486.0 112.5 487.0 112.0 488.0 104.2 491.0 70.1 492.0 64.7 494.0 58.8 497.0 51.8 498.0 50.3 499.0 49.6 500.0 49.4 502.0 79.1 505.0 103.9 506.0 110.0 507.0 103.5 510.0 56.0 511.0 46.6 513.0 42.3 514.0 41.3 515.0 40.9 517.0 38.3 519.0 37.5 520.0 36.4 522.0 33.0" stroke="#ff1a1a"/>
<path d="M71.0 110.8 73.0 91.5 78.0 48.6 79.0 40.7 80.0 36.1 81.0 36.2 82.0 36.7 88.0 35.3 89.0 35.5 91.0 34.2 93.0 33.7 95.0 34.3 96.0 34.3 97.0 34.6 98.0 35.5 99.0 35.5 100.0 35.0 101.0 34.9 102.0 35.2 104.0 34.9 105.0 35.3 107.0 34.7 109.0 35.4 110.0 34.8 111.0 34.4 113.0 35.4 114.0 36.2 115.0 36.2 116.0 35.3 117.0 34.9 118.0 35.2 120.0 36.3 121.0 36.1 122.0 35.3 123.0 35.3 124.0 36.0 125.0 36.0 126.0 34.8 127.0 34.6 129.0 35.9 130.0 36.1 131.0 35.8 132.0 35.8 134.0 37.3 135.0 37.4 137.0 36.3 139.0 35.5 141.0 36.3 142.0 35.7 143.0 35.5 144.0 36.7 145.0 37.4 147.0 36.2 148.0 36.8 150.0 38.5 151.0 38.9 152.0 39.0 153.0 38.3 154.0 37.1 155.0 37.0 156.0 38.0 157.0 38.4 158.0 38.0 159.0 37.9 160.0 38.1 161.0 38.8 163.0 38.8 166.0 39.8 169.0 40.3 171.0 39.8 173.0 41.0 175.0 40.4 177.0 42.2 178.0 42.3 179.0 41.9 181.0 42.1 183.0 41.0 184.0 41.3 186.0 42.3 188.0 42.0 189.0 42.2 191.0 43.1 192.0 42.8 194.0 43.7 196.0 43.2 199.0 43.1 201.0 43.9 203.0 43.8 204.0 43.4 205.0 42.3 206.0 42.3 207.0 43.4 210.0 43.8 211.0 43.2 212.0 43.2 213.0 43.5 214.0 43.0 215.0 43.0 216.0 43.2 217.0 42.7 218.0 42.7 219.0 43.1 220.0 43.0 223.0 41.2 225.0 41.9 226.0 41.5 228.0 41.9 230.0 41.3 232.0 40.0 233.0 40.2 234.0 40.2 235.0 39.1 236.0 38.6 237.0 39.3 238.0 39.1 239.0 38.2 241.0 38.1 243.0 36.4 245.0 37.0 247.0 34.5 251.0 34.9 252.0 34.1 253.0 34.2 254.0 34.6 255.0 33.7 256.0 33.4 257.0 34.1 258.0 34.5 259.0 34.7 261.0 34.2 262.0 34.9 264.0 39.8 265.0 42.9 266.0 48.0 267.0 54.8 270.0 89.7 273.0 117.1 274.0 124.3 275.0 129.8 276.0 129.9 278.0 112.9 280.0 91.7 281.0 83.8 282.0 77.7 283.0 72.9 284.0 69.5 286.0 66.2 288.0 62.1 289.0 61.5 290.0 61.3 292.0 60.3 293.0 60.1 294.0 59.6 296.0 57.1 297.0 56.9 298.0 57.1 300.0 56.0 303.0 54.7 305.0 52.8 306.0 52.6 309.0 50.9 310.0 50.7 311.0 50.9 313.0 49.9 314.0 49.9 316.0 48.1 317.0 47.5 320.0 46.4 322.0 46.0 324.0 46.8 325.0 46.2 326.0 45.2 327.0 44.7 328.0 44.7 329.0 44.5 330.0 43.8 331.0 44.1 332.0 44.8 333.0 44.7 336.0 42.5 338.0 43.9 339.0 43.5 340.0 42.7 342.0 43.5 343.0 43.1 344.0 43.2 345.0 43.7 349.0 43.3 351.0 44.5 354.0 42.7 355.0 42.9 357.0 44.5 358.0 44.7 359.0 43.9 360.0 43.5 361.0 43.5 362.0 43.0 363.0 43.2 364.0 43.6 365.0 43.5 368.0 44.4 370.0 44.0 373.0 44.8 374.0 44.7 375.0 44.2 376.0 44.2 377.0 44.9 379.0 45.8 380.0 48.7 382.0 56.1 383.0 64.7 386.0 96.4 387.0 103.7 388.0 107.5 389.0 109.8 390.0 111.4 391.0 111.5 393.0 107.4 395.0 100.6 397.0 95.3 398.0 91.3 399.0 88.0 400.0 85.6 402.0 78.6 406.0 67.9 410.0 55.5 412.0 50.4 413.0 47.2 414.0 44.8 418.0 37.1 420.0 35.5 421.0 33.9 422.0 33.4 423.0 34.1 424.0 34.5 425.0 34.2 427.0 34.9 429.0 34.8 430.0 35.3 432.0 35.2 433.0 35.5 434.0 35.4 436.0 36.2 437.0 36.1 438.0 35.6 439.0 35.4 441.0 36.3 444.0 37.2 447.0 40.4 449.0 43.1 450.0 44.6 451.0 46.7 453.0 49.1 455.0 52.7 456.0 53.2 458.0 51.1 460.0 48.4 463.0 47.0 464.0 46.2 465.0 44.8 467.0 43.6 469.0 41.2 470.0 40.4 471.0 40.6 472.0 41.7 475.0 49.2 476.0 50.0 477.0 50.5 478.0 51.7 479.0 52.5 481.0 52.2 482.0 53.0 485.0 56.1 488.0 62.4 489.0 63.1 490.0 61.3 493.0 47.8 494.0 45.5 495.0 44.5 497.0 43.1 498.0 42.6 499.0 42.7 500.0 42.4 501.0 41.8 502.0 43.6 505.0 55.7 506.0 60.4 509.0 77.2 510.0 75.8 513.0 46.3 514.0 40.3 516.0 39.2 518.0 36.0 519.0 35.3 521.0 34.7 522.0 33.6" stroke="#ff1a1a"/>
<path d="M71.0 129.5 76.0 77.1 79.0 48.8 80.0 41.3 81.0 38.1 82.0 37.4 83.0 36.4 84.0 36.1 85.0 36.6 86.0 37.6 87.0 37.6 88.0 36.4 89.0 35.8 90.0 36.5 91.0 36.8 92.0 36.1 93.0 35.6 94.0 36.4 95.0 36.7 96.0 36.0 97.0 36.3 98.0 37.5 99.0 38.4 101.0 38.6 103.0 40.8 104.0 40.4 105.0 40.9 106.0 43.2 107.0 43.7 108.0 42.8 109.0 43.2 112.0 45.5 114.0 46.3 116.0 48.4 117.0 49.1 118.0 49.3 119.0 49.0 121.0 48.8 122.0 49.0 123.0 49.8 125.0 50.7 127.0 52.0 128.0 52.2 130.0 52.3 132.0 53.3 133.0 52.9 135.0 54.2 136.0 54.4 137.0 55.1 138.0 55.3 139.0 54.7 140.0 55.1 141.0 56.1 143.0 55.7 146.0 56.8 148.0 56.5 150.0 58.2 151.0 58.6 155.0 58.9 157.0 59.4 158.0 59.4 159.0 60.5 160.0 62.5 161.0 62.7 162.0 61.5 163.0 61.0 164.0 61.6 165.0 62.6 166.0 63.2 167.0 63.0 168.0 62.6 170.0 64.4 171.0 64.3 172.0 63.9 173.0 63.9 174.0 64.6 176.0 68.8 177.0 71.5 178.0 69.8 180.0 64.7 181.0 63.2 182.0 62.1 184.0 60.9 185.0 61.0 186.0 60.9 189.0 59.6 191.0 60.1 192.0 59.3 194.0 58.7 195.0 58.6 196.0 59.0 197.0 58.8 198.0 58.2 199.0 58.3 200.0 58.7 201.0 58.6 202.0 57.6 203.0 57.7 204.0 58.9 205.0 59.1 207.0 57.0 209.0 55.9 210.0 54.8 211.0 54.7 212.0 55.1 214.0 53.9 215.0 53.9 216.0 53.5 217.0 52.6 219.0 52.3 220.0 50.8 221.0 49.8 223.0 49.4 224.0 48.8 226.0 46.0 227.0 45.1 229.0 42.6 230.0 43.2 231.0 43.2 232.0 42.0 233.0 41.6 235.0 40.0 236.0 39.8 237.0 39.0 239.0 36.8 241.0 36.2 242.0 36.1 243.0 36.6 244.0 36.4 245.0 35.5 248.0 33.7 249.0 33.5 250.0 33.5 251.0 34.3 252.0 34.7 253.0 33.6 254.0 33.5 255.0 34.6 256.0 34.7 258.0 34.1 259.0 33.5 260.0 33.2 262.0 34.8 263.0 36.4 264.0 39.0 265.0 42.5 266.0 47.9 267.0 55.1 270.0 97.8 272.0 122.8 274.0 141.4 275.0 147.9 276.0 147.5 277.0 138.8 278.0 127.7 280.0 100.5 282.0 85.2 283.0 80.0 284.0 76.6 288.0 68.2 289.0 67.0 292.0 64.8 293.0 63.8 294.0 63.4 295.0 63.7 297.0 63.0 298.0 63.1 300.0 61.0 302.0 60.3 304.0 60.5 306.0 58.3 307.0 58.3 308.0 58.7 311.0 58.0 312.0 57.5 315.0 57.0 316.0 57.0 318.0 55.7 319.0 56.0 320.0 56.0 321.0 55.5 323.0 56.4 325.0 55.9 326.0 56.2 327.0 55.8 328.0 54.6 329.0 54.6 330.0 55.1 332.0 54.9 333.0 54.6 334.0 53.9 335.0 54.0 336.0 54.9 337.0 55.3 338.0 55.2 340.0 52.6 342.0 53.8 343.0 53.8 344.0 54.7 345.0 54.9 346.0 54.4 348.0 54.9 350.0 54.1 351.0 54.7 353.0 57.6 355.0 59.3 356.0 59.8 357.0 59.9 358.0 59.8 359.0 60.2 361.0 60.7 364.0 64.6 365.0 66.3 366.0 67.1 367.0 67.5 369.0 70.3 370.0 71.2 371.0 71.7 372.0 73.1 375.0 83.1 376.0 87.4 377.0 90.7 378.0 91.8 379.0 91.8 380.0 92.5 383.0 96.4 384.0 97.2 386.0 99.5 389.0 98.1 390.0 97.7 391.0 97.6 392.0 95.3 395.0 84.1 396.0 81.4 397.0 79.4 401.0 69.0 403.0 62.9 405.0 57.8 407.0 51.3 408.0 49.1 409.0 48.1 410.0 46.4 412.0 39.7 413.0 37.6 416.0 35.2 417.0 34.7 418.0 35.0 419.0 35.8 420.0 35.5 421.0 34.4 422.0 34.0 424.0 36.1 425.0 36.2 427.0 35.2 429.0 35.5 430.0 34.7 431.0 34.9 432.0 35.7 433.0 35.7 435.0 34.8 436.0 34.9 437.0 35.4 438.0 35.3 439.0 35.6 440.0 36.7 441.0 37.3 442.0 37.2 443.0 37.8 444.0 43.0 445.0 52.4 447.0 77.8 448.0 88.2 454.0 145.3 455.0 149.6 456.0 145.4 458.0 128.0 462.0 100.3 467.0 61.4 468.0 55.6 469.0 53.7 471.0 52.2 472.0 52.6 473.0 53.4 474.0 53.2 475.0 52.5 476.0 52.4 477.0 53.0 480.0 55.4 482.0 57.6 484.0 57.8 485.0 59.0 489.0 67.2 490.0 66.9 491.0 62.5 493.0 50.4 494.0 47.3 495.0 45.1 496.0 44.1 497.0 43.7 498.0 42.5 499.0 41.7 500.0 42.2 502.0 42.2 506.0 45.3 507.0 45.3 509.0 40.0 510.0 36.1 511.0 34.4 512.0 34.5 514.0 33.8 516.0 34.5 517.0 34.4 518.0 34.6 519.0 35.2 520.0 35.2 522.0 33.4" stroke="#ff1a1a"/>
<path d="M71.0 48.3 72.0 37.4 73.0 36.8 74.0 35.9 75.0 35.3 77.0 36.0 78.0 35.9 80.0 36.3 81.0 36.1 83.0 35.2 84.0 35.5 85.0 36.5 86.0 37.1 87.0 36.9 89.0 35.7 91.0 36.6 92.0 35.6 93.0 35.3 95.0 37.1 96.0 36.9 97.0 36.5 98.0 36.6 99.0 37.2 101.0 36.7 102.0 37.1 106.0 36.8 107.0 37.2 109.0 37.0 110.0 37.5 111.0 38.5 112.0 39.0 113.0 38.6 114.0 38.6 115.0 39.3 116.0 39.7 117.0 39.4 119.0 39.3 120.0 38.9 121.0 39.6 122.0 40.9 123.0 40.6 124.0 39.6 125.0 39.8 127.0 41.2 129.0 41.9 130.0 42.7 131.0 42.9 132.0 42.6 133.0 42.6 135.0 43.0 137.0 42.2 138.0 42.4 139.0 42.2 140.0 42.7 141.0 43.5 142.0 43.8 144.0 44.0 146.0 45.1 148.0 45.2 149.0 44.9 150.0 45.3 151.0 46.5 156.0 49.5 157.0 49.8 158.0 49.5 159.0 48.6 160.0 48.7 163.0 51.6 164.0 51.9 166.0 53.3 167.0 53.7 169.0 53.8 170.0 54.4 172.0 54.2 173.0 54.6 179.0 58.9 180.0 59.1 182.0 58.3 183.0 58.6 185.0 60.3 186.0 60.7 188.0 60.8 190.0 61.7 192.0 61.3 193.0 62.1 194.0 62.5 195.0 62.3 197.0 62.9 198.0 62.8 199.0 63.2 200.0 62.9 201.0 62.1 203.0 63.0 204.0 62.8 205.0 63.0 206.0 62.8 208.0 61.3 209.0 61.0 212.0 61.7 213.0 62.1 214.0 61.9 215.0 60.8 216.0 60.6 217.0 61.1 218.0 60.7 219.0 59.7 220.0 59.0 222.0 59.0 223.0 58.3 224.0 58.1 225.0 58.1 227.0 56.8 228.0 56.7 230.0 57.5 232.0 55.7 235.0 54.1 236.0 54.1 237.0 54.4 238.0 54.4 239.0 53.8 241.0 51.3 242.0 51.2 243.0 50.7 247.0 47.2 248.0 46.8 251.0 47.0 252.0 48.1 253.0 48.5 254.0 48.0 255.0 48.1 256.0 48.4 257.0 49.2 259.0 51.4 261.0 51.9 262.0 53.1 264.0 56.8 265.0 60.1 266.0 65.1 267.0 71.9 268.0 90.0 270.0 140.2 272.0 182.0 274.0 207.8 275.0 216.7 276.0 216.9 278.0 190.6 280.0 156.2 282.0 136.3 283.0 128.2 284.0 122.3 285.0 120.1 286.0 118.8 289.0 111.5 290.0 110.6 291.0 110.2 296.0 105.6 297.0 105.4 299.0 103.5 300.0 103.1 302.0 100.7 304.0 99.5 306.0 99.7 307.0 98.9 308.0 97.5 309.0 96.5 312.0 94.9 313.0 94.0 317.0 92.3 318.0 91.1 319.0 89.3 320.0 89.2 321.0 90.0 322.0 90.5 323.0 90.7 324.0 90.1 325.0 89.2 327.0 88.7 329.0 87.8 330.0 87.6 333.0 88.0 334.0 87.4 335.0 87.0 336.0 87.4 338.0 86.7 339.0 86.6 340.0 85.9 341.0 85.8 342.0 86.3 343.0 85.9 345.0 86.1 346.0 85.7 347.0 85.8 349.0 86.7 350.0 87.4 351.0 87.9 353.0 86.1 355.0 87.8 357.0 87.3 359.0 88.0 362.0 88.4 363.0 89.2 364.0 89.6 366.0 88.2 367.0 88.6 368.0 89.7 369.0 90.1 370.0 89.6 372.0 90.6 373.0 89.9 374.0 89.8 375.0 91.2 378.0 93.3 379.0 98.9 380.0 110.3 384.0 172.5 385.0 184.9 386.0 192.3 387.0 196.6 388.0 198.8 389.0 198.7 391.0 192.6 393.0 177.9 394.0 172.2 399.0 147.8 402.0 136.7 403.0 131.7 405.0 124.1 407.0 114.9 409.0 107.1 417.0 68.5 420.0 56.8 421.0 53.7 427.0 36.7 428.0 35.0 429.0 35.1 430.0 35.8 431.0 36.1 432.0 36.1 433.0 35.3 434.0 34.3 435.0 34.3 436.0 35.1 437.0 35.4 438.0 35.0 440.0 36.8 442.0 35.8 443.0 36.7 444.0 40.8 446.0 52.9 450.0 82.3 455.0 123.0 456.0 126.4 457.0 123.8 461.0 99.7 465.0 78.8 468.0 57.7 469.0 52.7 470.0 49.9 471.0 50.2 472.0 51.1 475.0 52.6 476.0 52.4 478.0 51.0 479.0 51.1 480.0 51.1 481.0 50.3 482.0 50.1 483.0 49.5 487.0 43.5 488.0 43.3 489.0 42.4 490.0 40.6 492.0 37.9 493.0 37.3 494.0 37.4 495.0 36.6 496.0 36.2 498.0 37.8 499.0 37.9 501.0 36.9 502.0 37.5 504.0 38.9 506.0 41.1 507.0 42.5 508.0 40.3 509.0 36.2 510.0 33.8 511.0 34.1 512.0 34.1 515.0 33.7 516.0 33.8 517.0 34.4 518.0 34.2 519.0 33.7 521.0 34.4 522.0 33.7" stroke="#ff1a1a"/>
<path d="M71.0 92.7 74.0 63.2 76.0 45.1 77.0 38.3 78.0 37.0 79.0 36.9 81.0 35.8 83.0 36.7 85.0 35.4 90.0 34.8 91.0 35.3 92.0 35.3 93.0 34.8 94.0 34.8 96.0 35.2 98.0 35.9 100.0 35.3 102.0 35.6 103.0 35.3 104.0 35.4 105.0 36.2 106.0 36.4 108.0 35.5 110.0 36.6 111.0 36.6 113.0 37.3 114.0 37.1 115.0 36.7 116.0 36.8 119.0 38.3 120.0 38.1 122.0 38.6 123.0 38.0 125.0 38.6 126.0 37.9 128.0 38.4 129.0 38.0 130.0 38.1 131.0 38.7 132.0 38.9 133.0 38.8 134.0 38.4 135.0 38.2 136.0 39.1 137.0 39.5 139.0 39.7 140.0 38.9 141.0 38.5 143.0 40.6 144.0 40.3 145.0 39.7 146.0 39.9 147.0 40.8 148.0 40.9 149.0 40.1 150.0 39.7 152.0 40.8 153.0 40.8 155.0 41.5 157.0 40.2 158.0 41.1 159.0 41.5 160.0 40.8 161.0 40.7 162.0 41.5 163.0 41.9 164.0 41.8 165.0 42.2 166.0 43.0 167.0 43.3 171.0 41.4 172.0 41.9 173.0 42.2 174.0 42.0 177.0 46.7 178.0 45.5 179.0 43.6 180.0 42.6 181.0 42.8 182.0 42.3 183.0 41.5 184.0 41.5 185.0 42.0 186.0 41.7 187.0 40.9 188.0 41.0 191.0 42.5 192.0 42.4 194.0 40.1 195.0 40.3 196.0 41.2 197.0 41.6 198.0 41.1 199.0 40.2 200.0 39.8 201.0 40.4 202.0 40.6 203.0 39.8 205.0 39.8 207.0 38.7 208.0 38.9 209.0 39.9 210.0 39.9 211.0 39.0 212.0 39.4 213.0 40.0 215.0 38.4 216.0 38.5 217.0 39.4 218.0 40.0 219.0 39.4 220.0 38.4 221.0 38.1 222.0 38.3 223.0 37.8 224.0 37.6 225.0 38.1 226.0 38.2 227.0 37.7 228.0 36.7 229.0 36.6 230.0 37.2 231.0 37.4 232.0 37.0 233.0 36.1 234.0 36.5 235.0 37.4 237.0 35.2 239.0 37.7 240.0 37.4 242.0 35.2 243.0 35.1 244.0 35.5 246.0 35.3 248.0 35.3 250.0 36.3 253.0 35.3 254.0 35.6 255.0 36.4 256.0 36.2 257.0 35.6 258.0 35.7 259.0 36.3 260.0 36.2 261.0 35.6 262.0 36.1 263.0 38.3 265.0 44.4 266.0 49.5 267.0 56.3 268.0 69.0 270.0 102.2 272.0 130.1 274.0 149.4 275.0 155.9 276.0 155.6 277.0 148.1 278.0 138.4 280.0 112.7 281.0 103.4 282.0 96.4 283.0 91.8 284.0 88.3 285.0 85.5 286.0 83.4 289.0 79.5 291.0 77.6 293.0 77.4 294.0 76.4 296.0 74.0 297.0 73.7 298.0 73.1 299.0 71.5 302.0 69.1 303.0 68.9 304.0 69.1 305.0 67.6 306.0 65.5 307.0 64.7 309.0 64.2 310.0 63.7 313.0 61.3 314.0 60.0 315.0 59.8 316.0 60.0 317.0 58.7 318.0 56.8 319.0 56.3 320.0 56.3 323.0 53.8 324.0 53.3 326.0 52.8 328.0 51.7 329.0 51.8 331.0 51.4 333.0 50.0 335.0 50.1 336.0 49.7 337.0 48.7 338.0 48.4 339.0 48.9 340.0 48.9 343.0 47.6 344.0 47.7 347.0 49.3 348.0 49.1 349.0 49.5 350.0 50.6 351.0 50.5 352.0 50.8 353.0 51.9 355.0 52.0 356.0 52.5 360.0 56.0 361.0 56.1 362.0 56.9 363.0 58.3 365.0 59.1 366.0 60.2 367.0 62.0 369.0 63.9 370.0 65.5 371.0 66.5 372.0 66.9 373.0 69.0 374.0 72.4 379.0 87.1 380.0 90.3 381.0 94.9 382.0 100.4 383.0 111.0 386.0 186.4 387.0 208.6 388.0 224.3 389.0 234.1 390.0 238.0 391.0 240.3 392.0 240.7 393.0 237.3 394.0 230.5 396.0 211.4 401.0 183.8 405.0 166.6 413.0 136.9 418.0 112.9 420.0 101.8 422.0 92.6 424.0 80.7 425.0 76.1 428.0 65.2 431.0 52.8 434.0 43.6 435.0 41.5 436.0 40.0 438.0 35.5 439.0 34.7 440.0 34.4 441.0 35.4 442.0 37.2 443.0 38.3 444.0 40.3 448.0 51.0 450.0 55.3 452.0 61.8 454.0 70.2 455.0 72.7 456.0 72.3 457.0 71.0 458.0 68.7 460.0 62.6 463.0 56.1 465.0 52.5 468.0 44.1 469.0 42.8 470.0 42.6 472.0 41.2 473.0 41.8 474.0 41.6 475.0 40.3 476.0 40.2 477.0 44.1 478.0 51.1 486.0 119.4 487.0 127.2 488.0 133.1 489.0 130.0 490.0 120.7 493.0 87.0 494.0 82.3 497.0 72.5 498.0 70.5 499.0 69.0 500.0 68.5 501.0 68.2 502.0 100.1 503.0 110.0 505.0 123.3 507.0 141.4 508.0 143.8 509.0 133.3 513.0 65.3 514.0 54.2 515.0 49.7 517.0 44.1 519.0 39.6 521.0 36.2 522.0 33.6" stroke="#ff1a1a"/>
<path d="M71.0 202.7 76.0 154.9 83.0 97.1 88.0 52.8 89.0 46.0 90.0 41.3 91.0 38.2 92.0 37.0 93.0 37.4 94.0 37.5 96.0 37.2 98.0 38.3 99.0 38.3 101.0 36.2 102.0 36.0 104.0 36.8 106.0 39.1 107.0 39.5 108.0 40.3 111.0 43.3 113.0 47.0 114.0 48.0 119.0 50.9 120.0 52.3 121.0 52.7 122.0 52.4 123.0 53.3 125.0 55.6 126.0 56.2 127.0 55.9 128.0 56.0 130.0 56.5 132.0 57.4 134.0 58.0 135.0 59.6 136.0 60.6 138.0 59.5 139.0 60.2 141.0 60.2 142.0 61.0 144.0 61.7 145.0 62.5 147.0 63.2 148.0 63.9 149.0 64.0 150.0 63.6 152.0 64.3 153.0 64.2 154.0 64.7 155.0 65.4 156.0 65.3 157.0 64.8 158.0 65.0 159.0 66.4 160.0 67.0 162.0 66.3 163.0 66.5 164.0 67.2 165.0 67.2 166.0 66.8 167.0 66.9 169.0 67.5 171.0 68.4 173.0 69.0 174.0 69.2 175.0 70.6 177.0 77.8 178.0 78.5 179.0 73.6 180.0 70.2 181.0 68.5 182.0 68.7 184.0 67.1 185.0 67.3 186.0 66.4 187.0 65.1 188.0 65.0 189.0 65.1 191.0 64.2 192.0 63.3 193.0 63.0 195.0 64.4 196.0 63.7 197.0 62.7 200.0 61.3 202.0 61.1 203.0 61.7 204.0 61.9 207.0 59.1 208.0 59.0 209.0 59.8 210.0 60.1 211.0 59.7 213.0 59.5 215.0 58.0 217.0 57.2 219.0 57.9 221.0 56.9 222.0 57.0 224.0 55.4 225.0 55.6 226.0 55.3 227.0 54.6 229.0 54.9 230.0 54.5 231.0 53.5 232.0 53.1 234.0 53.6 236.0 52.7 237.0 52.8 239.0 52.3 240.0 52.8 241.0 52.2 242.0 50.9 243.0 50.7 245.0 51.6 246.0 51.6 247.0 51.1 249.0 51.9 251.0 51.2 253.0 51.6 255.0 53.6 256.0 53.8 257.0 54.5 258.0 55.8 260.0 57.1 262.0 59.7 263.0 60.5 264.0 62.1 265.0 65.1 266.0 70.5 267.0 78.1 268.0 93.6 270.0 133.8 272.0 169.1 274.0 192.6 275.0 199.8 276.0 198.6 277.0 184.5 278.0 166.9 280.0 122.1 281.0 107.1 283.0 85.8 284.0 79.8 288.0 66.3 289.0 64.3 290.0 63.9 291.0 63.1 293.0 60.8 296.0 58.3 298.0 55.7 299.0 54.7 300.0 54.3 301.0 54.2 302.0 53.8 306.0 50.5 307.0 50.1 309.0 49.9 310.0 49.4 312.0 47.6 316.0 45.1 324.0 43.0 326.0 41.2 327.0 40.9 329.0 40.5 330.0 40.5 331.0 40.2 332.0 40.3 333.0 41.1 335.0 40.0 336.0 40.7 337.0 40.5 338.0 39.3 339.0 39.1 343.0 40.0 344.0 40.0 345.0 39.5 346.0 39.4 347.0 40.0 348.0 40.0 349.0 39.5 350.0 39.4 351.0 40.1 352.0 40.5 353.0 40.3 354.0 40.6 356.0 40.3 357.0 40.4 358.0 40.1 360.0 41.8 361.0 41.5 362.0 41.8 364.0 41.8 365.0 42.3 367.0 42.0 368.0 42.2 369.0 42.9 370.0 42.8 371.0 42.5 373.0 43.1 374.0 43.1 376.0 43.9 377.0 43.8 378.0 44.4 379.0 49.6 380.0 58.5 381.0 72.3 383.0 114.3 385.0 150.2 386.0 160.8 387.0 167.5 388.0 169.6 389.0 170.2 390.0 169.5 391.0 167.2 393.0 155.3 398.0 131.5 404.0 111.5 407.0 99.5 410.0 89.4 416.0 63.2 419.0 53.2 422.0 44.1 423.0 41.7 424.0 40.3 425.0 39.3 427.0 34.8 429.0 34.7 430.0 34.3 431.0 34.6 433.0 35.9 435.0 35.4 436.0 35.7 438.0 35.2 439.0 35.6 440.0 35.5 441.0 35.8 443.0 38.5 444.0 44.0 445.0 54.7 446.0 68.2 454.0 181.4 455.0 193.1 456.0 193.6 457.0 185.3 459.0 161.9 465.0 104.5 468.0 73.0 471.0 50.3 473.0 38.2 474.0 33.7 475.0 32.4 476.0 34.2 477.0 37.8 478.0 43.2 481.0 60.9 482.0 67.8 486.0 99.7 487.0 103.5 488.0 100.2 490.0 82.9 491.0 72.0 492.0 64.3 493.0 60.6 495.0 55.1 496.0 53.6 497.0 53.3 498.0 52.3 499.0 51.8 500.0 51.8 501.0 54.5 507.0 100.8 508.0 107.4 509.0 105.4 513.0 50.8 514.0 45.1 517.0 39.8 518.0 38.6 519.0 37.9 521.0 35.8 522.0 34.1" stroke="#ff1a1a"/>
<path d="M71.0 284.2 73.0 276.9 77.0 251.3 83.0 202.6 87.0 164.1 89.0 146.7 96.0 75.4 98.0 57.0 99.0 49.9 100.0 44.7 101.0 41.2 102.0 38.6 103.0 36.7 104.0 35.6 105.0 35.0 106.0 35.8 107.0 36.2 108.0 35.0 110.0 33.6 111.0 33.8 112.0 34.5 114.0 32.8 116.0 33.2 117.0 33.6 118.0 34.5 120.0 35.1 121.0 34.7 122.0 33.8 124.0 34.4 125.0 34.3 126.0 34.5 128.0 33.6 131.0 33.7 132.0 34.1 134.0 33.7 135.0 33.9 137.0 35.6 139.0 34.4 140.0 34.6 142.0 33.5 145.0 35.3 148.0 36.0 150.0 35.2 152.0 36.2 153.0 36.1 154.0 35.6 156.0 36.0 157.0 35.7 158.0 35.9 159.0 36.7 160.0 36.7 161.0 36.3 162.0 36.6 164.0 35.8 165.0 37.0 166.0 37.2 167.0 36.4 168.0 36.4 170.0 38.5 172.0 38.6 173.0 38.3 174.0 37.7 175.0 37.8 177.0 37.8 180.0 39.4 181.0 39.2 182.0 38.7 184.0 38.7 185.0 38.5 186.0 38.6 187.0 39.2 189.0 38.8 190.0 39.3 191.0 39.5 192.0 38.9 193.0 39.0 194.0 39.9 195.0 40.1 196.0 39.4 197.0 39.2 198.0 40.0 199.0 40.1 200.0 38.9 201.0 38.2 203.0 40.2 204.0 40.0 205.0 39.4 206.0 40.0 207.0 41.0 208.0 41.1 209.0 40.8 211.0 39.5 212.0 39.4 215.0 39.7 217.0 38.9 219.0 39.8 220.0 39.7 222.0 37.9 226.0 37.8 228.0 37.5 230.0 37.9 231.0 37.3 232.0 37.3 237.0 38.7 239.0 38.6 241.0 38.2 243.0 39.6 244.0 39.5 245.0 39.0 246.0 38.9 247.0 39.3 248.0 39.2 249.0 38.9 250.0 39.0 251.0 39.9 252.0 41.1 253.0 41.2 254.0 40.8 255.0 40.9 256.0 40.8 257.0 40.1 258.0 40.0 261.0 43.6 263.0 44.2 264.0 46.6 265.0 50.2 266.0 54.6 267.0 61.0 268.0 73.8 270.0 105.7 272.0 133.6 274.0 152.9 275.0 159.2 276.0 157.9 278.0 134.5 280.0 102.3 281.0 91.7 283.0 75.4 284.0 70.4 286.0 66.2 288.0 61.1 289.0 59.3 290.0 58.3 291.0 58.3 292.0 58.5 293.0 58.3 294.0 57.4 295.0 57.3 296.0 57.7 297.0 57.8 299.0 57.7 300.0 57.5 302.0 56.4 303.0 56.5 304.0 57.1 305.0 56.8 306.0 55.8 307.0 55.6 309.0 56.8 310.0 56.6 313.0 55.1 314.0 54.8 316.0 55.9 318.0 55.4 319.0 54.7 320.0 54.7 321.0 55.7 325.0 55.1 327.0 56.6 328.0 56.2 331.0 54.0 332.0 54.0 333.0 54.5 334.0 54.7 335.0 55.3 336.0 56.4 337.0 55.8 338.0 54.5 339.0 54.1 343.0 54.4 345.0 55.7 346.0 55.9 347.0 55.9 348.0 55.5 349.0 54.8 351.0 55.7 352.0 55.5 353.0 56.2 354.0 57.4 355.0 57.5 356.0 57.3 357.0 57.5 358.0 58.2 359.0 59.5 360.0 60.1 362.0 59.5 363.0 59.7 364.0 60.1 365.0 61.2 366.0 63.4 367.0 64.6 370.0 64.7 371.0 65.2 373.0 68.3 375.0 70.1 376.0 71.6 378.0 77.8 379.0 82.0 380.0 89.8 381.0 102.2 385.0 185.3 386.0 199.3 387.0 208.0 388.0 212.4 389.0 215.0 390.0 214.4 391.0 210.3 392.0 204.5 394.0 188.6 398.0 167.2 411.0 112.9 416.0 89.1 418.0 77.3 419.0 72.7 425.0 49.3 426.0 46.6 429.0 41.3 431.0 36.1 432.0 35.1 433.0 35.0 434.0 35.0 436.0 36.4 437.0 36.1 438.0 35.4 439.0 35.2 441.0 35.9 442.0 36.5 443.0 38.0 444.0 42.9 445.0 50.8 446.0 60.8 455.0 171.0 456.0 178.1 457.0 174.6 461.0 136.3 465.0 101.1 468.0 70.6 469.0 62.4 470.0 58.6 472.0 52.6 473.0 50.8 474.0 50.6 476.0 52.1 478.0 51.8 480.0 53.8 481.0 54.2 483.0 55.7 484.0 56.8 485.0 58.7 489.0 69.2 490.0 71.0 491.0 70.6 492.0 68.1 494.0 62.0 495.0 61.5 497.0 59.6 498.0 60.2 499.0 59.6 500.0 58.3 501.0 62.4 502.0 73.9 506.0 93.0 507.0 91.3 508.0 82.1 511.0 45.1 512.0 41.6 514.0 40.4 515.0 40.1 516.0 39.6 518.0 37.9 520.0 36.5 521.0 36.1 522.0 34.8" stroke="#ff1a1a"/>
<path d="M71.0 77.1 74.0 62.8 77.0 46.5 78.0 41.7 79.0 38.1 80.0 37.2 81.0 37.3 82.0 36.3 83.0 35.8 84.0 35.8 85.0 34.8 86.0 34.3 87.0 34.6 88.0 34.5 90.0 33.6 92.0 33.0 93.0 33.2 94.0 33.9 95.0 33.9 96.0 33.4 98.0 33.9 99.0 33.6 101.0 33.5 102.0 33.0 103.0 33.2 104.0 34.8 105.0 35.2 106.0 34.3 107.0 33.8 108.0 32.9 109.0 32.5 110.0 33.9 111.0 34.9 113.0 35.0 117.0 37.1 119.0 36.5 120.0 36.9 121.0 38.2 123.0 42.2 125.0 45.6 128.0 52.3 129.0 54.9 131.0 61.7 132.0 63.0 133.0 63.9 134.0 65.5 135.0 67.5 137.0 70.9 139.0 75.8 141.0 77.9 144.0 83.5 147.0 90.4 149.0 92.8 150.0 94.9 151.0 96.5 153.0 98.6 154.0 99.3 157.0 102.1 159.0 103.0 161.0 104.7 163.0 105.8 165.0 106.4 167.0 105.5 168.0 105.8 170.0 108.5 172.0 107.5 174.0 109.0 175.0 109.3 176.0 110.0 177.0 111.4 178.0 112.0 179.0 111.9 180.0 112.0 181.0 112.4 182.0 113.5 183.0 114.0 184.0 113.2 185.0 113.6 186.0 114.4 187.0 114.6 188.0 115.3 189.0 115.3 190.0 115.0 191.0 115.4 193.0 116.8 194.0 117.2 196.0 117.2 198.0 116.1 199.0 116.5 200.0 116.3 202.0 113.1 203.0 112.5 204.0 111.1 205.0 109.1 206.0 107.7 208.0 105.6 209.0 103.9 210.0 101.5 211.0 98.2 212.0 96.5 213.0 96.0 214.0 93.8 215.0 90.6 216.0 88.4 217.0 86.8 219.0 85.0 221.0 82.1 223.0 81.0 224.0 79.7 225.0 78.1 227.0 74.0 230.0 70.1 235.0 60.2 236.0 58.7 237.0 57.8 239.0 53.4 241.0 50.1 244.0 43.0 245.0 41.7 246.0 40.9 248.0 38.2 250.0 37.2 252.0 35.8 254.0 37.1 256.0 37.0 257.0 37.6 258.0 37.7 259.0 37.7 261.0 36.4 262.0 36.8 263.0 40.7 264.0 46.9 266.0 56.2 267.0 62.2 272.0 118.9 274.0 134.5 275.0 139.7 276.0 139.1 277.0 130.6 278.0 120.2 280.0 92.6 281.0 83.2 282.0 75.5 283.0 69.6 284.0 65.9 287.0 60.3 291.0 55.2 292.0 55.0 294.0 55.1 295.0 55.5 296.0 54.9 297.0 53.9 298.0 53.8 300.0 52.3 301.0 53.0 302.0 53.9 303.0 54.1 305.0 52.0 306.0 52.2 307.0 51.7 308.0 50.9 310.0 52.0 312.0 52.2 314.0 50.6 315.0 50.6 317.0 51.8 319.0 50.3 320.0 51.5 321.0 52.2 322.0 51.9 324.0 52.4 325.0 52.3 326.0 51.9 328.0 50.5 329.0 50.3 330.0 50.4 332.0 52.3 333.0 52.2 334.0 51.7 335.0 50.8 336.0 50.5 337.0 50.8 338.0 50.7 339.0 50.0 340.0 50.0 341.0 50.4 343.0 50.4 344.0 51.0 345.0 51.9 347.0 51.2 349.0 53.2 352.0 51.8 353.0 52.0 355.0 54.1 356.0 54.2 357.0 53.6 358.0 53.6 360.0 54.3 361.0 55.5 362.0 56.3 363.0 56.6 365.0 58.9 366.0 59.4 368.0 59.0 369.0 59.3 371.0 63.5 372.0 64.4 375.0 66.3 376.0 68.0 378.0 74.0 379.0 77.7 380.0 83.1 381.0 90.8 382.0 108.6 384.0 161.3 386.0 206.9 387.0 220.4 388.0 228.7 389.0 230.6 390.0 232.1 391.0 231.2 392.0 227.3 395.0 201.8 399.0 179.9 402.0 167.6 404.0 158.1 405.0 154.9 407.0 146.4 409.0 139.1 415.0 113.7 422.0 77.8 424.0 70.5 428.0 54.2 431.0 46.0 436.0 35.3 437.0 34.6 439.0 35.0 440.0 35.5 441.0 36.5 442.0 37.1 443.0 38.3 444.0 45.8 445.0 58.2 448.0 104.5 454.0 187.6 455.0 195.7 456.0 192.1 458.0 168.4 464.0 110.4 467.0 74.7 468.0 65.7 469.0 60.9 471.0 59.9 472.0 59.1 473.0 59.0 475.0 57.7 476.0 57.9 477.0 58.6 478.0 59.7 479.0 59.9 480.0 59.8 482.0 60.5 484.0 62.0 485.0 62.0 486.0 62.7 489.0 66.0 490.0 64.9 491.0 61.0 493.0 50.2 494.0 49.1 495.0 49.1 496.0 48.8 498.0 46.9 499.0 46.5 500.0 46.8 501.0 46.9 502.0 46.3 504.0 44.2 506.0 44.1 507.0 43.2 509.0 36.8 510.0 34.8 511.0 34.8 513.0 34.0 514.0 33.8 516.0 34.6 517.0 34.0 518.0 33.6 519.0 34.2 520.0 34.3 522.0 34.0" stroke="#ff1a1a"/>
<path d="M71.0 159.9 73.0 143.3 77.0 114.8 80.0 97.6 83.0 82.2 87.0 57.6 91.0 40.2 92.0 37.8 95.0 34.2 96.0 34.0 97.0 35.4 98.0 38.1 100.0 40.7 101.0 44.7 107.0 74.7 110.0 93.0 111.0 97.4 112.0 98.3 113.0 90.6 114.0 79.5 116.0 50.6 117.0 39.8 118.0 34.7 119.0 32.8 121.0 33.2 123.0 32.9 125.0 33.8 126.0 33.9 128.0 33.7 129.0 33.9 131.0 33.4 132.0 34.0 133.0 34.0 134.0 33.5 135.0 33.6 137.0 34.6 138.0 33.9 139.0 32.8 140.0 33.1 143.0 34.7 144.0 34.7 145.0 34.1 147.0 34.3 148.0 33.5 149.0 33.8 150.0 34.9 151.0 35.5 152.0 35.1 153.0 34.0 154.0 33.9 155.0 34.7 156.0 35.2 158.0 33.4 160.0 33.3 162.0 32.6 163.0 32.9 164.0 33.8 165.0 33.7 166.0 33.0 169.0 32.4 171.0 32.9 173.0 34.1 174.0 34.1 176.0 32.4 177.0 32.5 178.0 33.1 179.0 33.4 180.0 32.7 181.0 32.4 189.0 32.4 190.0 32.8 191.0 32.8 192.0 32.4 194.0 33.2 195.0 32.6 196.0 32.4 198.0 32.4 200.0 33.5 202.0 32.4 206.0 32.4 208.0 32.7 210.0 32.6 212.0 32.9 216.0 32.4 222.0 32.6 223.0 32.4 236.0 32.4 237.0 33.0 238.0 33.3 239.0 33.1 241.0 34.2 243.0 33.6 244.0 34.0 245.0 35.1 246.0 35.6 248.0 35.4 249.0 35.6 250.0 36.2 252.0 37.8 253.0 37.5 254.0 36.8 255.0 37.2 257.0 40.1 259.0 41.1 260.0 42.7 262.0 44.3 264.0 47.2 265.0 49.7 266.0 54.4 267.0 60.8 272.0 105.5 274.0 119.0 275.0 122.9 276.0 122.2 277.0 115.1 278.0 105.8 280.0 82.3 282.0 67.4 283.0 62.6 284.0 59.7 286.0 55.9 290.0 52.0 295.0 50.6 297.0 50.2 299.0 49.5 300.0 49.6 301.0 50.2 302.0 49.7 303.0 48.1 304.0 47.9 305.0 48.4 307.0 48.0 309.0 49.0 310.0 48.6 311.0 47.3 312.0 46.5 313.0 46.8 314.0 47.3 316.0 45.4 320.0 47.3 321.0 46.4 322.0 45.9 324.0 46.9 325.0 46.7 326.0 46.0 327.0 45.7 330.0 46.2 331.0 46.7 332.0 46.7 334.0 46.1 336.0 44.6 338.0 46.3 339.0 46.0 341.0 44.8 344.0 45.2 345.0 46.1 346.0 46.7 347.0 45.7 348.0 45.3 350.0 46.5 351.0 47.3 352.0 47.5 353.0 47.2 354.0 47.1 356.0 48.2 357.0 48.6 358.0 49.9 361.0 52.4 362.0 52.5 364.0 51.2 365.0 52.0 368.0 56.2 370.0 55.9 372.0 58.0 375.0 61.6 377.0 65.2 378.0 67.6 379.0 72.5 380.0 80.6 381.0 93.2 383.0 128.7 385.0 160.1 386.0 168.3 387.0 173.8 388.0 176.4 389.0 177.7 390.0 177.1 391.0 174.7 392.0 168.8 393.0 161.0 394.0 155.1 395.0 150.5 398.0 137.1 400.0 129.3 403.0 115.6 405.0 110.0 415.0 65.5 419.0 50.6 420.0 48.2 421.0 45.1 422.0 42.9 423.0 41.6 426.0 34.0 427.0 34.1 428.0 35.2 430.0 35.6 431.0 35.4 432.0 34.9 433.0 35.2 435.0 37.5 436.0 37.8 438.0 36.1 439.0 35.7 442.0 37.0 443.0 37.2 444.0 42.1 445.0 51.5 448.0 87.3 452.0 130.3 454.0 151.6 455.0 158.7 456.0 157.2 457.0 150.8 459.0 132.1 465.0 86.3 467.0 67.6 468.0 59.8 469.0 55.0 470.0 54.8 471.0 55.6 473.0 54.5 474.0 56.1 475.0 57.1 476.0 57.7 477.0 59.2 479.0 61.3 482.0 69.2 483.0 72.9 486.0 86.7 487.0 88.9 488.0 87.2 489.0 82.2 490.0 74.5 491.0 69.1 492.0 67.6 494.0 66.5 496.0 63.8 499.0 63.2 500.0 63.6 501.0 64.6 502.0 74.8 503.0 82.7 507.0 103.1 508.0 99.3 511.0 58.4 512.0 47.1 513.0 43.6 514.0 41.9 516.0 40.2 517.0 39.7 518.0 39.6 519.0 38.6 522.0 33.8" stroke="#ff1a1a"/>
<path d="M71.0 68.2 73.0 58.5 74.0 54.7 76.0 48.8 78.0 40.8 79.0 38.5 80.0 37.5 82.0 36.6 84.0 34.5 86.0 33.4 87.0 33.7 88.0 34.4 89.0 34.5 91.0 33.5 93.0 34.5 94.0 34.6 96.0 33.4 97.0 33.4 98.0 33.4 99.0 33.8 100.0 34.7 101.0 35.2 103.0 35.0 104.0 35.5 105.0 35.8 107.0 35.0 108.0 34.9 110.0 35.6 111.0 34.7 112.0 34.3 114.0 35.9 115.0 35.8 116.0 35.4 117.0 35.7 119.0 34.7 121.0 37.0 122.0 36.8 123.0 36.8 124.0 38.2 127.0 44.4 129.0 46.5 132.0 54.1 137.0 63.3 139.0 65.0 140.0 66.2 141.0 66.6 142.0 67.4 143.0 69.0 146.0 72.6 147.0 72.3 148.0 72.7 149.0 73.9 150.0 74.3 152.0 73.7 154.0 73.7 156.0 74.9 160.0 73.2 162.0 74.6 163.0 74.8 164.0 74.6 165.0 74.0 166.0 74.6 167.0 76.3 168.0 76.6 169.0 76.1 170.0 76.1 172.0 77.0 173.0 78.1 174.0 79.9 176.0 81.6 178.0 83.8 179.0 84.2 183.0 84.3 185.0 85.6 186.0 85.9 187.0 85.7 188.0 86.2 189.0 87.4 190.0 88.3 191.0 88.7 193.0 88.4 195.0 90.4 196.0 90.8 197.0 90.9 199.0 89.6 201.0 89.6 203.0 88.7 204.0 88.8 206.0 90.2 207.0 89.7 208.0 88.5 209.0 87.9 212.0 88.7 213.0 88.4 214.0 87.5 216.0 86.9 218.0 87.2 219.0 86.2 221.0 86.4 222.0 84.2 223.0 82.8 224.0 83.4 225.0 83.4 228.0 82.0 229.0 81.9 230.0 80.7 231.0 78.8 232.0 78.3 233.0 78.2 234.0 77.7 237.0 77.5 238.0 77.8 239.0 77.5 243.0 74.2 244.0 74.1 246.0 74.4 247.0 74.2 252.0 72.4 255.0 71.9 258.0 72.0 260.0 70.9 262.0 71.5 263.0 72.2 264.0 74.2 265.0 77.2 266.0 81.8 267.0 88.3 270.0 121.4 272.0 140.7 274.0 153.5 275.0 158.6 276.0 157.9 277.0 149.7 278.0 140.0 280.0 114.1 281.0 105.6 283.0 91.7 284.0 87.0 285.0 84.9 286.0 84.0 288.0 80.3 289.0 80.0 290.0 80.3 292.0 78.6 294.0 78.1 298.0 75.1 300.0 75.5 303.0 74.9 305.0 73.1 307.0 73.3 308.0 72.9 310.0 73.0 312.0 70.6 313.0 70.4 314.0 70.9 316.0 71.1 317.0 70.8 318.0 69.6 319.0 69.4 320.0 70.0 323.0 71.0 325.0 69.4 326.0 69.2 327.0 69.5 328.0 69.5 329.0 68.3 330.0 67.7 332.0 69.2 333.0 69.2 335.0 69.5 336.0 69.1 338.0 69.7 339.0 68.7 340.0 68.0 342.0 69.5 343.0 68.7 344.0 68.3 345.0 68.5 348.0 68.2 349.0 68.5 350.0 69.4 351.0 69.7 352.0 69.6 353.0 69.9 354.0 70.8 355.0 70.9 356.0 70.5 357.0 71.0 358.0 72.2 359.0 72.0 360.0 71.1 361.0 71.6 362.0 73.4 363.0 74.5 365.0 74.5 366.0 74.9 368.0 76.6 369.0 77.1 370.0 77.3 371.0 77.0 372.0 77.1 373.0 78.3 375.0 81.7 377.0 85.9 378.0 87.2 379.0 89.5 380.0 94.2 381.0 100.4 382.0 111.1 386.0 189.2 387.0 201.5 388.0 209.7 389.0 213.3 390.0 214.3 391.0 212.9 392.0 209.9 393.0 204.5 395.0 189.1 399.0 166.8 402.0 154.6 405.0 140.0 410.0 120.3 416.0 91.1 420.0 70.4 426.0 47.4 427.0 45.0 430.0 39.2 431.0 36.3 432.0 34.6 434.0 34.9 435.0 33.9 436.0 33.3 438.0 36.3 440.0 35.7 443.0 37.9 444.0 44.4 445.0 55.9 448.0 96.6 452.0 143.9 454.0 170.8 455.0 177.6 456.0 174.0 457.0 165.3 460.0 137.0 464.0 102.8 467.0 70.5 468.0 62.7 469.0 58.5 472.0 54.4 473.0 53.6 474.0 53.6 475.0 54.0 477.0 53.5 478.0 54.7 480.0 56.4 482.0 61.9 483.0 63.2 484.0 65.6 487.0 75.4 488.0 76.2 489.0 72.3 490.0 65.6 491.0 57.2 492.0 53.3 493.0 51.5 495.0 50.2 497.0 46.7 498.0 46.6 499.0 46.8 500.0 46.8 501.0 47.7 502.0 49.6 505.0 56.7 507.0 62.9 508.0 60.0 510.0 43.2 511.0 37.9 512.0 37.1 514.0 36.6 516.0 35.7 519.0 35.4 520.0 36.1 521.0 36.0 522.0 34.4" stroke="#ff1a1a"/>
<path d="M71.0 77.5 73.0 66.6 76.0 55.0 78.0 45.7 80.0 38.0 81.0 36.3 82.0 36.4 83.0 36.2 84.0 35.1 85.0 34.7 86.0 34.8 88.0 33.6 89.0 34.4 90.0 35.5 94.0 34.1 95.0 34.6 96.0 35.7 97.0 35.7 99.0 34.6 100.0 34.6 102.0 35.5 104.0 34.5 106.0 35.5 108.0 34.3 110.0 36.1 111.0 35.3 112.0 35.0 113.0 35.9 116.0 37.5 117.0 36.9 119.0 36.7 120.0 36.4 121.0 36.8 122.0 37.7 123.0 38.0 124.0 37.8 125.0 38.1 127.0 39.1 129.0 41.0 130.0 42.6 132.0 47.1 136.0 54.4 138.0 57.5 140.0 61.7 141.0 63.2 142.0 64.1 144.0 67.4 145.0 68.4 146.0 68.8 150.0 71.9 151.0 73.2 152.0 74.1 153.0 74.0 154.0 74.2 155.0 75.0 157.0 74.9 158.0 75.3 159.0 75.2 162.0 73.4 163.0 73.0 164.0 73.1 165.0 72.4 166.0 71.2 167.0 70.4 169.0 69.8 171.0 67.9 172.0 67.1 173.0 66.8 174.0 66.1 175.0 64.8 176.0 64.3 177.0 64.9 179.0 64.7 180.0 65.4 182.0 64.6 185.0 66.3 186.0 67.1 187.0 67.5 188.0 67.0 189.0 67.4 192.0 70.3 194.0 69.5 197.0 72.6 199.0 73.8 200.0 73.7 201.0 73.3 202.0 73.6 203.0 74.2 205.0 73.3 210.0 75.7 211.0 75.2 212.0 74.1 214.0 75.0 216.0 73.2 217.0 73.8 218.0 74.1 219.0 73.2 221.0 70.3 222.0 69.6 223.0 69.7 224.0 69.5 227.0 67.0 229.0 67.4 230.0 66.9 231.0 66.3 233.0 64.3 234.0 63.9 235.0 63.0 236.0 62.7 237.0 63.1 238.0 62.5 239.0 61.0 240.0 60.1 241.0 59.7 243.0 60.3 244.0 59.8 246.0 59.4 248.0 57.8 250.0 57.3 251.0 57.7 252.0 57.8 253.0 56.9 254.0 56.7 255.0 57.3 256.0 57.6 258.0 56.7 259.0 57.2 260.0 56.6 261.0 55.2 262.0 55.1 263.0 57.2 265.0 63.8 267.0 75.9 272.0 129.3 273.0 137.6 275.0 149.2 276.0 149.8 278.0 129.8 280.0 105.3 281.0 96.4 283.0 84.0 284.0 79.2 286.0 74.3 287.0 72.8 288.0 72.5 289.0 71.6 291.0 68.6 292.0 68.3 293.0 68.3 294.0 67.4 295.0 67.0 296.0 67.1 297.0 66.5 299.0 66.7 300.0 65.4 301.0 64.8 302.0 65.5 303.0 65.1 306.0 63.2 311.0 62.2 312.0 62.6 313.0 62.6 315.0 61.6 316.0 61.8 317.0 61.8 318.0 61.0 319.0 61.0 320.0 61.7 321.0 61.5 322.0 60.9 323.0 60.9 324.0 61.7 325.0 61.8 326.0 60.9 330.0 60.2 332.0 60.7 335.0 59.7 338.0 60.7 339.0 60.5 341.0 59.4 345.0 59.9 346.0 59.5 347.0 59.4 348.0 60.3 349.0 60.5 350.0 60.1 352.0 61.2 353.0 61.4 354.0 61.9 356.0 61.2 358.0 62.9 359.0 62.3 360.0 61.9 362.0 63.2 363.0 64.0 365.0 66.9 367.0 66.2 369.0 67.0 371.0 69.4 372.0 69.7 376.0 74.1 379.0 79.6 380.0 82.2 381.0 86.4 382.0 91.0 383.0 99.1 386.0 155.4 387.0 171.7 388.0 183.5 389.0 191.6 390.0 195.2 391.0 196.7 392.0 195.7 393.0 192.5 394.0 187.3 396.0 172.6 400.0 153.2 403.0 140.4 405.0 133.8 408.0 121.6 410.0 115.6 412.0 105.2 414.0 97.9 417.0 83.0 419.0 75.0 421.0 65.2 422.0 61.9 423.0 59.4 426.0 47.4 429.0 40.2 430.0 38.1 431.0 36.7 432.0 35.6 433.0 35.5 434.0 35.0 435.0 34.3 437.0 35.8 438.0 36.1 440.0 36.1 441.0 36.2 442.0 36.7 443.0 37.8 444.0 41.9 445.0 49.5 446.0 60.5 455.0 165.1 456.0 168.2 457.0 162.5 459.0 142.0 462.0 119.8 465.0 95.4 468.0 68.1 469.0 61.3 472.0 44.2 474.0 35.2 475.0 33.6 476.0 35.4 477.0 40.6 480.0 66.4 484.0 96.3 486.0 112.7 487.0 118.0 488.0 116.4 489.0 108.8 492.0 74.8 493.0 67.4 494.0 63.5 496.0 58.1 497.0 56.2 498.0 54.9 500.0 51.2 501.0 58.7 502.0 72.0 503.0 81.9 506.0 108.1 507.0 116.0 508.0 119.6 509.0 111.6 513.0 53.0 514.0 46.8 515.0 44.5 516.0 43.5 519.0 39.2 521.0 36.9 522.0 34.4" stroke="#ff1a1a"/>
<path d="M71.0 86.6 73.0 74.3 77.0 55.2 79.0 43.4 80.0 38.7 81.0 37.2 82.0 37.2 85.0 34.4 86.0 34.0 87.0 34.5 90.0 34.6 91.0 34.2 93.0 34.7 95.0 34.8 97.0 34.2 99.0 35.3 100.0 34.9 101.0 34.2 102.0 34.8 103.0 35.1 104.0 34.4 105.0 34.3 109.0 37.0 110.0 36.3 111.0 35.2 113.0 35.3 116.0 34.5 117.0 34.7 118.0 34.6 119.0 34.7 120.0 35.3 121.0 35.3 123.0 34.9 124.0 34.5 125.0 34.9 126.0 35.8 127.0 36.2 128.0 35.9 129.0 35.1 132.0 33.9 134.0 35.3 135.0 35.1 136.0 35.4 137.0 36.1 138.0 35.9 139.0 35.0 140.0 35.0 141.0 35.5 143.0 35.2 146.0 37.0 150.0 36.1 151.0 36.2 152.0 36.8 153.0 37.2 155.0 36.3 156.0 36.3 158.0 37.3 159.0 36.7 160.0 36.5 161.0 37.6 162.0 38.2 163.0 37.3 164.0 37.0 166.0 38.4 168.0 38.6 169.0 39.0 170.0 38.9 172.0 38.0 174.0 38.9 176.0 38.6 178.0 40.8 179.0 40.6 180.0 40.1 181.0 39.9 183.0 40.2 184.0 40.0 185.0 40.2 186.0 40.8 188.0 41.0 189.0 41.6 191.0 42.3 192.0 42.5 195.0 40.6 196.0 40.5 197.0 41.0 198.0 41.9 199.0 42.0 200.0 41.4 201.0 41.5 202.0 42.1 204.0 42.3 205.0 43.3 206.0 43.6 208.0 41.3 210.0 41.5 211.0 41.1 212.0 40.2 213.0 39.8 215.0 40.6 217.0 40.2 218.0 40.3 220.0 41.4 222.0 40.5 223.0 40.4 225.0 39.7 227.0 40.2 228.0 40.0 229.0 39.2 230.0 38.6 232.0 40.6 234.0 40.3 235.0 40.6 237.0 40.4 238.0 41.1 239.0 41.0 240.0 40.1 241.0 39.9 242.0 40.0 244.0 40.9 246.0 40.2 247.0 40.1 249.0 40.5 250.0 40.4 252.0 39.2 253.0 39.4 254.0 40.7 255.0 41.2 258.0 40.0 259.0 40.2 264.0 46.6 265.0 49.2 266.0 53.8 267.0 61.0 268.0 80.7 270.0 131.7 272.0 174.2 275.0 217.0 276.0 224.5 277.0 222.5 278.0 203.6 280.0 151.2 281.0 138.8 283.0 139.4 285.0 137.9 286.0 138.0 287.0 138.7 288.0 138.3 289.0 137.1 291.0 138.4 292.0 136.3 293.0 132.8 294.0 130.2 295.0 128.4 297.0 122.8 304.0 106.8 305.0 105.5 307.0 101.3 308.0 100.4 310.0 97.3 312.0 96.0 313.0 95.7 314.0 95.1 315.0 93.7 316.0 93.1 318.0 94.2 319.0 93.3 320.0 91.7 321.0 91.4 322.0 91.5 323.0 91.1 324.0 90.4 326.0 89.7 327.0 89.0 328.0 88.6 329.0 89.1 330.0 90.0 331.0 89.1 332.0 87.8 334.0 88.6 336.0 88.3 338.0 88.4 340.0 85.6 341.0 85.5 342.0 86.2 343.0 86.2 346.0 85.8 347.0 86.3 348.0 86.2 349.0 85.5 350.0 85.8 351.0 86.5 352.0 86.4 354.0 85.6 355.0 84.4 356.0 83.9 357.0 84.9 358.0 85.6 359.0 84.9 360.0 84.6 361.0 84.8 362.0 84.6 366.0 81.3 367.0 81.8 368.0 81.7 369.0 80.7 371.0 81.5 373.0 79.2 375.0 78.4 377.0 78.1 378.0 77.3 379.0 80.8 380.0 90.0 381.0 102.7 385.0 197.0 386.0 213.3 387.0 224.2 388.0 229.8 389.0 232.0 390.0 232.0 391.0 228.7 392.0 222.9 394.0 205.3 398.0 182.1 401.0 169.2 405.0 153.8 407.0 147.7 409.0 139.4 411.0 132.3 418.0 100.1 421.0 83.8 423.0 76.8 425.0 67.8 427.0 59.8 430.0 48.4 432.0 43.9 434.0 38.0 435.0 36.5 438.0 35.0 440.0 36.3 441.0 36.1 442.0 36.2 443.0 37.3 444.0 42.3 445.0 51.2 446.0 62.9 455.0 188.2 456.0 195.6 457.0 190.9 461.0 147.8 469.0 68.3 471.0 54.2 472.0 49.1 473.0 45.4 474.0 43.4 475.0 44.6 477.0 51.8 478.0 56.6 480.0 71.6 482.0 83.7 483.0 91.1 488.0 133.3 489.0 139.3 490.0 142.6 491.0 138.3 492.0 128.6 496.0 81.1 498.0 67.6 499.0 62.3 500.0 59.5 501.0 60.2 502.0 65.0 506.0 94.3 509.0 120.2 510.0 122.5 511.0 112.3 515.0 52.1 516.0 46.2 517.0 43.6 518.0 42.4 519.0 40.6 522.0 34.3" stroke="#ff1a1a"/>
<path d="M71.0 59.8 77.0 40.6 78.0 38.0 80.0 34.9 81.0 34.4 85.0 35.1 87.0 35.6 88.0 35.6 89.0 34.9 90.0 34.9 91.0 35.2 92.0 34.7 93.0 33.7 94.0 33.4 95.0 33.6 96.0 33.3 97.0 33.6 98.0 34.4 100.0 34.4 101.0 35.0 103.0 34.8 104.0 35.2 109.0 34.1 110.0 34.1 112.0 35.3 113.0 35.6 115.0 35.2 116.0 35.5 118.0 34.6 120.0 34.3 121.0 34.8 122.0 35.7 123.0 36.1 124.0 35.8 126.0 34.3 128.0 34.1 129.0 34.3 131.0 36.7 132.0 36.4 133.0 35.6 134.0 35.6 136.0 36.6 139.0 36.0 141.0 35.3 143.0 35.4 144.0 35.4 145.0 35.0 146.0 35.4 147.0 36.2 148.0 36.4 150.0 36.2 151.0 35.7 152.0 35.5 153.0 36.4 154.0 36.6 155.0 36.1 156.0 36.8 157.0 37.2 158.0 37.2 159.0 38.0 160.0 37.6 161.0 36.7 162.0 36.6 163.0 36.7 164.0 37.2 165.0 38.2 166.0 38.6 167.0 37.8 168.0 37.6 169.0 38.2 170.0 39.1 171.0 39.5 172.0 39.3 174.0 40.1 176.0 41.2 177.0 40.3 178.0 39.8 179.0 40.5 180.0 40.2 181.0 39.2 183.0 40.1 184.0 39.8 185.0 39.8 186.0 40.2 188.0 39.5 190.0 40.9 192.0 40.2 194.0 40.9 195.0 40.9 198.0 42.7 200.0 42.4 202.0 42.6 203.0 42.2 204.0 41.4 205.0 41.6 206.0 42.2 208.0 42.7 209.0 42.2 210.0 41.0 211.0 40.4 214.0 41.2 216.0 40.6 218.0 41.3 220.0 40.6 221.0 39.7 222.0 39.7 223.0 40.7 224.0 41.0 225.0 40.6 226.0 40.7 227.0 41.0 228.0 40.6 229.0 39.8 231.0 39.7 233.0 40.1 234.0 39.9 236.0 38.8 238.0 40.7 240.0 40.3 241.0 39.7 242.0 39.8 243.0 40.1 244.0 39.5 245.0 39.1 246.0 39.5 248.0 40.7 249.0 40.3 251.0 39.1 254.0 39.6 255.0 40.7 256.0 41.4 257.0 40.7 258.0 40.6 259.0 41.2 260.0 41.1 261.0 41.8 262.0 43.4 263.0 44.5 264.0 46.0 265.0 49.5 266.0 54.9 267.0 62.6 268.0 78.5 270.0 119.4 272.0 155.1 274.0 177.3 275.0 184.7 276.0 185.2 277.0 172.8 278.0 156.2 280.0 115.4 281.0 102.2 282.0 91.9 283.0 84.0 284.0 78.0 287.0 67.0 288.0 64.0 289.0 62.1 290.0 61.3 291.0 61.3 293.0 58.8 295.0 59.2 297.0 57.6 298.0 57.7 299.0 58.0 300.0 57.9 301.0 58.0 302.0 58.8 303.0 58.6 304.0 57.8 305.0 57.9 306.0 58.5 307.0 58.2 308.0 57.4 309.0 57.2 310.0 57.3 312.0 56.4 313.0 56.6 315.0 58.2 317.0 57.0 320.0 56.0 321.0 55.9 322.0 55.9 324.0 57.0 327.0 56.5 328.0 55.9 329.0 55.7 330.0 56.2 331.0 56.3 332.0 56.1 333.0 55.3 334.0 55.0 335.0 56.0 336.0 55.7 337.0 54.5 338.0 53.8 339.0 53.9 341.0 55.7 342.0 55.7 343.0 55.4 344.0 55.4 345.0 56.2 346.0 55.9 347.0 54.8 348.0 54.5 349.0 54.5 351.0 53.4 353.0 54.1 355.0 53.2 356.0 53.2 358.0 53.5 359.0 53.4 361.0 51.6 363.0 52.1 364.0 51.9 365.0 50.8 366.0 50.1 367.0 50.3 369.0 49.8 370.0 49.3 372.0 46.8 375.0 34.8 376.0 34.1 377.0 36.1 378.0 40.1 379.0 45.8 380.0 66.8 383.0 167.7 387.0 286.4 389.0 331.3 390.0 342.6 391.0 336.3 395.0 289.5 397.0 271.1 401.0 240.4 406.0 208.1 410.0 180.2 419.0 110.4 425.0 74.4 428.0 59.4 430.0 52.7 432.0 44.9 434.0 38.5 435.0 36.0 437.0 35.0 438.0 34.0 439.0 34.3 440.0 35.6 441.0 35.9 442.0 36.0 443.0 38.2 444.0 48.8 445.0 66.1 446.0 88.2 455.0 300.2 456.0 303.9 457.0 291.1 459.0 252.4 469.0 83.9 472.0 53.6 474.0 39.2 475.0 34.6 476.0 34.3 478.0 35.2 479.0 36.7 480.0 37.6 481.0 37.8 482.0 39.1 484.0 42.6 488.0 52.7 489.0 54.8 490.0 54.7 491.0 53.6 492.0 51.3 493.0 48.0 494.0 47.7 495.0 47.9 497.0 45.2 499.0 44.1 500.0 43.7 501.0 44.7 504.0 51.3 505.0 54.3 506.0 58.2 508.0 69.9 509.0 74.3 510.0 68.8 512.0 44.8 513.0 39.2 515.0 37.4 517.0 37.5 519.0 36.1 521.0 36.3 522.0 35.0" stroke="#ff1a1a"/>
<path d="M71.0 78.3 74.0 62.8 78.0 44.8 79.0 40.5 80.0 37.2 81.0 35.9 83.0 35.7 84.0 34.3 85.0 33.9 87.0 35.5 88.0 35.3 89.0 34.1 90.0 33.9 91.0 34.4 93.0 34.1 94.0 33.7 95.0 33.8 96.0 35.4 97.0 36.2 99.0 35.0 102.0 35.1 103.0 35.6 104.0 35.4 105.0 34.8 106.0 35.1 107.0 35.9 108.0 36.0 109.0 35.1 110.0 35.3 111.0 36.3 113.0 37.1 114.0 36.7 115.0 35.8 116.0 35.4 117.0 35.4 120.0 36.4 122.0 36.1 123.0 36.2 124.0 36.1 126.0 36.6 127.0 36.7 129.0 35.6 131.0 36.7 133.0 37.0 134.0 36.8 135.0 36.3 137.0 36.2 138.0 36.7 139.0 38.0 140.0 38.4 141.0 37.2 142.0 37.0 143.0 38.1 144.0 38.2 145.0 37.3 146.0 37.2 147.0 37.8 149.0 38.5 150.0 38.4 151.0 37.7 152.0 38.4 153.0 39.7 154.0 39.8 155.0 39.0 156.0 38.8 158.0 39.6 159.0 39.1 160.0 39.1 161.0 40.0 163.0 40.5 164.0 41.1 168.0 41.0 170.0 42.3 172.0 42.7 174.0 42.4 175.0 42.7 176.0 42.8 177.0 42.6 178.0 43.0 180.0 44.5 181.0 44.5 182.0 43.5 183.0 43.6 184.0 44.4 186.0 45.4 187.0 45.6 188.0 45.0 189.0 45.2 190.0 45.8 192.0 45.5 194.0 46.4 199.0 45.9 201.0 46.9 202.0 46.8 203.0 46.4 205.0 45.0 207.0 46.5 209.0 45.4 211.0 46.3 212.0 45.8 213.0 44.9 214.0 45.1 215.0 45.6 216.0 45.2 217.0 44.0 218.0 43.4 220.0 44.3 222.0 43.3 223.0 43.7 224.0 43.8 225.0 43.1 226.0 42.9 227.0 44.1 228.0 44.7 230.0 43.9 231.0 42.9 232.0 43.0 233.0 44.0 237.0 41.9 239.0 42.8 240.0 43.7 241.0 43.9 245.0 41.1 246.0 40.9 248.0 41.6 249.0 41.1 250.0 41.0 251.0 41.9 252.0 42.4 255.0 41.4 256.0 41.4 258.0 41.8 260.0 41.5 261.0 42.1 262.0 43.0 263.0 44.5 264.0 46.3 265.0 49.0 266.0 54.0 267.0 62.0 268.0 81.8 270.0 132.9 272.0 174.8 274.0 202.4 275.0 211.2 276.0 210.6 278.0 177.9 280.0 132.2 281.0 116.3 283.0 93.8 284.0 86.5 285.0 82.6 286.0 79.3 289.0 72.8 291.0 70.1 292.0 69.0 294.0 68.4 296.0 66.7 297.0 66.3 299.0 67.0 300.0 66.1 301.0 64.9 302.0 64.6 304.0 65.4 305.0 65.1 307.0 65.2 311.0 63.8 312.0 64.0 314.0 64.1 316.0 62.9 319.0 63.9 320.0 63.5 322.0 61.1 323.0 61.0 324.0 61.7 325.0 62.1 326.0 62.1 327.0 62.0 329.0 61.3 331.0 61.3 332.0 61.6 334.0 60.8 335.0 61.2 336.0 60.6 337.0 60.4 338.0 60.8 339.0 60.4 341.0 60.8 343.0 59.1 345.0 59.9 346.0 59.6 347.0 58.5 348.0 58.2 349.0 58.7 350.0 58.7 352.0 57.8 353.0 57.9 355.0 56.8 356.0 57.6 357.0 57.6 358.0 56.8 360.0 55.8 361.0 54.5 362.0 53.7 363.0 54.2 364.0 53.9 365.0 52.7 369.0 52.6 371.0 50.3 372.0 49.0 373.0 46.9 374.0 45.7 375.0 45.1 377.0 42.1 378.0 41.6 379.0 43.4 380.0 49.3 381.0 58.6 382.0 71.6 386.0 188.6 387.0 209.5 388.0 222.3 389.0 228.3 390.0 231.0 391.0 231.6 392.0 228.2 393.0 223.0 395.0 204.6 397.0 192.4 399.0 181.9 400.0 177.4 402.0 170.1 406.0 153.1 408.0 147.3 411.0 134.9 414.0 123.9 419.0 98.6 427.0 62.2 432.0 45.2 434.0 40.4 435.0 38.9 437.0 34.1 438.0 34.2 439.0 35.2 440.0 35.4 442.0 36.4 443.0 38.0 444.0 48.4 445.0 66.7 455.0 315.4 456.0 321.1 457.0 308.5 459.0 266.8 465.0 161.2 468.0 104.3 469.0 88.6 470.0 77.0 472.0 57.6 473.0 50.4 474.0 45.8 475.0 43.7 477.0 44.2 480.0 43.7 481.0 44.3 483.0 44.3 486.0 46.3 487.0 46.3 488.0 47.3 489.0 49.7 490.0 51.4 491.0 51.5 493.0 42.6 494.0 40.2 496.0 37.1 497.0 36.4 498.0 36.7 500.0 35.8 501.0 36.2 502.0 37.7 505.0 44.1 507.0 50.5 508.0 51.7 509.0 49.5 510.0 45.6 511.0 39.9 512.0 36.0 514.0 35.0 515.0 34.9 516.0 35.2 517.0 35.8 518.0 35.8 520.0 35.1 522.0 33.6" stroke="#ff1a1a"/>
<path d="M71.0 96.2 74.0 77.9 77.0 61.9 79.0 49.4 80.0 44.4 82.0 36.7 83.0 35.6 84.0 35.6 86.0 36.2 88.0 36.1 90.0 35.0 91.0 35.0 93.0 35.8 94.0 35.2 95.0 35.2 96.0 35.7 97.0 35.7 98.0 35.9 99.0 36.4 100.0 36.2 101.0 35.0 102.0 34.9 103.0 35.5 104.0 35.3 105.0 34.9 106.0 35.0 107.0 35.8 108.0 35.9 109.0 35.6 111.0 37.7 112.0 37.5 114.0 36.6 116.0 37.4 117.0 36.9 119.0 34.7 120.0 35.5 121.0 37.2 122.0 37.4 123.0 36.7 124.0 36.7 125.0 37.5 126.0 37.6 127.0 37.2 128.0 37.6 129.0 38.9 130.0 39.7 133.0 37.8 134.0 37.6 135.0 38.0 136.0 38.8 137.0 38.5 138.0 37.3 139.0 37.5 141.0 39.7 142.0 40.3 146.0 39.9 148.0 39.9 150.0 41.1 154.0 42.0 155.0 42.6 157.0 42.2 158.0 42.6 160.0 44.1 162.0 44.1 163.0 44.9 164.0 45.4 167.0 44.7 168.0 44.9 170.0 46.1 171.0 46.4 173.0 46.3 174.0 46.0 175.0 45.9 177.0 48.3 178.0 48.7 180.0 47.3 182.0 48.7 183.0 48.6 185.0 49.8 187.0 49.3 188.0 49.4 189.0 49.3 190.0 48.6 191.0 48.4 192.0 49.1 193.0 49.3 194.0 49.1 195.0 49.3 196.0 49.9 198.0 49.9 199.0 50.4 201.0 50.0 202.0 50.3 203.0 51.0 204.0 51.2 206.0 49.9 207.0 49.5 208.0 49.6 210.0 50.8 211.0 50.8 213.0 49.0 215.0 48.5 216.0 48.4 218.0 49.3 219.0 49.1 222.0 47.2 227.0 48.9 229.0 47.0 231.0 46.8 232.0 46.1 234.0 46.9 235.0 45.8 236.0 45.2 237.0 46.1 238.0 46.4 240.0 45.4 242.0 44.2 244.0 44.9 245.0 44.6 246.0 43.7 247.0 43.4 249.0 44.2 250.0 44.2 252.0 43.7 253.0 44.3 254.0 44.6 256.0 43.8 257.0 44.4 258.0 45.4 260.0 45.7 262.0 48.5 263.0 49.4 264.0 51.1 265.0 54.6 266.0 60.0 267.0 68.2 268.0 88.5 270.0 142.4 272.0 189.0 274.0 221.3 275.0 231.5 276.0 230.6 277.0 214.6 278.0 194.5 280.0 144.6 281.0 127.9 282.0 115.1 283.0 105.7 284.0 98.8 285.0 94.0 286.0 89.8 287.0 86.8 288.0 84.7 290.0 79.2 291.0 77.1 292.0 76.6 295.0 77.2 299.0 74.6 300.0 74.4 302.0 75.0 304.0 73.9 306.0 73.6 307.0 72.8 308.0 72.3 310.0 72.7 311.0 72.7 313.0 71.7 315.0 71.9 318.0 71.2 320.0 72.2 322.0 71.5 324.0 73.2 325.0 72.8 327.0 70.4 328.0 70.3 329.0 70.5 330.0 70.2 331.0 69.3 333.0 70.3 334.0 70.2 336.0 70.4 337.0 69.7 338.0 68.8 339.0 68.6 341.0 69.4 343.0 67.7 345.0 67.1 346.0 67.3 347.0 68.2 348.0 67.8 349.0 66.5 350.0 66.3 351.0 66.8 353.0 66.6 355.0 65.1 356.0 65.6 357.0 65.8 359.0 65.3 360.0 64.2 361.0 62.6 362.0 62.5 363.0 62.9 364.0 62.7 365.0 62.5 366.0 61.9 368.0 61.7 369.0 61.1 371.0 59.2 372.0 58.7 373.0 57.9 375.0 54.0 376.0 52.5 377.0 51.4 378.0 50.7 379.0 53.2 380.0 60.0 381.0 69.8 382.0 87.4 384.0 144.1 386.0 193.7 387.0 207.6 388.0 216.6 389.0 220.9 390.0 223.2 391.0 221.5 392.0 217.3 395.0 193.3 396.0 187.9 398.0 179.6 401.0 164.2 405.0 147.2 410.0 128.9 413.0 116.0 416.0 99.8 419.0 86.0 422.0 70.2 423.0 66.2 425.0 59.4 426.0 55.2 429.0 45.9 430.0 43.2 432.0 39.2 433.0 36.5 434.0 34.4 437.0 34.4 440.0 35.8 442.0 38.0 443.0 38.7 444.0 46.8 445.0 62.7 446.0 84.0 454.0 263.0 455.0 282.7 456.0 286.0 457.0 274.7 459.0 239.8 468.0 93.6 469.0 80.3 470.0 70.8 472.0 57.1 473.0 52.3 474.0 50.8 475.0 51.4 476.0 51.7 478.0 54.0 479.0 54.1 480.0 54.7 482.0 57.1 484.0 58.6 485.0 59.9 486.0 61.3 487.0 64.0 489.0 71.8 490.0 74.7 491.0 73.4 494.0 52.4 495.0 50.1 497.0 47.3 499.0 46.5 500.0 45.3 501.0 53.0 502.0 66.1 506.0 96.2 507.0 102.4 508.0 99.0 512.0 48.7 513.0 43.7 514.0 42.3 517.0 39.4 519.0 36.5 520.0 35.7 521.0 35.6 522.0 34.7" stroke="#ff1a1a"/>
<path d="M71.0 51.2 74.0 43.4 75.0 41.8 77.0 37.7 78.0 36.4 79.0 36.2 81.0 36.2 83.0 35.6 84.0 35.0 85.0 35.0 86.0 35.6 87.0 34.8 88.0 33.7 89.0 34.0 90.0 35.2 91.0 36.0 92.0 35.8 93.0 36.0 94.0 36.0 95.0 34.9 96.0 34.3 98.0 35.1 99.0 35.2 103.0 34.0 104.0 34.1 107.0 35.2 109.0 34.7 111.0 35.1 112.0 35.7 113.0 35.5 114.0 34.7 115.0 34.6 116.0 35.1 117.0 35.1 120.0 33.8 122.0 35.7 124.0 34.1 125.0 34.0 126.0 34.7 127.0 35.1 128.0 34.4 129.0 34.7 130.0 35.8 131.0 36.4 132.0 36.3 133.0 35.4 134.0 35.5 135.0 35.9 136.0 35.7 137.0 36.1 138.0 35.9 139.0 35.0 140.0 34.4 141.0 34.4 142.0 34.8 144.0 36.6 145.0 37.2 146.0 36.7 147.0 35.9 148.0 36.2 149.0 36.9 150.0 36.7 152.0 36.9 153.0 36.5 154.0 36.3 158.0 36.9 159.0 36.8 160.0 37.5 162.0 38.0 163.0 38.8 164.0 38.5 165.0 37.9 167.0 39.0 168.0 38.3 169.0 38.3 170.0 39.1 171.0 39.2 172.0 39.1 173.0 39.6 174.0 39.8 176.0 38.7 177.0 38.5 179.0 40.1 180.0 40.4 181.0 41.1 182.0 41.4 184.0 39.7 185.0 39.5 187.0 41.8 188.0 41.8 189.0 40.9 191.0 41.6 192.0 41.0 193.0 41.3 194.0 42.0 195.0 42.4 197.0 41.7 198.0 41.6 201.0 41.0 202.0 41.2 203.0 41.9 204.0 42.2 205.0 42.2 207.0 41.3 208.0 41.8 209.0 41.9 210.0 41.1 211.0 40.9 212.0 41.8 215.0 40.7 216.0 39.9 217.0 39.7 218.0 40.0 220.0 41.5 221.0 41.4 222.0 40.5 223.0 39.3 224.0 38.5 226.0 40.0 227.0 40.0 229.0 38.9 231.0 39.5 232.0 39.1 233.0 38.9 235.0 39.8 236.0 39.8 239.0 38.9 240.0 39.4 241.0 40.5 242.0 40.5 243.0 39.8 244.0 39.5 245.0 39.8 247.0 40.0 249.0 40.6 250.0 40.4 251.0 39.8 252.0 39.5 254.0 40.9 255.0 41.1 257.0 40.7 258.0 41.0 259.0 41.6 260.0 41.5 261.0 41.9 263.0 46.4 264.0 47.1 265.0 48.7 266.0 53.3 267.0 61.6 268.0 84.2 270.0 145.6 272.0 196.4 274.0 229.2 275.0 240.0 276.0 238.8 278.0 198.1 280.0 142.8 281.0 124.3 282.0 110.0 283.0 99.0 284.0 92.1 286.0 83.4 287.0 79.7 289.0 74.0 291.0 69.4 292.0 68.5 293.0 68.8 294.0 68.2 295.0 67.0 296.0 66.5 298.0 66.7 299.0 66.6 300.0 66.0 302.0 65.8 303.0 65.1 304.0 65.2 305.0 65.6 307.0 63.5 308.0 63.4 310.0 64.9 311.0 64.5 312.0 63.5 313.0 63.4 314.0 63.8 316.0 63.3 317.0 64.0 318.0 63.7 319.0 62.5 320.0 62.3 321.0 62.9 322.0 63.0 323.0 62.4 324.0 61.3 325.0 60.9 327.0 62.6 328.0 62.8 329.0 62.3 331.0 62.5 332.0 61.6 333.0 61.1 334.0 61.3 335.0 60.8 336.0 59.8 337.0 59.9 338.0 60.5 339.0 60.4 340.0 59.4 341.0 58.8 342.0 59.1 343.0 59.0 345.0 59.5 347.0 58.2 349.0 57.5 350.0 56.8 351.0 56.6 353.0 55.8 354.0 56.4 355.0 56.1 356.0 55.2 358.0 55.0 359.0 54.2 360.0 53.9 361.0 54.0 363.0 52.8 364.0 52.6 367.0 50.9 369.0 50.7 370.0 49.8 373.0 45.1 375.0 40.5 376.0 38.9 378.0 36.9 379.0 37.9 380.0 42.2 382.0 58.5 383.0 74.1 385.0 140.9 387.0 199.1 388.0 216.8 389.0 229.4 390.0 234.5 391.0 236.2 392.0 236.0 393.0 233.1 394.0 225.9 395.0 215.0 396.0 206.9 400.0 184.6 402.0 175.6 404.0 164.9 410.0 140.9 412.0 130.9 415.0 118.1 421.0 85.2 423.0 75.3 426.0 62.3 430.0 46.3 431.0 44.1 435.0 36.5 436.0 35.1 437.0 34.4 438.0 34.6 440.0 36.5 441.0 36.9 442.0 36.9 443.0 37.8 444.0 44.8 445.0 57.0 446.0 73.2 455.0 242.1 456.0 250.6 457.0 243.4 459.0 212.1 465.0 133.5 468.0 88.9 469.0 76.6 470.0 69.0 472.0 60.0 473.0 56.6 475.0 51.9 476.0 51.4 477.0 53.3 478.0 56.3 479.0 58.5 482.0 63.9 485.0 75.8 486.0 78.3 487.0 79.9 488.0 79.1 491.0 62.5 494.0 56.9 495.0 56.1 497.0 55.4 498.0 55.5 500.0 53.7 502.0 54.6 505.0 58.6 509.0 68.2 510.0 68.5 511.0 62.4 513.0 45.9 514.0 39.6 515.0 38.0 518.0 37.4 519.0 36.7 522.0 34.0" stroke="#ff1a1a"/>
<path d="M71.0 232.8 74.0 207.5 77.0 184.5 83.0 141.1 87.0 115.4 94.0 63.6 95.0 57.2 98.0 43.3 100.0 38.0 101.0 35.9 102.0 36.1 103.0 37.0 104.0 37.1 105.0 36.7 106.0 36.0 108.0 35.2 109.0 34.5 110.0 34.7 111.0 35.5 112.0 35.2 113.0 34.5 114.0 34.7 116.0 35.9 117.0 36.3 118.0 36.2 119.0 35.6 120.0 35.5 121.0 36.3 123.0 36.6 124.0 36.6 125.0 35.9 126.0 35.7 127.0 36.4 128.0 36.7 130.0 35.9 131.0 36.3 133.0 38.5 136.0 39.3 137.0 38.8 138.0 38.0 140.0 39.2 141.0 39.3 146.0 39.9 148.0 39.1 150.0 40.8 152.0 41.3 153.0 40.8 154.0 40.7 155.0 41.7 156.0 42.2 157.0 41.8 158.0 41.9 160.0 43.4 161.0 43.2 164.0 43.6 165.0 44.4 166.0 44.8 167.0 45.6 168.0 46.8 169.0 46.7 170.0 45.7 171.0 45.0 174.0 46.1 175.0 47.4 176.0 48.1 177.0 47.0 178.0 47.0 179.0 47.9 182.0 49.2 183.0 48.5 184.0 48.2 185.0 49.3 188.0 50.8 190.0 50.2 194.0 51.0 195.0 51.0 196.0 50.5 197.0 50.7 198.0 51.7 202.0 50.8 203.0 50.9 204.0 50.7 205.0 50.1 207.0 50.4 208.0 49.9 210.0 51.0 211.0 50.7 212.0 49.8 213.0 49.4 214.0 50.0 215.0 50.0 217.0 49.3 218.0 49.4 219.0 49.8 220.0 49.5 221.0 48.5 222.0 48.6 223.0 49.0 225.0 47.4 226.0 47.3 227.0 47.6 228.0 47.6 230.0 46.4 231.0 46.7 232.0 47.4 233.0 47.5 235.0 46.6 236.0 46.6 238.0 46.2 239.0 46.3 240.0 45.3 241.0 43.8 242.0 43.6 243.0 44.0 245.0 42.9 246.0 43.6 247.0 43.9 249.0 43.4 250.0 41.8 251.0 40.9 253.0 43.3 255.0 43.0 256.0 43.8 258.0 44.6 259.0 45.3 260.0 46.4 262.0 47.5 263.0 48.9 264.0 51.0 265.0 54.2 266.0 59.2 267.0 66.1 272.0 134.7 274.0 152.3 275.0 158.4 276.0 158.7 277.0 150.5 278.0 139.5 280.0 112.7 281.0 104.7 282.0 98.9 284.0 88.6 285.0 86.0 286.0 84.0 287.0 82.6 288.0 81.7 290.0 78.8 291.0 77.8 292.0 78.0 293.0 78.5 294.0 77.9 295.0 76.8 297.0 75.7 299.0 73.7 300.0 73.4 301.0 73.6 303.0 72.9 305.0 72.4 306.0 71.8 307.0 70.8 308.0 70.5 309.0 70.5 311.0 68.8 312.0 69.1 313.0 69.0 314.0 68.3 315.0 68.2 316.0 68.8 317.0 68.4 318.0 67.5 319.0 67.4 320.0 67.7 323.0 67.3 325.0 65.3 326.0 64.7 328.0 64.4 329.0 63.7 330.0 63.9 331.0 64.4 332.0 64.6 334.0 63.8 335.0 64.0 337.0 66.4 339.0 65.2 341.0 65.1 342.0 64.8 343.0 63.9 344.0 63.5 347.0 64.4 349.0 64.0 350.0 63.5 351.0 64.0 353.0 65.8 354.0 66.3 355.0 65.7 356.0 65.6 357.0 66.4 358.0 66.6 359.0 66.2 360.0 66.1 362.0 67.9 363.0 68.1 364.0 67.2 365.0 67.0 367.0 70.0 369.0 69.4 376.0 74.7 377.0 75.6 378.0 76.9 379.0 79.2 381.0 85.0 382.0 89.1 383.0 98.9 387.0 173.3 388.0 184.7 389.0 192.0 390.0 194.5 391.0 195.8 392.0 195.1 393.0 192.1 394.0 186.9 396.0 172.8 399.0 157.3 402.0 144.1 404.0 136.7 406.0 127.9 408.0 121.5 410.0 111.8 413.0 99.7 417.0 80.4 421.0 63.0 423.0 56.9 426.0 46.6 429.0 39.0 430.0 36.8 431.0 35.1 432.0 34.6 433.0 34.5 434.0 35.4 435.0 35.5 436.0 34.5 437.0 35.1 438.0 36.0 439.0 35.9 440.0 36.0 442.0 37.7 443.0 38.3 444.0 43.1 445.0 53.4 447.0 79.5 454.0 160.5 455.0 168.8 456.0 166.6 459.0 138.9 464.0 98.2 467.0 70.2 468.0 62.6 469.0 57.6 470.0 54.5 471.0 52.2 474.0 47.3 475.0 46.4 476.0 46.4 477.0 52.3 479.0 74.8 484.0 121.1 485.0 129.0 486.0 134.6 487.0 135.4 488.0 127.2 491.0 83.8 492.0 76.5 493.0 72.7 495.0 66.6 496.0 63.8 497.0 61.7 499.0 59.0 500.0 58.7 501.0 58.8 502.0 87.7 503.0 102.3 505.0 118.6 507.0 137.3 508.0 144.4 509.0 139.9 514.0 59.4 515.0 51.5 517.0 44.3 519.0 41.1 521.0 35.3 522.0 33.1" stroke="#ff1a1a"/>
<path d="M71.0 205.1 74.0 182.5 76.0 169.0 78.0 153.3 81.0 135.5 83.0 121.6 86.0 104.3 93.0 54.6 96.0 41.1 97.0 38.6 98.0 37.1 99.0 36.1 100.0 35.7 101.0 35.3 103.0 36.1 104.0 35.4 105.0 35.2 106.0 35.3 107.0 34.8 108.0 35.1 109.0 35.9 110.0 35.7 112.0 33.9 113.0 33.8 115.0 34.2 116.0 34.9 117.0 35.3 118.0 34.7 119.0 35.1 120.0 36.2 121.0 36.3 124.0 35.4 126.0 35.9 127.0 35.9 130.0 36.8 132.0 35.6 133.0 36.1 134.0 36.9 136.0 36.4 137.0 36.9 138.0 36.5 139.0 36.6 140.0 37.4 142.0 37.0 143.0 37.5 144.0 38.4 145.0 38.8 146.0 38.4 147.0 38.4 148.0 38.0 149.0 38.2 150.0 38.7 151.0 38.2 152.0 38.8 153.0 39.7 154.0 39.0 155.0 38.7 158.0 39.9 159.0 40.8 160.0 40.9 161.0 40.3 163.0 41.0 164.0 40.8 166.0 42.4 170.0 41.1 171.0 42.0 172.0 43.2 173.0 43.2 175.0 42.4 176.0 43.0 177.0 44.3 178.0 44.5 179.0 44.2 181.0 44.6 182.0 44.6 184.0 45.9 185.0 45.5 186.0 44.4 187.0 44.4 190.0 46.4 191.0 45.7 192.0 44.3 193.0 44.5 195.0 46.4 196.0 46.6 197.0 46.2 199.0 46.9 202.0 45.6 204.0 46.1 206.0 46.1 207.0 46.6 208.0 46.8 210.0 45.3 211.0 45.4 212.0 46.1 214.0 46.0 215.0 45.8 216.0 44.6 217.0 43.9 218.0 44.1 219.0 44.0 221.0 45.2 222.0 45.0 224.0 43.4 226.0 42.1 227.0 42.0 228.0 42.4 229.0 42.2 231.0 43.1 233.0 42.1 235.0 43.0 236.0 42.8 237.0 43.2 238.0 43.9 239.0 43.7 241.0 42.8 242.0 42.8 244.0 41.6 245.0 41.6 247.0 41.1 249.0 42.1 251.0 41.1 253.0 41.5 255.0 41.1 257.0 42.2 258.0 41.5 259.0 41.1 260.0 42.1 261.0 42.7 262.0 42.9 263.0 44.9 265.0 50.3 266.0 55.2 267.0 62.3 268.0 72.7 272.0 119.6 274.0 135.5 275.0 140.6 276.0 140.0 278.0 123.7 280.0 100.6 281.0 92.2 282.0 85.9 283.0 81.4 284.0 78.1 285.0 76.0 286.0 74.5 288.0 72.2 290.0 69.0 291.0 68.7 292.0 69.3 293.0 69.3 295.0 68.1 297.0 68.4 299.0 66.4 300.0 66.4 302.0 65.0 306.0 64.5 307.0 63.8 309.0 63.2 310.0 63.0 311.0 63.2 312.0 62.8 313.0 62.1 314.0 62.1 315.0 62.7 316.0 62.8 318.0 62.0 320.0 60.6 321.0 61.0 322.0 61.1 324.0 59.8 326.0 60.3 327.0 59.8 328.0 58.8 329.0 58.9 330.0 59.3 331.0 60.0 332.0 61.2 333.0 61.2 334.0 59.6 335.0 59.0 336.0 59.4 339.0 59.3 341.0 59.9 344.0 59.5 345.0 59.0 346.0 58.7 349.0 61.2 350.0 61.1 351.0 60.0 352.0 60.0 353.0 60.9 354.0 61.2 356.0 60.5 360.0 62.2 362.0 62.2 363.0 63.1 364.0 63.1 365.0 62.3 366.0 62.0 369.0 64.1 370.0 64.0 371.0 63.2 372.0 63.3 376.0 66.2 379.0 70.3 380.0 72.5 381.0 77.3 382.0 83.6 383.0 95.6 385.0 130.7 387.0 161.2 388.0 170.0 389.0 175.6 390.0 177.4 391.0 177.9 392.0 176.3 393.0 173.1 395.0 160.1 396.0 154.9 400.0 137.1 402.0 129.2 404.0 123.0 408.0 106.7 411.0 96.4 416.0 72.7 418.0 64.3 420.0 57.5 422.0 52.0 424.0 45.0 425.0 42.7 426.0 41.2 428.0 36.0 429.0 34.6 430.0 34.7 431.0 35.3 432.0 35.3 433.0 34.8 434.0 34.8 435.0 35.0 437.0 35.8 439.0 35.1 442.0 37.1 443.0 38.1 444.0 43.4 445.0 52.6 447.0 76.0 454.0 147.6 455.0 150.4 456.0 145.9 458.0 129.6 464.0 87.1 467.0 61.7 468.0 55.7 469.0 53.5 470.0 53.2 471.0 53.7 472.0 54.7 474.0 57.5 475.0 58.2 476.0 59.4 478.0 63.4 479.0 66.7 481.0 74.6 483.0 81.4 484.0 85.8 488.0 114.4 489.0 119.4 490.0 121.3 491.0 117.1 492.0 109.8 494.0 90.4 495.0 84.4 498.0 77.3 499.0 75.7 500.0 74.5 501.0 78.4 503.0 104.8 504.0 113.1 505.0 119.6 507.0 135.6 508.0 137.1 509.0 124.3 512.0 69.2 513.0 54.9 514.0 49.4 515.0 45.6 516.0 43.2 520.0 38.6 522.0 32.8" stroke="#ff1a1a"/>
<path d="M71.0 69.3 74.0 56.4 76.0 49.7 78.0 41.3 80.0 37.5 81.0 36.3 82.0 36.0 84.0 36.0 87.0 34.7 88.0 33.9 89.0 33.4 92.0 33.7 94.0 34.7 95.0 34.7 96.0 34.3 98.0 34.5 99.0 34.1 100.0 34.2 101.0 34.6 104.0 35.5 105.0 35.5 107.0 34.8 108.0 34.9 110.0 36.0 111.0 36.0 112.0 35.3 113.0 35.1 114.0 35.4 116.0 36.3 117.0 35.1 118.0 34.4 119.0 35.1 120.0 35.2 122.0 35.1 123.0 35.4 124.0 36.3 125.0 36.0 126.0 35.3 130.0 35.9 131.0 35.8 133.0 36.2 134.0 35.9 135.0 36.1 136.0 37.0 137.0 37.1 138.0 36.3 139.0 36.4 140.0 37.1 141.0 37.2 142.0 36.9 145.0 35.3 146.0 35.4 149.0 37.2 151.0 37.0 153.0 36.1 155.0 36.8 156.0 36.4 157.0 37.2 158.0 38.4 161.0 36.7 162.0 36.8 163.0 38.1 164.0 38.3 165.0 37.3 166.0 37.0 169.0 39.3 170.0 39.4 171.0 38.5 172.0 38.4 173.0 38.9 174.0 38.9 176.0 39.8 178.0 38.5 180.0 39.2 181.0 38.9 182.0 39.3 184.0 41.9 185.0 41.7 186.0 40.7 187.0 40.4 188.0 40.7 190.0 40.8 192.0 42.1 196.0 41.9 197.0 41.7 199.0 41.9 203.0 40.7 204.0 41.5 205.0 42.0 207.0 41.2 209.0 42.1 211.0 41.5 212.0 41.6 213.0 41.4 214.0 40.7 215.0 40.7 216.0 41.1 218.0 39.9 219.0 39.7 220.0 40.4 221.0 40.7 222.0 39.9 223.0 39.4 225.0 39.5 227.0 40.3 228.0 39.6 229.0 39.6 230.0 40.3 232.0 39.6 234.0 39.4 236.0 40.2 238.0 39.5 241.0 40.1 243.0 39.7 244.0 40.3 245.0 40.2 246.0 39.5 247.0 39.9 248.0 40.6 250.0 40.0 251.0 40.4 252.0 40.3 253.0 39.7 254.0 40.0 255.0 41.1 256.0 41.6 258.0 40.5 259.0 40.5 260.0 41.2 261.0 42.3 262.0 43.0 263.0 44.2 264.0 46.8 265.0 50.6 266.0 55.7 267.0 63.0 272.0 140.3 274.0 160.7 275.0 167.3 276.0 166.8 277.0 158.0 278.0 146.8 280.0 116.6 281.0 108.0 283.0 94.5 284.0 89.9 286.0 84.8 287.0 83.2 290.0 80.4 293.0 77.1 294.0 76.8 295.0 77.0 296.0 77.5 297.0 77.3 298.0 76.1 299.0 75.7 300.0 75.8 302.0 73.8 304.0 74.3 308.0 71.7 309.0 71.6 310.0 71.9 311.0 71.7 313.0 71.8 314.0 70.9 315.0 70.6 316.0 71.2 319.0 71.8 320.0 71.7 321.0 70.9 322.0 69.5 323.0 69.2 324.0 69.4 326.0 70.4 328.0 68.1 329.0 68.2 332.0 69.4 333.0 69.2 334.0 68.7 336.0 69.3 338.0 67.4 339.0 68.2 340.0 69.7 341.0 70.0 342.0 69.1 343.0 68.8 345.0 69.2 347.0 67.7 348.0 67.9 349.0 68.7 350.0 69.1 352.0 68.9 354.0 69.6 355.0 69.7 356.0 69.4 357.0 68.7 358.0 68.6 360.0 70.7 363.0 72.0 364.0 72.2 365.0 71.4 366.0 71.1 368.0 72.9 371.0 73.6 374.0 73.7 378.0 77.8 379.0 81.8 380.0 89.0 381.0 98.8 385.0 182.0 386.0 197.3 387.0 206.6 388.0 211.4 389.0 213.7 390.0 213.9 391.0 210.8 392.0 206.2 394.0 189.3 395.0 182.8 399.0 161.2 403.0 143.7 405.0 135.8 407.0 126.5 409.0 119.8 411.0 111.1 414.0 102.7 416.0 98.2 418.0 91.7 419.0 89.1 420.0 87.9 421.0 87.1 422.0 85.2 423.0 82.5 424.0 80.8 425.0 80.0 426.0 79.7 427.0 82.8 428.0 90.8 430.0 111.3 431.0 118.7 432.0 120.0 433.0 118.4 436.0 108.9 438.0 103.7 439.0 102.4 440.0 103.7 442.0 108.4 444.0 114.3 445.0 118.1 446.0 123.7 447.0 131.4 449.0 149.8 454.0 205.1 455.0 211.9 456.0 213.5 457.0 206.4 459.0 180.7 465.0 114.2 469.0 67.5 470.0 62.1 471.0 59.3 472.0 56.8 473.0 55.1 474.0 54.9 475.0 55.3 477.0 54.2 479.0 55.9 480.0 56.2 482.0 55.4 483.0 56.1 484.0 56.4 485.0 56.4 487.0 55.8 488.0 56.7 489.0 56.7 490.0 54.4 491.0 53.0 493.0 52.5 495.0 53.1 496.0 52.1 497.0 52.0 498.0 53.0 500.0 51.7 501.0 54.1 503.0 61.5 506.0 76.6 507.0 73.0 509.0 49.8 510.0 41.0 511.0 39.7 513.0 38.1 516.0 37.2 519.0 37.2 520.0 37.0 522.0 34.1" stroke="#ff1a1a"/>
<path d="M383.0 96.9 385.0 101.8 386.0 107.8 388.0 123.9 389.0 129.1 391.0 135.3 392.0 135.9 393.0 134.9 394.0 132.7 397.0 119.5 399.0 112.6 400.0 108.3" stroke="#3030ea"/>
<path d="M383.0 92.6 384.0 94.5 385.0 100.2 386.0 108.1 388.0 119.1 389.0 123.0 390.0 125.7 391.0 126.9 392.0 126.1 393.0 124.4 398.0 104.3 400.0 98.8" stroke="#3030ea"/>
<path d="M383.0 94.1 384.0 94.9 385.0 96.6 387.0 106.9 389.0 115.1 390.0 118.5 391.0 120.4 392.0 120.8 393.0 118.8 394.0 115.1 396.0 105.9 397.0 103.7 400.0 91.7" stroke="#3030ea"/>
<path d="M383.0 92.6 384.0 93.3 385.0 96.9 387.0 105.9 388.0 109.1 390.0 111.9 391.0 112.9 392.0 112.9 393.0 111.6 395.0 102.9 397.0 96.7 398.0 92.0 399.0 88.6 400.0 86.9" stroke="#3030ea"/>
<path d="M383.0 95.2 384.0 95.4 385.0 96.8 387.0 102.1 388.0 103.2 391.0 105.3 392.0 105.3 393.0 103.1 394.0 99.6 397.0 91.4 398.0 89.4 400.0 82.1" stroke="#3030ea"/>
<path d="M383.0 95.8 384.0 97.0 385.0 99.2 387.0 100.0 389.0 105.2 390.0 106.4 391.0 105.7 394.0 96.4 396.0 90.9 398.0 84.4 400.0 79.6" stroke="#3030ea"/>
<path d="M383.0 88.9 384.0 88.8 385.0 90.7 386.0 93.3 388.0 94.0 390.0 98.6 391.0 98.7 392.0 96.8 394.0 95.1 396.0 88.2 399.0 80.8 400.0 77.3" stroke="#3030ea"/>
<path d="M383.0 81.3 384.0 82.7 385.0 83.0 387.0 88.6 389.0 90.5 390.0 92.0 391.0 92.3 393.0 91.0 394.0 88.9 395.0 86.1 397.0 83.1 399.0 75.4 400.0 72.5" stroke="#3030ea"/>
<path d="M383.0 61.3 384.0 62.6 385.0 65.0 387.0 75.0 388.0 78.1 390.0 83.2 391.0 84.0 393.0 82.1 394.0 80.3 396.0 74.3 397.0 71.9 398.0 70.5 400.0 64.7" stroke="#3030ea"/>
<path d="M71.0 81.4 73.0 66.4 74.0 60.9 77.0 48.1 78.0 46.4 79.0 44.1 80.0 41.0 82.0 37.0 83.0 36.4 84.0 36.1 86.0 34.2 87.0 34.3" stroke="#3030ea"/>
<path d="M71.0 90.6 73.0 78.6 75.0 70.2 78.0 55.2 81.0 45.8 84.0 39.6 85.0 37.9 86.0 36.9 87.0 37.2" stroke="#3030ea"/>
<path d="M71.0 60.2 72.0 56.4 74.0 46.7 76.0 39.2 77.0 36.5 78.0 35.9 80.0 37.3 81.0 37.0 83.0 35.5 85.0 35.9 87.0 34.6" stroke="#3030ea"/>
<path d="M71.0 64.3 75.0 46.0 76.0 42.9 78.0 38.3 79.0 36.6 80.0 35.7 82.0 36.2 83.0 35.0 84.0 34.8 85.0 35.8 87.0 36.7" stroke="#3030ea"/>
<path d="M71.0 54.9 74.0 43.0 75.0 40.4 77.0 36.0 78.0 35.4 79.0 35.8 80.0 35.1 81.0 35.3 82.0 35.9 84.0 35.9 86.0 34.7 87.0 34.4" stroke="#3030ea"/>
<path d="M71.0 69.0 72.0 63.9 76.0 51.0 78.0 43.2 79.0 40.1 80.0 38.4 81.0 37.4 82.0 37.1 84.0 35.5 85.0 35.6 86.0 36.8 87.0 38.4" stroke="#3030ea"/>
<path d="M71.0 84.2 74.0 72.2 76.0 60.5 77.0 56.1 79.0 50.4 80.0 46.8 81.0 44.4 83.0 41.8 85.0 38.5 86.0 38.3 87.0 39.3" stroke="#3030ea"/>
<path d="M71.0 74.7 76.0 55.1 78.0 48.7 79.0 46.4 81.0 42.8 82.0 40.5 83.0 39.6 84.0 39.5 85.0 38.1 86.0 37.7 87.0 38.2" stroke="#3030ea"/>
<path d="M71.0 53.3 72.0 54.3 73.0 53.6 74.0 51.0 75.0 49.7 76.0 50.7 77.0 51.0 78.0 50.6 79.0 50.5 80.0 49.4 81.0 49.1 83.0 51.1 84.0 51.7 85.0 51.3 86.0 51.2 87.0 51.5" stroke="#3030ea"/>
<path d="M71.0 204.4 72.0 201.7 74.0 191.0 77.0 168.0 79.0 149.3 80.0 138.5 81.0 124.4 85.0 60.1 86.0 49.3 87.0 43.9" stroke="#3030ea"/>
<path d="M292.0 79.0 293.0 80.6 294.0 81.4 295.0 81.3 296.0 80.7 297.0 79.6 299.0 80.8 300.0 80.3 302.0 80.4 304.0 82.5 305.0 81.8 306.0 80.2 307.0 79.4 308.0 80.5 309.0 82.4 310.0 82.9 314.0 82.4 317.0 82.5 318.0 82.3 321.0 82.2 323.0 81.5 324.0 81.9 325.0 81.7 326.0 80.9 327.0 81.2 329.0 83.2 330.0 82.8 331.0 81.7 332.0 82.1 333.0 82.2 335.0 81.8 336.0 82.0 337.0 83.1 338.0 83.3 339.0 82.9 340.0 83.5 341.0 83.7 342.0 82.9 343.0 82.4 345.0 82.4 346.0 83.5 347.0 85.3 348.0 85.5 349.0 85.4 350.0 85.8 351.0 85.8 352.0 85.6 354.0 86.9 355.0 86.1 356.0 85.7 358.0 87.5 359.0 87.7 360.0 86.8 361.0 85.3 362.0 85.9 363.0 86.9 364.0 86.6 366.0 87.5 367.0 87.7 368.0 89.4 369.0 89.8 370.0 89.4 371.0 89.3 372.0 88.5 374.0 89.3 375.0 88.3 376.0 88.9 377.0 90.2 379.0 87.3 380.0 88.2" stroke="#3030ea"/>
<path d="M292.0 72.8 293.0 72.9 295.0 72.1 296.0 72.4 297.0 72.0 300.0 69.7 301.0 70.0 303.0 71.2 304.0 72.3 305.0 71.8 306.0 70.4 307.0 70.7 308.0 72.4 309.0 72.7 310.0 70.9 311.0 70.2 312.0 70.6 314.0 69.8 315.0 69.9 316.0 69.5 317.0 69.3 318.0 70.7 319.0 71.1 320.0 70.9 321.0 71.9 322.0 72.0 323.0 71.8 324.0 72.1 326.0 71.0 327.0 70.8 329.0 69.8 330.0 69.0 332.0 68.3 333.0 68.8 334.0 71.2 335.0 72.3 336.0 71.6 339.0 70.8 340.0 70.9 341.0 71.9 342.0 72.6 343.0 72.2 344.0 70.8 345.0 70.1 347.0 72.7 350.0 74.6 351.0 74.9 353.0 74.8 355.0 75.0 357.0 76.3 358.0 76.2 359.0 76.9 360.0 77.8 361.0 78.1 362.0 77.7 363.0 77.9 364.0 79.4 365.0 79.5 366.0 77.9 367.0 77.6 368.0 78.2 370.0 80.5 372.0 79.6 373.0 80.2 375.0 81.8 376.0 81.4 377.0 79.5 378.0 78.9 380.0 79.5" stroke="#3030ea"/>
<path d="M292.0 71.0 293.0 70.6 295.0 71.3 296.0 70.7 297.0 69.6 298.0 68.9 299.0 69.1 300.0 69.6 302.0 68.1 303.0 69.3 304.0 71.1 305.0 71.2 307.0 68.7 308.0 68.0 310.0 67.2 312.0 67.7 313.0 67.3 314.0 67.2 315.0 68.0 316.0 68.3 317.0 68.1 319.0 68.2 322.0 66.8 323.0 66.7 325.0 67.4 327.0 66.2 328.0 66.5 330.0 65.9 334.0 66.5 336.0 67.2 337.0 66.4 338.0 64.2 339.0 63.1 340.0 63.5 341.0 63.5 342.0 64.6 343.0 65.3 345.0 62.3 347.0 62.8 348.0 62.5 350.0 63.7 351.0 63.9 352.0 63.2 354.0 63.1 356.0 60.6 357.0 60.8 360.0 62.4 362.0 61.3 363.0 61.3 364.0 60.5 365.0 59.2 366.0 60.2 367.0 61.7 368.0 61.6 370.0 59.9 372.0 60.3 373.0 59.8 374.0 60.5 375.0 60.4 376.0 58.8 377.0 58.7 378.0 59.5 380.0 59.5" stroke="#3030ea"/>
<path d="M292.0 53.5 293.0 53.2 295.0 53.8 297.0 50.6 298.0 51.1 299.0 52.8 300.0 53.8 302.0 52.1 303.0 52.7 304.0 53.0 305.0 52.4 306.0 52.4 307.0 52.7 308.0 52.3 309.0 52.3 311.0 52.9 312.0 52.9 314.0 52.0 315.0 52.3 316.0 52.9 317.0 52.8 318.0 52.3 320.0 51.9 323.0 51.7 324.0 51.9 325.0 51.1 326.0 50.9 328.0 53.4 329.0 53.2 330.0 52.2 332.0 51.7 333.0 51.9 334.0 52.8 336.0 52.4 338.0 52.6 341.0 51.5 342.0 51.6 343.0 52.5 345.0 51.7 347.0 53.7 348.0 53.8 349.0 52.6 350.0 52.1 351.0 53.0 353.0 53.0 354.0 53.5 355.0 52.6 356.0 51.3 358.0 53.3 359.0 53.2 360.0 54.7 361.0 55.4 362.0 54.7 363.0 55.5 364.0 55.8 365.0 55.6 366.0 56.1 368.0 56.1 369.0 55.8 370.0 55.1 371.0 55.2 372.0 55.9 375.0 55.6 376.0 54.8 377.0 55.1 378.0 55.7 380.0 53.8" stroke="#3030ea"/>
<path d="M292.0 59.6 294.0 58.3 295.0 57.4 296.0 57.5 297.0 58.3 298.0 58.7 299.0 58.7 300.0 58.2 302.0 58.4 303.0 57.4 304.0 57.3 306.0 59.6 307.0 58.6 308.0 57.0 309.0 57.7 310.0 59.3 311.0 60.2 312.0 60.2 313.0 58.9 314.0 57.0 315.0 57.5 316.0 58.9 317.0 58.7 319.0 59.6 321.0 57.7 322.0 57.5 323.0 57.6 324.0 58.1 325.0 57.6 326.0 57.8 327.0 58.2 328.0 57.9 329.0 59.2 330.0 59.7 332.0 55.9 333.0 56.1 334.0 57.3 335.0 58.0 337.0 58.3 338.0 58.7 339.0 58.9 341.0 60.5 342.0 60.1 343.0 60.3 345.0 60.0 346.0 60.7 347.0 60.6 348.0 60.2 349.0 60.5 350.0 61.8 351.0 62.5 352.0 62.2 354.0 62.9 356.0 62.0 358.0 63.3 360.0 61.9 361.0 62.2 363.0 64.9 364.0 65.5 365.0 65.4 366.0 64.5 369.0 62.9 370.0 63.0 371.0 63.4 372.0 64.8 373.0 65.4 374.0 64.3 375.0 63.9 377.0 65.1 379.0 64.4 380.0 64.8" stroke="#3030ea"/>
<path d="M292.0 45.0 295.0 44.0 296.0 44.2 297.0 45.7 298.0 46.6 300.0 44.5 302.0 45.1 303.0 44.8 304.0 44.1 305.0 44.0 306.0 44.6 307.0 44.5 308.0 44.0 309.0 44.5 310.0 45.9 311.0 46.4 312.0 45.0 313.0 44.1 314.0 44.0 315.0 43.1 316.0 42.6 317.0 43.4 318.0 43.6 320.0 43.2 322.0 42.4 323.0 42.7 324.0 44.0 325.0 44.5 326.0 43.6 327.0 43.7 328.0 44.3 329.0 44.1 330.0 44.6 331.0 44.7 332.0 43.4 333.0 42.8 334.0 43.5 335.0 44.8 336.0 45.0 337.0 44.6 338.0 44.6 339.0 44.0 340.0 44.0 341.0 44.7 342.0 44.9 343.0 46.2 344.0 46.8 347.0 44.8 348.0 45.2 349.0 46.0 350.0 45.7 351.0 46.5 352.0 47.9 353.0 48.4 354.0 47.7 355.0 46.5 356.0 45.8 357.0 45.7 359.0 47.7 361.0 48.7 363.0 48.9 365.0 49.8 366.0 48.8 367.0 48.5 368.0 50.4 369.0 51.4 370.0 51.8 371.0 51.8 372.0 49.9 373.0 48.6 375.0 50.4 376.0 50.5 378.0 49.8 380.0 50.0" stroke="#3030ea"/>
<path d="M94.0 37.2 95.0 38.9 96.0 41.5 98.0 43.0 99.0 45.0 100.0 46.1 101.0 45.4 102.0 45.4 104.0 48.2 105.0 49.2 106.0 49.6 108.0 52.5 109.0 51.2 110.0 50.5 111.0 51.7 113.0 51.4 114.0 53.3 115.0 54.5 117.0 54.2 120.0 54.5 121.0 55.6 122.0 56.1 123.0 55.5 125.0 57.1 126.0 56.8 127.0 56.8 129.0 58.9 130.0 59.3 131.0 58.6 132.0 58.8 133.0 59.8 134.0 59.1 135.0 57.8 136.0 57.9 138.0 60.7 139.0 60.9 140.0 60.1 141.0 59.8 142.0 60.3 144.0 59.2 145.0 59.0 146.0 59.2 148.0 60.2 150.0 59.9 152.0 58.6 154.0 58.9 156.0 56.6 157.0 56.0 158.0 56.2 159.0 57.3 160.0 57.6 163.0 56.9 164.0 57.7 165.0 59.0 167.0 60.4 169.0 59.4 171.0 60.5 173.0 59.9 174.0 60.2 175.0 60.0 176.0 60.2 178.0 67.4 180.0 61.7 181.0 61.8 183.0 65.0 185.0 66.6 186.0 67.7 187.0 68.4 188.0 68.5 189.0 70.3 190.0 73.4 191.0 75.3 192.0 75.9 194.0 78.4 195.0 78.1 196.0 78.7 197.0 80.8 199.0 83.0 200.0 85.9 201.0 88.1 206.0 93.1 208.0 95.6 209.0 95.6 210.0 95.8 211.0 97.0 212.0 97.8 213.0 98.1 214.0 98.8 216.0 101.2 217.0 102.1 218.0 101.3 219.0 99.9 220.0 100.6 221.0 101.8 222.0 102.1 223.0 103.0 225.0 101.9 226.0 103.3 227.0 104.2 228.0 104.1 229.0 104.7 230.0 104.7 231.0 104.4 232.0 105.0 234.0 105.2 237.0 107.4 239.0 107.6 240.0 107.5 242.0 105.9 243.0 106.2 245.0 106.2 247.0 107.8 248.0 108.2 250.0 107.8 252.0 108.6 253.0 109.2 254.0 109.3 256.0 109.1 257.0 109.7 258.0 109.9" stroke="#3030ea"/>
<path d="M94.0 42.2 95.0 42.3 96.0 44.0 97.0 46.2 99.0 49.0 103.0 53.0 106.0 58.3 107.0 61.1 108.0 62.4 110.0 63.6 112.0 65.7 114.0 66.0 117.0 67.3 119.0 68.7 120.0 68.9 121.0 69.9 122.0 69.8 123.0 68.4 124.0 69.1 125.0 70.6 126.0 71.3 127.0 71.5 128.0 70.7 129.0 70.4 131.0 72.3 132.0 73.0 133.0 73.2 135.0 72.9 137.0 73.5 139.0 73.7 140.0 73.5 141.0 73.0 143.0 74.5 144.0 74.1 146.0 74.3 149.0 72.4 150.0 72.9 151.0 74.2 152.0 74.6 153.0 74.6 155.0 74.9 157.0 74.6 158.0 74.7 159.0 75.8 162.0 80.7 163.0 81.5 165.0 82.0 166.0 83.1 167.0 85.4 168.0 86.7 169.0 86.6 170.0 87.4 171.0 89.1 174.0 93.4 175.0 94.1 176.0 94.3 177.0 94.2 178.0 94.5 180.0 97.4 181.0 98.2 183.0 97.0 184.0 97.6 185.0 99.0 186.0 99.6 187.0 99.4 188.0 98.5 189.0 98.7 190.0 100.3 191.0 100.3 192.0 99.6 194.0 99.9 195.0 100.4 196.0 101.8 197.0 102.0 198.0 101.3 199.0 102.1 200.0 102.6 201.0 102.0 202.0 102.6 203.0 102.9 205.0 101.0 206.0 100.8 208.0 104.3 210.0 106.3 211.0 106.3 212.0 105.7 213.0 105.9 214.0 105.5 215.0 104.7 216.0 105.1 218.0 107.1 219.0 107.1 220.0 106.0 221.0 105.4 222.0 106.6 223.0 108.4 224.0 109.2 225.0 109.1 227.0 106.7 228.0 106.5 230.0 108.3 231.0 110.0 232.0 110.9 233.0 109.7 234.0 109.7 235.0 110.3 236.0 110.4 238.0 110.2 239.0 110.6 240.0 110.3 242.0 111.2 243.0 110.8 244.0 111.5 245.0 111.6 246.0 111.4 248.0 112.0 249.0 112.9 250.0 113.1 251.0 112.6 252.0 112.9 253.0 112.2 254.0 111.3 256.0 112.9 257.0 112.4 258.0 112.3" stroke="#3030ea"/>
<path d="M94.0 41.0 95.0 42.0 97.0 41.6 98.0 42.0 99.0 41.9 100.0 41.1 101.0 41.2 103.0 45.2 104.0 45.9 105.0 46.0 106.0 47.2 107.0 48.8 109.0 49.5 111.0 52.1 113.0 53.2 114.0 56.8 115.0 61.7 116.0 64.3 118.0 65.0 119.0 66.2 121.0 68.1 122.0 67.8 123.0 67.1 125.0 69.5 126.0 69.2 127.0 69.2 129.0 69.6 130.0 70.0 131.0 71.1 132.0 71.6 133.0 71.8 134.0 73.3 135.0 73.8 136.0 72.7 137.0 72.7 139.0 73.7 141.0 75.5 142.0 75.7 143.0 75.5 144.0 75.6 145.0 75.9 146.0 76.7 147.0 77.0 152.0 72.0 153.0 72.8 154.0 74.2 155.0 74.6 156.0 74.3 157.0 73.4 158.0 73.3 159.0 74.1 160.0 73.6 161.0 72.5 162.0 73.1 163.0 74.7 164.0 75.5 166.0 73.5 168.0 74.9 169.0 74.6 171.0 76.4 173.0 76.2 174.0 76.2 175.0 75.1 176.0 74.6 178.0 81.6 179.0 81.5 180.0 80.0 182.0 80.3 183.0 79.2 184.0 78.7 186.0 79.6 188.0 79.6 189.0 79.8 191.0 81.5 193.0 82.0 195.0 79.9 197.0 82.1 198.0 82.1 199.0 81.3 200.0 81.6 201.0 82.5 203.0 83.4 205.0 85.2 207.0 85.0 208.0 85.1 210.0 86.4 212.0 86.8 213.0 87.7 214.0 88.2 215.0 87.4 216.0 85.7 217.0 85.3 219.0 87.5 220.0 87.7 222.0 87.4 225.0 87.5 226.0 88.5 227.0 90.1 229.0 89.9 230.0 90.9 231.0 90.7 232.0 90.1 233.0 90.3 234.0 91.0 235.0 91.2 236.0 91.0 237.0 91.2 238.0 91.6 240.0 94.2 241.0 94.1 242.0 93.6 243.0 94.3 244.0 94.3 245.0 93.3 247.0 94.6 249.0 94.4 250.0 94.0 251.0 94.1 252.0 96.0 253.0 97.1 254.0 96.9 255.0 97.8 256.0 97.6 257.0 96.8 258.0 97.0" stroke="#3030ea"/>
<path d="M94.0 37.1 95.0 36.9 96.0 38.1 97.0 37.1 98.0 35.1 99.0 34.3 101.0 34.9 104.0 35.4 105.0 36.1 106.0 36.0 107.0 35.2 108.0 34.0 109.0 33.3 110.0 34.0 112.0 33.7 113.0 34.3 115.0 33.2 117.0 34.9 118.0 35.1 119.0 35.6 120.0 35.7 122.0 35.3 123.0 35.4 124.0 35.8 126.0 37.1 128.0 37.0 129.0 37.6 131.0 39.3 132.0 38.8 133.0 37.7 134.0 38.2 136.0 39.5 137.0 39.8 138.0 39.7 140.0 42.0 142.0 41.6 144.0 42.2 145.0 42.8 146.0 44.1 147.0 44.5 148.0 43.7 149.0 43.9 150.0 44.7 151.0 44.7 153.0 46.1 154.0 45.6 155.0 45.4 157.0 46.9 158.0 46.9 160.0 45.6 162.0 46.4 163.0 46.2 164.0 46.6 166.0 48.9 167.0 48.9 168.0 47.9 169.0 48.3 170.0 49.7 172.0 50.0 173.0 51.0 174.0 51.1 175.0 50.8 176.0 52.6 178.0 61.4 179.0 60.1 180.0 56.9 181.0 55.0 183.0 54.5 184.0 54.6 186.0 57.2 187.0 57.4 188.0 59.1 189.0 61.4 193.0 63.7 194.0 64.0 195.0 64.8 196.0 66.5 197.0 67.8 202.0 70.9 204.0 74.6 205.0 75.1 206.0 76.2 207.0 78.7 208.0 80.5 210.0 80.2 212.0 83.8 214.0 86.5 216.0 87.9 218.0 90.3 219.0 90.8 220.0 90.5 221.0 89.3 222.0 89.8 223.0 91.3 224.0 90.7 225.0 90.6 226.0 92.0 227.0 91.8 228.0 91.0 229.0 91.4 231.0 92.5 233.0 91.3 235.0 93.9 237.0 95.2 239.0 93.2 240.0 93.6 242.0 93.6 243.0 94.0 244.0 94.0 245.0 95.0 246.0 95.7 247.0 94.9 248.0 95.0 250.0 97.2 251.0 97.8 252.0 97.7 253.0 96.5 254.0 96.5 255.0 97.8 257.0 97.6 258.0 98.0" stroke="#3030ea"/>
<path d="M94.0 54.2 95.0 54.1 96.0 54.5 98.0 55.6 99.0 56.7 100.0 56.9 101.0 55.6 102.0 55.4 104.0 59.0 106.0 58.1 108.0 60.5 109.0 61.4 111.0 61.6 114.0 63.1 115.0 63.2 116.0 63.0 117.0 63.2 118.0 63.9 120.0 67.2 121.0 67.9 122.0 68.2 124.0 68.1 125.0 68.7 126.0 68.7 127.0 69.2 128.0 70.8 129.0 71.1 130.0 70.5 131.0 71.1 132.0 72.6 133.0 72.8 134.0 72.4 135.0 72.5 136.0 73.0 137.0 73.8 138.0 74.2 140.0 73.3 141.0 73.3 142.0 73.7 143.0 74.4 144.0 74.8 145.0 74.4 146.0 74.9 147.0 76.2 148.0 76.9 149.0 76.6 150.0 75.4 151.0 75.0 152.0 75.2 153.0 73.4 154.0 72.1 155.0 72.8 156.0 74.1 157.0 74.2 158.0 73.4 159.0 73.5 160.0 73.4 162.0 74.1 164.0 72.3 166.0 73.1 168.0 71.2 169.0 71.8 170.0 72.8 171.0 73.3 173.0 72.2 175.0 72.6 177.0 71.3 178.0 71.4 180.0 74.3 182.0 72.8 185.0 74.6 186.0 75.4 187.0 75.7 188.0 75.5 190.0 76.7 192.0 75.9 193.0 76.3 194.0 76.3 196.0 75.9 197.0 75.5 198.0 76.2 199.0 78.1 200.0 78.1 201.0 76.3 202.0 76.4 203.0 77.7 204.0 78.5 205.0 78.7 206.0 77.9 207.0 77.7 208.0 78.7 209.0 78.6 210.0 77.7 211.0 77.7 212.0 78.4 213.0 78.6 215.0 78.4 216.0 78.0 217.0 78.6 218.0 79.9 219.0 80.3 220.0 80.4 221.0 81.0 223.0 80.5 224.0 81.4 225.0 80.7 226.0 78.9 227.0 79.3 228.0 81.5 229.0 82.3 230.0 81.1 231.0 80.8 232.0 81.7 235.0 81.6 237.0 80.2 238.0 80.3 240.0 82.8 242.0 81.7 243.0 82.3 244.0 83.3 245.0 83.7 246.0 83.5 248.0 84.9 249.0 83.8 250.0 83.2 251.0 83.9 252.0 85.6 253.0 86.6 255.0 83.7 258.0 83.7" stroke="#3030ea"/>
<path d="M94.0 43.0 95.0 44.3 96.0 44.6 98.0 45.7 99.0 45.9 101.0 46.6 102.0 46.6 103.0 46.0 104.0 46.5 105.0 47.9 107.0 48.1 110.0 50.3 111.0 50.7 112.0 50.8 113.0 51.1 114.0 52.5 115.0 53.5 116.0 53.1 117.0 53.2 118.0 54.1 120.0 56.4 121.0 56.1 122.0 56.4 123.0 57.3 124.0 56.7 125.0 56.9 126.0 57.8 128.0 57.8 129.0 58.1 130.0 58.7 132.0 58.6 135.0 61.3 136.0 61.6 138.0 61.2 139.0 62.1 140.0 62.4 141.0 61.2 142.0 60.6 145.0 62.0 147.0 63.7 148.0 63.4 149.0 63.4 152.0 66.7 154.0 66.4 156.0 67.9 158.0 68.5 159.0 69.2 160.0 69.4 161.0 69.2 163.0 67.7 164.0 68.1 165.0 70.5 166.0 72.0 167.0 71.4 169.0 72.7 170.0 72.1 171.0 72.0 173.0 73.3 174.0 73.5 175.0 75.5 176.0 79.2 177.0 80.7 179.0 75.7 181.0 75.8 182.0 75.1 184.0 77.7 185.0 77.8 186.0 78.1 187.0 77.5 188.0 77.5 189.0 79.1 190.0 78.9 191.0 77.3 192.0 77.6 193.0 79.6 194.0 80.5 196.0 79.1 197.0 79.2 199.0 80.3 200.0 79.6 201.0 78.4 202.0 79.0 203.0 80.3 204.0 80.2 205.0 80.3 206.0 80.8 207.0 80.8 208.0 81.8 209.0 82.1 210.0 80.3 211.0 79.4 212.0 80.6 213.0 81.3 215.0 81.0 216.0 81.3 217.0 82.1 219.0 82.7 220.0 82.3 221.0 82.1 222.0 83.0 223.0 83.0 224.0 82.4 225.0 83.0 226.0 84.1 227.0 84.1 229.0 83.4 230.0 83.2 231.0 83.4 232.0 82.7 233.0 82.9 234.0 84.5 235.0 85.2 237.0 84.5 239.0 84.5 240.0 84.9 241.0 84.9 242.0 84.5 243.0 85.2 244.0 86.3 245.0 87.0 246.0 87.2 248.0 85.3 250.0 87.5 251.0 87.7 253.0 85.5 255.0 85.9 257.0 87.0 258.0 87.0" stroke="#3030ea"/>
<path d="M462.0 90.5 463.0 82.7 464.0 98.8 465.0 125.5 466.0 140.6 467.0 130.9 469.0 86.1 470.0 74.2 471.0 65.0 472.0 57.4 473.0 51.6" stroke="#3030ea"/>
<path d="M462.0 80.1 463.0 73.0 464.0 86.7 465.0 109.5 466.0 122.6 467.0 115.6 469.0 77.9 470.0 66.7 472.0 48.0 473.0 41.8" stroke="#3030ea"/>
<path d="M462.0 71.5 463.0 64.0 464.0 75.0 465.0 94.8 466.0 106.1 467.0 99.9 469.0 67.8 470.0 61.1 471.0 58.8 472.0 55.3 473.0 52.7" stroke="#3030ea"/>
<path d="M462.0 71.6 463.0 64.0 464.0 74.4 465.0 91.1 466.0 100.8 467.0 95.6 469.0 65.9 470.0 56.9 473.0 42.8" stroke="#3030ea"/>
<path d="M483.0 74.4 485.0 83.9 486.0 90.6 489.0 119.6 491.0 137.0 492.0 144.0 493.0 143.7 494.0 135.4 498.0 79.9" stroke="#3030ea"/>
<path d="M483.0 86.9 485.0 99.4 489.0 134.1 491.0 146.0 492.0 149.7 493.0 144.8 498.0 91.1" stroke="#3030ea"/>
<path d="M483.0 77.0 485.0 89.4 490.0 128.8 491.0 135.8 492.0 139.7 493.0 137.0 494.0 132.4 496.0 114.4 498.0 99.9" stroke="#3030ea"/>
<path d="M483.0 78.8 485.0 84.4 486.0 89.3 488.0 101.8 490.0 116.6 492.0 128.4 493.0 132.2 494.0 129.9 495.0 123.5 497.0 100.9 498.0 92.5" stroke="#3030ea"/>
<path d="M483.0 73.2 484.0 79.2 485.0 87.3 489.0 121.6 490.0 128.4 491.0 132.5 492.0 126.5 496.0 74.4 498.0 59.2" stroke="#3030ea"/>
<path d="M483.0 74.6 485.0 84.0 486.0 89.8 491.0 129.1 493.0 141.7 494.0 138.8 495.0 129.5 498.0 93.4" stroke="#3030ea"/>
<path d="M483.0 69.3 485.0 74.8 487.0 82.5 489.0 97.8 493.0 122.2 494.0 120.3 495.0 109.7 498.0 70.9" stroke="#3030ea"/>
<path d="M483.0 71.9 485.0 81.9 486.0 88.0 490.0 117.8 491.0 123.6 492.0 124.4 493.0 118.7 496.0 87.9 497.0 78.7 498.0 72.0" stroke="#3030ea"/>
<path d="M452.0 188.4 454.0 222.6 455.0 232.9 456.0 227.5 458.0 199.1 459.0 187.6" stroke="#3030ea"/>
<path d="M452.0 207.2 454.0 243.9 455.0 249.8 456.0 241.9 459.0 199.0" stroke="#3030ea"/>
<path d="M452.0 172.6 454.0 204.9 455.0 213.9 456.0 210.2 457.0 199.3 459.0 167.4" stroke="#3030ea"/>
<path d="M452.0 160.9 454.0 189.5 455.0 196.9 456.0 192.9 459.0 157.3" stroke="#3030ea"/>
<path d="M452.0 150.6 454.0 176.8 455.0 185.5 456.0 183.0 457.0 174.2 459.0 147.9" stroke="#3030ea"/>
</g>
</svg>
<g stroke="#111" stroke-width="1.5" fill="none">
<path d="M70.9 31.8 V395.7 H522.5"/>
</g>
<g class="t" font-size="16.3">
<text x="35.2" y="38.2">1.<tspan x="51.0">0</tspan></text>
<text x="35.2" y="129.1">0.<tspan x="51.0">9</tspan></text>
<text x="35.2" y="219.9">0.<tspan x="51.0">8</tspan></text>
<text x="35.2" y="310.7">0.<tspan x="51.0">7</tspan></text>
<text x="35.2" y="401.5">0.<tspan x="51.0">6</tspan></text>
</g>
<g class="t" font-size="16" text-anchor="middle">
<text x="71" y="417">500</text>
<text x="183.9" y="417">1000</text>
<text x="296.8" y="417">1500</text>
<text x="409.6" y="417">2000</text>
<text x="522.5" y="417">2500</text>
</g>
<g class="t" font-size="19">
<text x="265" y="20.8">1413</text>
<text x="370.8" y="20.8">1911</text>
<text x="430.5" y="20.8">2200</text>
<text x="469.8" y="20.8">2350</text>
<text x="509.5" y="20.8">2450</text>
</g>
<line x1="77.6" y1="273" x2="130" y2="273" stroke="#ff1a1a" stroke-width="1.5"/>
<line x1="77.6" y1="316.9" x2="130" y2="316.9" stroke="#3030ea" stroke-width="1.5"/>
<g class="t" font-size="17">
<text x="141" y="278.5">Li-rich pegmatite</text>
<text x="142" y="321.5">Li-poor pegmatite</text>
</g>
<text class="m" font-size="18.6" transform="translate(249.3 441.5) scale(1.024 0.91)">Wavelength</text>
<text class="m" font-size="18.8" transform="translate(29.6 353.2) rotate(-90) scale(1.044 0.88)">Continuum-removed reflectance</text>
</svg>
</body></html>
